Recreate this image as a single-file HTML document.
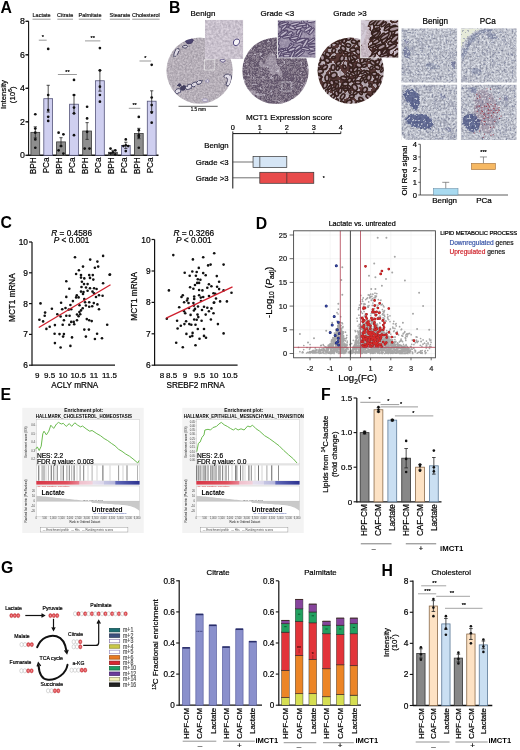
<!DOCTYPE html>
<html><head><meta charset="utf-8"><title>Figure</title>
<style>
html,body{margin:0;padding:0;background:#fff;}
body{width:520px;height:750px;overflow:hidden;}
svg{display:block;}
text{font-family:"Liberation Sans", Arial, sans-serif;}
</style></head><body>
<svg width="520" height="750" viewBox="0 0 520 750">
<defs>
<clipPath id="c_ben"><circle cx="199.6" cy="70.6" r="33.2"/></clipPath>
<filter id="n_ben" x="0" y="0" width="1" height="1" color-interpolation-filters="sRGB"><feTurbulence type="fractalNoise" baseFrequency="0.55" numOctaves="2" seed="3"/><feColorMatrix type="matrix" values="0.3 0 0 0 0.564  0.3 0 0 0 0.536  0.28 0 0 0 0.582  0 0 0 0 1"/></filter>
<filter id="l_ben" x="0" y="0" width="1" height="1" color-interpolation-filters="sRGB"><feTurbulence type="fractalNoise" baseFrequency="0.09" numOctaves="2" seed="12"/><feColorMatrix type="matrix" values="0 0 0 0 0.549  0 0 0 0 0.518  0 0 0 0 0.627  1 0 0 0 0"/><feComponentTransfer><feFuncA type="table" tableValues="0 0 0 0 0 0 0 0 0 0 0 0 0 0 0 0 0 0 0 0 0 0 0 0 0 0 0 0 0 0 0 0.6 0.6 0.6 0.6 0.6 0.6 0.6 0.6 0.6 0.6 0.6 0.6 0.6 0.6 0.6 0.6 0.6 0.6 0.6 0.6"/></feComponentTransfer></filter>
<filter id="wob" x="-0.2" y="-0.2" width="1.4" height="1.4"><feTurbulence type="fractalNoise" baseFrequency="0.45" numOctaves="2" seed="4"/><feDisplacementMap in="SourceGraphic" scale="2.2" xChannelSelector="R" yChannelSelector="G"/></filter>
<clipPath id="c_g1"><circle cx="275.5" cy="70.8" r="33.2"/></clipPath>
<filter id="soft" x="0" y="0" width="1" height="1"><feGaussianBlur stdDeviation="0.35"/></filter>
<filter id="n_g1" x="0" y="0" width="1" height="1" color-interpolation-filters="sRGB"><feTurbulence type="fractalNoise" baseFrequency="0.55" numOctaves="2" seed="5"/><feColorMatrix type="matrix" values="0.36 0 0 0 0.342  0.36 0 0 0 0.298  0.34 0 0 0 0.371  0 0 0 0 1"/></filter>
<filter id="l_g1" x="0" y="0" width="1" height="1" color-interpolation-filters="sRGB"><feTurbulence type="fractalNoise" baseFrequency="0.32" numOctaves="2" seed="21"/><feColorMatrix type="matrix" values="0 0 0 0 0.290  0 0 0 0 0.235  0 0 0 0 0.337  1 0 0 0 0"/><feComponentTransfer><feFuncA type="table" tableValues="0 0 0 0 0 0 0 0 0 0 0 0 0 0 0 0 0 0 0 0 0 0 0 0 0 0 0 0 0 0 0 0 0 0 0 0 0 0 0 0 0 0 0 0.55 0.55 0.55 0.55 0.55 0.55 0.55 0.55 0.55 0.55 0.55 0.55 0 0 0 0 0 0 0 0 0 0 0 0 0 0 0 0 0 0 0 0 0 0 0 0 0 0 0 0 0 0 0 0 0 0 0 0 0 0 0 0 0 0 0 0 0 0"/></feComponentTransfer></filter>
<filter id="w_g1" x="0" y="0" width="1" height="1" color-interpolation-filters="sRGB"><feTurbulence type="fractalNoise" baseFrequency="0.05" numOctaves="3" seed="31"/><feColorMatrix type="matrix" values="0 0 0 0 0.784  0 0 0 0 0.753  0 0 0 0 0.800  1 0 0 0 0"/><feComponentTransfer><feFuncA type="table" tableValues="0.5 0.5 0.5 0.5 0.5 0.5 0.5 0.5 0.5 0.5 0.5 0.5 0.5 0.5 0.5 0.5 0.5 0.5 0.5 0.5 0.5 0.5 0.5 0.5 0.5 0.5 0.5 0.5 0.5 0.5 0.5 0.5 0.5 0.5 0.5 0.5 0.5 0.5 0.5 0 0 0 0 0 0 0 0 0 0 0 0 0 0 0 0 0 0 0 0 0 0 0 0 0 0 0 0 0 0 0 0 0 0 0 0 0 0 0 0 0 0 0 0 0 0 0 0 0 0 0 0 0 0 0 0 0 0 0 0 0 0"/></feComponentTransfer></filter>
<filter id="w_g1b" x="0" y="0" width="1" height="1" color-interpolation-filters="sRGB"><feTurbulence type="fractalNoise" baseFrequency="0.3" numOctaves="1" seed="33"/><feColorMatrix type="matrix" values="0 0 0 0 0.847  0 0 0 0 0.831  0 0 0 0 0.878  1 0 0 0 0"/><feComponentTransfer><feFuncA type="table" tableValues="0 0 0 0 0 0 0 0 0 0 0 0 0 0 0 0 0 0 0 0 0 0 0 0 0 0 0 0 0 0 0 0 0 0 0 0 0 0 0 0 0 0 0 0 0 0 0 0 0 0 0 0 0 0 0 0 0 0 0 0 0 0 0 0 0 0 0 0 0 0 0.6 0.6 0.6 0.6 0.6 0.6 0.6 0.6 0.6 0.6 0.6 0.6 0.6 0.6 0.6 0.6 0.6 0.6 0.6 0.6 0.6 0.6 0.6 0.6 0.6 0.6 0.6 0.6 0.6 0.6 0.6"/></feComponentTransfer></filter>
<clipPath id="c_g2"><circle cx="350.7" cy="70.6" r="33.2"/></clipPath>
<filter id="n_g2" x="0" y="0" width="1" height="1" color-interpolation-filters="sRGB"><feTurbulence type="fractalNoise" baseFrequency="0.5" numOctaves="2" seed="7"/><feColorMatrix type="matrix" values="0.3 0 0 0 0.556  0.3 0 0 0 0.509  0.3 0 0 0 0.540  0 0 0 0 1"/></filter>
<filter id="l_g2" x="0" y="0" width="1" height="1" color-interpolation-filters="sRGB"><feTurbulence type="fractalNoise" baseFrequency="0.13" numOctaves="2" seed="41"/><feColorMatrix type="matrix" values="0 0 0 0 0.290  0 0 0 0 0.165  0 0 0 0 0.157  1 0 0 0 0"/><feComponentTransfer><feFuncA type="table" tableValues="0 0 0 0 0 0 0 0 0 0 0 0 0 0 0 0 0 0 0 0 0 0 0 0 0 0 0 0 0 0 0 0 0 0 0 0 0 0.9 0.9 0.9 0.9 0.9 0.9 0.9 0.9 0.9 0.9 0.9 0.9 0.9 0.9 0.9 0.9 0.9 0 0 0 0 0 0 0 0 0 0 0 0 0 0 0 0 0 0 0 0 0 0 0 0 0 0 0 0 0 0 0 0 0 0 0 0 0 0 0 0 0 0 0 0 0 0 0"/></feComponentTransfer></filter>
<filter id="n_ib" x="0" y="0" width="1" height="1" color-interpolation-filters="sRGB"><feTurbulence type="fractalNoise" baseFrequency="0.42" numOctaves="2" seed="13"/><feColorMatrix type="matrix" values="0.3 0 0 0 0.638  0.3 0 0 0 0.607  0.28 0 0 0 0.664  0 0 0 0 1"/></filter>
<filter id="l_ib" x="0" y="0" width="1" height="1" color-interpolation-filters="sRGB"><feTurbulence type="fractalNoise" baseFrequency="0.12" numOctaves="3" seed="17"/><feColorMatrix type="matrix" values="0 0 0 0 0.541  0 0 0 0 0.502  0 0 0 0 0.627  1 0 0 0 0"/><feComponentTransfer><feFuncA type="table" tableValues="0 0 0 0 0 0 0 0 0 0 0 0 0 0 0 0 0 0 0 0 0 0 0 0 0 0 0 0 0 0 0.5 0.5 0.5 0.5 0.5 0.5 0.5 0.5 0.5 0.5 0.5 0.5 0.5 0.5 0.5 0.5 0.5 0.5 0.5 0.5 0.5"/></feComponentTransfer></filter>
<filter id="n_i1" x="0" y="0" width="1" height="1" color-interpolation-filters="sRGB"><feTurbulence type="fractalNoise" baseFrequency="0.45" numOctaves="2" seed="15"/><feColorMatrix type="matrix" values="0.3 0 0 0 0.454  0.3 0 0 0 0.415  0.26 0 0 0 0.529  0 0 0 0 1"/></filter>
<clipPath id="c_i1"><rect x="277.9" y="20.5" width="37.5" height="37.0"/></clipPath>
<filter id="n_i2" x="0" y="0" width="1" height="1" color-interpolation-filters="sRGB"><feTurbulence type="fractalNoise" baseFrequency="0.45" numOctaves="2" seed="19"/><feColorMatrix type="matrix" values="0.3 0 0 0 0.619  0.3 0 0 0 0.564  0.3 0 0 0 0.603  0 0 0 0 1"/></filter>
<filter id="l_i2" x="0" y="0" width="1" height="1" color-interpolation-filters="sRGB"><feTurbulence type="fractalNoise" baseFrequency="0.1" numOctaves="2" seed="43"/><feColorMatrix type="matrix" values="0 0 0 0 0.243  0 0 0 0 0.133  0 0 0 0 0.125  1 0 0 0 0"/><feComponentTransfer><feFuncA type="table" tableValues="0 0 0 0 0 0 0 0 0 0 0 0 0 0 0 0 0 0 0 0 0 0 0 0 0 0 0 0 0 0 0 0 0 0 0 0 0 0 0 0 0 0 0.95 0.95 0.95 0.95 0.95 0.95 0.95 0.95 0.95 0 0 0 0 0 0 0 0 0 0 0 0 0 0 0 0 0 0 0 0 0 0 0 0 0 0 0 0 0 0 0 0 0 0 0 0 0 0 0 0 0 0 0 0 0 0 0 0 0 0"/></feComponentTransfer></filter>
<clipPath id="c_i2"><rect x="361.0" y="20.2" width="37.2" height="37.2"/></clipPath>
<filter id="wob2" x="-0.3" y="-0.3" width="1.6" height="1.6"><feTurbulence type="fractalNoise" baseFrequency="0.35" numOctaves="2" seed="9"/><feDisplacementMap in="SourceGraphic" scale="4" xChannelSelector="R" yChannelSelector="G"/><feGaussianBlur stdDeviation="0.4"/></filter>
<filter id="n_oTL" x="0" y="0" width="1" height="1" color-interpolation-filters="sRGB"><feTurbulence type="fractalNoise" baseFrequency="0.5" numOctaves="2" seed="61"/><feColorMatrix type="matrix" values="0.55 0 0 0 0.462  0.55 0 0 0 0.474  0.5 0 0 0 0.542  0 0 0 0 1"/></filter>
<filter id="w_oTL" x="0" y="0" width="1" height="1" color-interpolation-filters="sRGB"><feTurbulence type="fractalNoise" baseFrequency="0.55" numOctaves="1" seed="91"/><feColorMatrix type="matrix" values="0 0 0 0 0.886  0 0 0 0 0.894  0 0 0 0 0.918  1 0 0 0 0"/><feComponentTransfer><feFuncA type="table" tableValues="0 0 0 0 0 0 0 0 0 0 0 0 0 0 0 0 0 0 0 0 0 0 0 0 0 0 0 0 0 0 0 0 0.65 0.65 0.65 0.65 0.65 0.65 0.65 0.65 0.65 0.65 0.65 0.65 0.65 0.65 0.65 0.65 0.65 0.65 0.65"/></feComponentTransfer></filter>
<filter id="d_oTL" x="0" y="0" width="1" height="1" color-interpolation-filters="sRGB"><feTurbulence type="fractalNoise" baseFrequency="0.5" numOctaves="2" seed="71"/><feColorMatrix type="matrix" values="0 0 0 0 0.361  0 0 0 0 0.392  0 0 0 0 0.533  1 0 0 0 0"/><feComponentTransfer><feFuncA type="table" tableValues="0 0 0 0 0 0 0 0 0 0 0 0 0 0 0 0 0 0 0 0 0 0 0 0 0 0 0 0 0 0 0 0 0 0 0.42 0.42 0.42 0.42 0.42 0.42 0.42 0.42 0.42 0.42 0.42 0.42 0.42 0.42 0.42 0.42 0.42"/></feComponentTransfer></filter>
<filter id="e_oTL" x="0" y="0" width="1" height="1" color-interpolation-filters="sRGB"><feTurbulence type="fractalNoise" baseFrequency="0.12" numOctaves="2" seed="81"/><feColorMatrix type="matrix" values="0 0 0 0 0.478  0 0 0 0 0.494  0 0 0 0 0.596  1 0 0 0 0"/><feComponentTransfer><feFuncA type="table" tableValues="0 0 0 0 0 0 0 0 0 0 0 0 0 0 0 0 0 0 0 0 0 0 0 0 0 0 0 0 0 0 0 0 0.25 0.25 0.25 0.25 0.25 0.25 0.25 0.25 0.25 0.25 0.25 0.25 0.25 0.25 0.25 0.25 0.25 0.25 0.25"/></feComponentTransfer></filter>
<clipPath id="c_oTL"><rect x="401.5" y="28.5" width="55.6" height="54.0"/></clipPath>
<filter id="n_oTR" x="0" y="0" width="1" height="1" color-interpolation-filters="sRGB"><feTurbulence type="fractalNoise" baseFrequency="0.5" numOctaves="2" seed="62"/><feColorMatrix type="matrix" values="0.55 0 0 0 0.462  0.55 0 0 0 0.474  0.5 0 0 0 0.542  0 0 0 0 1"/></filter>
<filter id="w_oTR" x="0" y="0" width="1" height="1" color-interpolation-filters="sRGB"><feTurbulence type="fractalNoise" baseFrequency="0.55" numOctaves="1" seed="92"/><feColorMatrix type="matrix" values="0 0 0 0 0.886  0 0 0 0 0.894  0 0 0 0 0.918  1 0 0 0 0"/><feComponentTransfer><feFuncA type="table" tableValues="0 0 0 0 0 0 0 0 0 0 0 0 0 0 0 0 0 0 0 0 0 0 0 0 0 0 0 0 0 0 0 0 0.65 0.65 0.65 0.65 0.65 0.65 0.65 0.65 0.65 0.65 0.65 0.65 0.65 0.65 0.65 0.65 0.65 0.65 0.65"/></feComponentTransfer></filter>
<filter id="d_oTR" x="0" y="0" width="1" height="1" color-interpolation-filters="sRGB"><feTurbulence type="fractalNoise" baseFrequency="0.5" numOctaves="2" seed="72"/><feColorMatrix type="matrix" values="0 0 0 0 0.361  0 0 0 0 0.392  0 0 0 0 0.533  1 0 0 0 0"/><feComponentTransfer><feFuncA type="table" tableValues="0 0 0 0 0 0 0 0 0 0 0 0 0 0 0 0 0 0 0 0 0 0 0 0 0 0 0 0 0 0 0 0 0 0 0.42 0.42 0.42 0.42 0.42 0.42 0.42 0.42 0.42 0.42 0.42 0.42 0.42 0.42 0.42 0.42 0.42"/></feComponentTransfer></filter>
<filter id="e_oTR" x="0" y="0" width="1" height="1" color-interpolation-filters="sRGB"><feTurbulence type="fractalNoise" baseFrequency="0.12" numOctaves="2" seed="82"/><feColorMatrix type="matrix" values="0 0 0 0 0.478  0 0 0 0 0.494  0 0 0 0 0.596  1 0 0 0 0"/><feComponentTransfer><feFuncA type="table" tableValues="0 0 0 0 0 0 0 0 0 0 0 0 0 0 0 0 0 0 0 0 0 0 0 0 0 0 0 0 0 0 0 0 0.25 0.25 0.25 0.25 0.25 0.25 0.25 0.25 0.25 0.25 0.25 0.25 0.25 0.25 0.25 0.25 0.25 0.25 0.25"/></feComponentTransfer></filter>
<clipPath id="c_oTR"><rect x="460.9" y="28.5" width="55.6" height="54.0"/></clipPath>
<filter id="n_oBL" x="0" y="0" width="1" height="1" color-interpolation-filters="sRGB"><feTurbulence type="fractalNoise" baseFrequency="0.5" numOctaves="2" seed="63"/><feColorMatrix type="matrix" values="0.55 0 0 0 0.462  0.55 0 0 0 0.474  0.5 0 0 0 0.542  0 0 0 0 1"/></filter>
<filter id="w_oBL" x="0" y="0" width="1" height="1" color-interpolation-filters="sRGB"><feTurbulence type="fractalNoise" baseFrequency="0.55" numOctaves="1" seed="93"/><feColorMatrix type="matrix" values="0 0 0 0 0.886  0 0 0 0 0.894  0 0 0 0 0.918  1 0 0 0 0"/><feComponentTransfer><feFuncA type="table" tableValues="0 0 0 0 0 0 0 0 0 0 0 0 0 0 0 0 0 0 0 0 0 0 0 0 0 0 0 0 0 0 0 0 0.65 0.65 0.65 0.65 0.65 0.65 0.65 0.65 0.65 0.65 0.65 0.65 0.65 0.65 0.65 0.65 0.65 0.65 0.65"/></feComponentTransfer></filter>
<filter id="d_oBL" x="0" y="0" width="1" height="1" color-interpolation-filters="sRGB"><feTurbulence type="fractalNoise" baseFrequency="0.5" numOctaves="2" seed="73"/><feColorMatrix type="matrix" values="0 0 0 0 0.361  0 0 0 0 0.392  0 0 0 0 0.533  1 0 0 0 0"/><feComponentTransfer><feFuncA type="table" tableValues="0 0 0 0 0 0 0 0 0 0 0 0 0 0 0 0 0 0 0 0 0 0 0 0 0 0 0 0 0 0 0 0 0 0 0.42 0.42 0.42 0.42 0.42 0.42 0.42 0.42 0.42 0.42 0.42 0.42 0.42 0.42 0.42 0.42 0.42"/></feComponentTransfer></filter>
<filter id="e_oBL" x="0" y="0" width="1" height="1" color-interpolation-filters="sRGB"><feTurbulence type="fractalNoise" baseFrequency="0.12" numOctaves="2" seed="83"/><feColorMatrix type="matrix" values="0 0 0 0 0.478  0 0 0 0 0.494  0 0 0 0 0.596  1 0 0 0 0"/><feComponentTransfer><feFuncA type="table" tableValues="0 0 0 0 0 0 0 0 0 0 0 0 0 0 0 0 0 0 0 0 0 0 0 0 0 0 0 0 0 0 0 0 0.25 0.25 0.25 0.25 0.25 0.25 0.25 0.25 0.25 0.25 0.25 0.25 0.25 0.25 0.25 0.25 0.25 0.25 0.25"/></feComponentTransfer></filter>
<clipPath id="c_oBL"><rect x="401.5" y="84.8" width="55.6" height="55.2"/></clipPath>
<filter id="n_oBR" x="0" y="0" width="1" height="1" color-interpolation-filters="sRGB"><feTurbulence type="fractalNoise" baseFrequency="0.5" numOctaves="2" seed="64"/><feColorMatrix type="matrix" values="0.55 0 0 0 0.462  0.55 0 0 0 0.474  0.5 0 0 0 0.542  0 0 0 0 1"/></filter>
<filter id="w_oBR" x="0" y="0" width="1" height="1" color-interpolation-filters="sRGB"><feTurbulence type="fractalNoise" baseFrequency="0.55" numOctaves="1" seed="94"/><feColorMatrix type="matrix" values="0 0 0 0 0.886  0 0 0 0 0.894  0 0 0 0 0.918  1 0 0 0 0"/><feComponentTransfer><feFuncA type="table" tableValues="0 0 0 0 0 0 0 0 0 0 0 0 0 0 0 0 0 0 0 0 0 0 0 0 0 0 0 0 0 0 0 0 0.65 0.65 0.65 0.65 0.65 0.65 0.65 0.65 0.65 0.65 0.65 0.65 0.65 0.65 0.65 0.65 0.65 0.65 0.65"/></feComponentTransfer></filter>
<filter id="d_oBR" x="0" y="0" width="1" height="1" color-interpolation-filters="sRGB"><feTurbulence type="fractalNoise" baseFrequency="0.5" numOctaves="2" seed="74"/><feColorMatrix type="matrix" values="0 0 0 0 0.361  0 0 0 0 0.392  0 0 0 0 0.533  1 0 0 0 0"/><feComponentTransfer><feFuncA type="table" tableValues="0 0 0 0 0 0 0 0 0 0 0 0 0 0 0 0 0 0 0 0 0 0 0 0 0 0 0 0 0 0 0 0 0 0 0.42 0.42 0.42 0.42 0.42 0.42 0.42 0.42 0.42 0.42 0.42 0.42 0.42 0.42 0.42 0.42 0.42"/></feComponentTransfer></filter>
<filter id="e_oBR" x="0" y="0" width="1" height="1" color-interpolation-filters="sRGB"><feTurbulence type="fractalNoise" baseFrequency="0.12" numOctaves="2" seed="84"/><feColorMatrix type="matrix" values="0 0 0 0 0.478  0 0 0 0 0.494  0 0 0 0 0.596  1 0 0 0 0"/><feComponentTransfer><feFuncA type="table" tableValues="0 0 0 0 0 0 0 0 0 0 0 0 0 0 0 0 0 0 0 0 0 0 0 0 0 0 0 0 0 0 0 0 0.25 0.25 0.25 0.25 0.25 0.25 0.25 0.25 0.25 0.25 0.25 0.25 0.25 0.25 0.25 0.25 0.25 0.25 0.25"/></feComponentTransfer></filter>
<clipPath id="c_oBR"><rect x="460.9" y="84.8" width="55.6" height="55.2"/></clipPath>
<clipPath id="cpD"><rect x="293.6" y="230.8" width="141.79999999999995" height="127.0"/></clipPath>
<linearGradient id="cb1" x1="0" x2="1" y1="0" y2="0"><stop offset="0" stop-color="#d83848"/><stop offset="0.3" stop-color="#e0505e"/><stop offset="0.41" stop-color="#e88090"/><stop offset="0.42" stop-color="#f0c0cc"/><stop offset="0.54" stop-color="#f2d0da"/><stop offset="0.55" stop-color="#e6e0ee"/><stop offset="0.65" stop-color="#dcd8ec"/><stop offset="0.66" stop-color="#c4c4e2"/><stop offset="0.76" stop-color="#b8b8dc"/><stop offset="0.77" stop-color="#6068b8"/><stop offset="1" stop-color="#2c3290"/></linearGradient>
<linearGradient id="cb2" x1="0" x2="1" y1="0" y2="0"><stop offset="0" stop-color="#d83848"/><stop offset="0.3" stop-color="#e0505e"/><stop offset="0.41" stop-color="#e88090"/><stop offset="0.42" stop-color="#f0c0cc"/><stop offset="0.54" stop-color="#f2d0da"/><stop offset="0.55" stop-color="#e6e0ee"/><stop offset="0.65" stop-color="#dcd8ec"/><stop offset="0.66" stop-color="#c4c4e2"/><stop offset="0.76" stop-color="#b8b8dc"/><stop offset="0.77" stop-color="#6068b8"/><stop offset="1" stop-color="#2c3290"/></linearGradient>
</defs>
<rect x="0" y="0" width="520" height="750" fill="#fff"/>
<text x="0.50" y="12.60" font-size="15.8" text-anchor="start" font-weight="bold" fill="#000">A</text>
<line x1="28.60" y1="21.30" x2="28.60" y2="155.80" stroke="#111" stroke-width="1.1"/>
<line x1="26.40" y1="155.30" x2="28.60" y2="155.30" stroke="#111" stroke-width="1"/>
<line x1="25.40" y1="155.30" x2="28.60" y2="155.30" stroke="#111" stroke-width="1.2"/>
<text x="25.00" y="158.40" font-size="8.8" text-anchor="end" fill="#000" stroke="#000" stroke-width="0.2">0</text>
<line x1="26.40" y1="121.80" x2="28.60" y2="121.80" stroke="#111" stroke-width="1"/>
<line x1="25.40" y1="121.80" x2="28.60" y2="121.80" stroke="#111" stroke-width="1.2"/>
<text x="25.00" y="124.90" font-size="8.8" text-anchor="end" fill="#000" stroke="#000" stroke-width="0.2">2</text>
<line x1="26.40" y1="88.30" x2="28.60" y2="88.30" stroke="#111" stroke-width="1"/>
<line x1="25.40" y1="88.30" x2="28.60" y2="88.30" stroke="#111" stroke-width="1.2"/>
<text x="25.00" y="91.40" font-size="8.8" text-anchor="end" fill="#000" stroke="#000" stroke-width="0.2">4</text>
<line x1="26.40" y1="54.80" x2="28.60" y2="54.80" stroke="#111" stroke-width="1"/>
<line x1="25.40" y1="54.80" x2="28.60" y2="54.80" stroke="#111" stroke-width="1.2"/>
<text x="25.00" y="57.90" font-size="8.8" text-anchor="end" fill="#000" stroke="#000" stroke-width="0.2">6</text>
<line x1="26.40" y1="21.30" x2="28.60" y2="21.30" stroke="#111" stroke-width="1"/>
<line x1="25.40" y1="21.30" x2="28.60" y2="21.30" stroke="#111" stroke-width="1.2"/>
<text x="25.00" y="24.40" font-size="8.8" text-anchor="end" fill="#000" stroke="#000" stroke-width="0.2">8</text>
<line x1="28.60" y1="155.30" x2="158.50" y2="155.30" stroke="#111" stroke-width="1.4"/>
<text x="6.30" y="94.50" font-size="7.8" text-anchor="middle" fill="#000" stroke="#000" stroke-width="0.2" transform="rotate(-90 6.3 94.5)">Intensity</text>
<text x="14.60" y="94.80" font-size="7.8" text-anchor="middle" fill="#000" stroke="#000" stroke-width="0.2" transform="rotate(-90 14.6 94.8)">(10<tspan font-size="5" dy="-2.8">6</tspan><tspan dy="2.8">)</tspan></text>
<text x="41.55" y="17.30" font-size="5.5" text-anchor="middle" fill="#151515" stroke="#151515" stroke-width="0.2">Lactate</text>
<line x1="32.50" y1="19.20" x2="50.60" y2="19.20" stroke="#555" stroke-width="0.6"/>
<text x="65.15" y="17.30" font-size="5.5" text-anchor="middle" fill="#151515" stroke="#151515" stroke-width="0.2">Citrate</text>
<line x1="57.30" y1="19.20" x2="73.00" y2="19.20" stroke="#555" stroke-width="0.6"/>
<text x="90.00" y="17.30" font-size="5.5" text-anchor="middle" fill="#151515" stroke="#151515" stroke-width="0.2">Palmitate</text>
<line x1="78.80" y1="19.20" x2="101.20" y2="19.20" stroke="#555" stroke-width="0.6"/>
<text x="119.90" y="17.30" font-size="5.5" text-anchor="middle" fill="#151515" stroke="#151515" stroke-width="0.2">Stearate</text>
<line x1="109.80" y1="19.20" x2="130.00" y2="19.20" stroke="#555" stroke-width="0.6"/>
<text x="145.90" y="17.30" font-size="5.5" text-anchor="middle" fill="#151515" stroke="#151515" stroke-width="0.2">Cholesterol</text>
<line x1="132.20" y1="19.20" x2="159.60" y2="19.20" stroke="#555" stroke-width="0.6"/>
<rect x="30.90" y="132.35" width="8.80" height="22.95" fill="#8e8e8e" stroke="#3a3a3a" stroke-width="0.8"/>
<line x1="35.30" y1="126.83" x2="35.30" y2="137.88" stroke="#222" stroke-width="0.8"/>
<line x1="33.70" y1="126.83" x2="36.90" y2="126.83" stroke="#222" stroke-width="0.8"/>
<line x1="33.70" y1="137.88" x2="36.90" y2="137.88" stroke="#222" stroke-width="0.8"/>
<circle cx="35.30" cy="114.26" r="1.35" fill="#111" stroke="none" stroke-width="0.5"/>
<circle cx="35.30" cy="128.50" r="1.35" fill="#111" stroke="none" stroke-width="0.5"/>
<circle cx="35.30" cy="132.69" r="1.35" fill="#111" stroke="none" stroke-width="0.5"/>
<circle cx="35.30" cy="139.39" r="1.35" fill="#111" stroke="none" stroke-width="0.5"/>
<circle cx="35.30" cy="147.76" r="1.35" fill="#111" stroke="none" stroke-width="0.5"/>
<text x="36.20" y="157.40" font-size="8.2" text-anchor="end" fill="#000" stroke="#000" stroke-width="0.2" transform="rotate(-90 36.199999999999996 157.4)">BPH</text>
<rect x="43.80" y="98.69" width="8.80" height="56.61" fill="#cfcff0" stroke="#55557a" stroke-width="0.8"/>
<line x1="48.20" y1="85.29" x2="48.20" y2="112.09" stroke="#222" stroke-width="0.8"/>
<line x1="46.60" y1="85.29" x2="49.80" y2="85.29" stroke="#222" stroke-width="0.8"/>
<line x1="46.60" y1="112.09" x2="49.80" y2="112.09" stroke="#222" stroke-width="0.8"/>
<circle cx="48.20" cy="48.94" r="1.35" fill="#111" stroke="none" stroke-width="0.5"/>
<circle cx="48.20" cy="95.00" r="1.35" fill="#111" stroke="none" stroke-width="0.5"/>
<circle cx="48.20" cy="110.08" r="1.35" fill="#111" stroke="none" stroke-width="0.5"/>
<circle cx="48.20" cy="116.78" r="1.35" fill="#111" stroke="none" stroke-width="0.5"/>
<circle cx="48.20" cy="120.96" r="1.35" fill="#111" stroke="none" stroke-width="0.5"/>
<text x="49.10" y="157.40" font-size="8.2" text-anchor="end" fill="#000" stroke="#000" stroke-width="0.2" transform="rotate(-90 49.1 157.4)">PCa</text>
<rect x="56.60" y="141.90" width="8.80" height="13.40" fill="#8e8e8e" stroke="#3a3a3a" stroke-width="0.8"/>
<line x1="61.00" y1="137.71" x2="61.00" y2="146.09" stroke="#222" stroke-width="0.8"/>
<line x1="59.40" y1="137.71" x2="62.60" y2="137.71" stroke="#222" stroke-width="0.8"/>
<line x1="59.40" y1="146.09" x2="62.60" y2="146.09" stroke="#222" stroke-width="0.8"/>
<circle cx="58.60" cy="132.69" r="1.35" fill="#111" stroke="none" stroke-width="0.5"/>
<circle cx="63.40" cy="134.36" r="1.35" fill="#111" stroke="none" stroke-width="0.5"/>
<circle cx="61.00" cy="146.09" r="1.35" fill="#111" stroke="none" stroke-width="0.5"/>
<circle cx="58.60" cy="150.28" r="1.35" fill="#111" stroke="none" stroke-width="0.5"/>
<circle cx="63.40" cy="153.62" r="1.35" fill="#111" stroke="none" stroke-width="0.5"/>
<text x="61.90" y="157.40" font-size="8.2" text-anchor="end" fill="#000" stroke="#000" stroke-width="0.2" transform="rotate(-90 61.9 157.4)">BPH</text>
<rect x="69.60" y="104.21" width="8.80" height="51.09" fill="#cfcff0" stroke="#55557a" stroke-width="0.8"/>
<line x1="74.00" y1="95.00" x2="74.00" y2="113.43" stroke="#222" stroke-width="0.8"/>
<line x1="72.40" y1="95.00" x2="75.60" y2="95.00" stroke="#222" stroke-width="0.8"/>
<line x1="72.40" y1="113.43" x2="75.60" y2="113.43" stroke="#222" stroke-width="0.8"/>
<circle cx="74.00" cy="79.93" r="1.35" fill="#111" stroke="none" stroke-width="0.5"/>
<circle cx="74.00" cy="95.00" r="1.35" fill="#111" stroke="none" stroke-width="0.5"/>
<circle cx="74.00" cy="107.56" r="1.35" fill="#111" stroke="none" stroke-width="0.5"/>
<circle cx="74.00" cy="113.43" r="1.35" fill="#111" stroke="none" stroke-width="0.5"/>
<circle cx="74.00" cy="135.20" r="1.35" fill="#111" stroke="none" stroke-width="0.5"/>
<text x="74.90" y="157.40" font-size="8.2" text-anchor="end" fill="#000" stroke="#000" stroke-width="0.2" transform="rotate(-90 74.9 157.4)">PCa</text>
<rect x="82.70" y="131.01" width="8.80" height="24.29" fill="#8e8e8e" stroke="#3a3a3a" stroke-width="0.8"/>
<line x1="87.10" y1="122.64" x2="87.10" y2="139.39" stroke="#222" stroke-width="0.8"/>
<line x1="85.50" y1="122.64" x2="88.70" y2="122.64" stroke="#222" stroke-width="0.8"/>
<line x1="85.50" y1="139.39" x2="88.70" y2="139.39" stroke="#222" stroke-width="0.8"/>
<circle cx="87.10" cy="106.73" r="1.35" fill="#111" stroke="none" stroke-width="0.5"/>
<circle cx="87.10" cy="118.45" r="1.35" fill="#111" stroke="none" stroke-width="0.5"/>
<circle cx="87.10" cy="131.85" r="1.35" fill="#111" stroke="none" stroke-width="0.5"/>
<circle cx="84.70" cy="148.60" r="1.35" fill="#111" stroke="none" stroke-width="0.5"/>
<circle cx="89.50" cy="148.60" r="1.35" fill="#111" stroke="none" stroke-width="0.5"/>
<text x="88.00" y="157.40" font-size="8.2" text-anchor="end" fill="#000" stroke="#000" stroke-width="0.2" transform="rotate(-90 88.0 157.4)">BPH</text>
<rect x="95.50" y="80.76" width="8.80" height="74.54" fill="#cfcff0" stroke="#55557a" stroke-width="0.8"/>
<line x1="99.90" y1="70.38" x2="99.90" y2="91.15" stroke="#222" stroke-width="0.8"/>
<line x1="98.30" y1="70.38" x2="101.50" y2="70.38" stroke="#222" stroke-width="0.8"/>
<line x1="98.30" y1="91.15" x2="101.50" y2="91.15" stroke="#222" stroke-width="0.8"/>
<circle cx="99.90" cy="48.10" r="1.35" fill="#111" stroke="none" stroke-width="0.5"/>
<circle cx="99.90" cy="70.38" r="1.35" fill="#111" stroke="none" stroke-width="0.5"/>
<circle cx="99.90" cy="86.63" r="1.35" fill="#111" stroke="none" stroke-width="0.5"/>
<circle cx="99.90" cy="95.00" r="1.35" fill="#111" stroke="none" stroke-width="0.5"/>
<circle cx="99.90" cy="101.70" r="1.35" fill="#111" stroke="none" stroke-width="0.5"/>
<text x="100.80" y="157.40" font-size="8.2" text-anchor="end" fill="#000" stroke="#000" stroke-width="0.2" transform="rotate(-90 100.80000000000001 157.4)">PCa</text>
<rect x="108.50" y="152.29" width="8.80" height="3.01" fill="#8e8e8e" stroke="#3a3a3a" stroke-width="0.8"/>
<line x1="112.90" y1="150.28" x2="112.90" y2="154.30" stroke="#222" stroke-width="0.8"/>
<line x1="111.30" y1="150.28" x2="114.50" y2="150.28" stroke="#222" stroke-width="0.8"/>
<line x1="111.30" y1="154.30" x2="114.50" y2="154.30" stroke="#222" stroke-width="0.8"/>
<circle cx="110.50" cy="148.60" r="1.35" fill="#111" stroke="none" stroke-width="0.5"/>
<circle cx="115.30" cy="150.28" r="1.35" fill="#111" stroke="none" stroke-width="0.5"/>
<circle cx="112.90" cy="152.29" r="1.35" fill="#111" stroke="none" stroke-width="0.5"/>
<circle cx="110.50" cy="153.62" r="1.35" fill="#111" stroke="none" stroke-width="0.5"/>
<circle cx="115.30" cy="154.46" r="1.35" fill="#111" stroke="none" stroke-width="0.5"/>
<text x="113.80" y="157.40" font-size="8.2" text-anchor="end" fill="#000" stroke="#000" stroke-width="0.2" transform="rotate(-90 113.80000000000001 157.4)">BPH</text>
<rect x="121.40" y="145.42" width="8.80" height="9.88" fill="#cfcff0" stroke="#55557a" stroke-width="0.8"/>
<line x1="125.80" y1="142.24" x2="125.80" y2="148.60" stroke="#222" stroke-width="0.8"/>
<line x1="124.20" y1="142.24" x2="127.40" y2="142.24" stroke="#222" stroke-width="0.8"/>
<line x1="124.20" y1="148.60" x2="127.40" y2="148.60" stroke="#222" stroke-width="0.8"/>
<circle cx="125.80" cy="139.39" r="1.35" fill="#111" stroke="none" stroke-width="0.5"/>
<circle cx="123.40" cy="146.09" r="1.35" fill="#111" stroke="none" stroke-width="0.5"/>
<circle cx="128.20" cy="146.09" r="1.35" fill="#111" stroke="none" stroke-width="0.5"/>
<circle cx="125.80" cy="151.11" r="1.35" fill="#111" stroke="none" stroke-width="0.5"/>
<circle cx="125.80" cy="145.25" r="1.35" fill="#111" stroke="none" stroke-width="0.5"/>
<text x="126.70" y="157.40" font-size="8.2" text-anchor="end" fill="#000" stroke="#000" stroke-width="0.2" transform="rotate(-90 126.7 157.4)">PCa</text>
<rect x="134.40" y="133.53" width="8.80" height="21.78" fill="#8e8e8e" stroke="#3a3a3a" stroke-width="0.8"/>
<line x1="138.80" y1="128.33" x2="138.80" y2="138.72" stroke="#222" stroke-width="0.8"/>
<line x1="137.20" y1="128.33" x2="140.40" y2="128.33" stroke="#222" stroke-width="0.8"/>
<line x1="137.20" y1="138.72" x2="140.40" y2="138.72" stroke="#222" stroke-width="0.8"/>
<circle cx="138.80" cy="116.94" r="1.35" fill="#111" stroke="none" stroke-width="0.5"/>
<circle cx="138.80" cy="136.88" r="1.35" fill="#111" stroke="none" stroke-width="0.5"/>
<circle cx="138.80" cy="147.76" r="1.35" fill="#111" stroke="none" stroke-width="0.5"/>
<circle cx="138.80" cy="130.18" r="1.35" fill="#111" stroke="none" stroke-width="0.5"/>
<circle cx="138.80" cy="135.20" r="1.35" fill="#111" stroke="none" stroke-width="0.5"/>
<text x="139.70" y="157.40" font-size="8.2" text-anchor="end" fill="#000" stroke="#000" stroke-width="0.2" transform="rotate(-90 139.70000000000002 157.4)">BPH</text>
<rect x="147.30" y="101.20" width="8.80" height="54.10" fill="#cfcff0" stroke="#55557a" stroke-width="0.8"/>
<line x1="151.70" y1="90.81" x2="151.70" y2="111.58" stroke="#222" stroke-width="0.8"/>
<line x1="150.10" y1="90.81" x2="153.30" y2="90.81" stroke="#222" stroke-width="0.8"/>
<line x1="150.10" y1="111.58" x2="153.30" y2="111.58" stroke="#222" stroke-width="0.8"/>
<circle cx="151.70" cy="64.85" r="1.35" fill="#111" stroke="none" stroke-width="0.5"/>
<circle cx="151.70" cy="97.51" r="1.35" fill="#111" stroke="none" stroke-width="0.5"/>
<circle cx="151.70" cy="105.05" r="1.35" fill="#111" stroke="none" stroke-width="0.5"/>
<circle cx="151.70" cy="112.59" r="1.35" fill="#111" stroke="none" stroke-width="0.5"/>
<circle cx="151.70" cy="122.64" r="1.35" fill="#111" stroke="none" stroke-width="0.5"/>
<text x="152.60" y="157.40" font-size="8.2" text-anchor="end" fill="#000" stroke="#000" stroke-width="0.2" transform="rotate(-90 152.6 157.4)">PCa</text>
<line x1="38.80" y1="40.20" x2="46.70" y2="40.20" stroke="#555" stroke-width="0.6"/>
<text x="42.75" y="39.20" font-size="5.5" text-anchor="middle" fill="#000" stroke="#000" stroke-width="0.2">*</text>
<line x1="57.90" y1="74.50" x2="76.90" y2="74.50" stroke="#555" stroke-width="0.6"/>
<text x="67.40" y="73.50" font-size="5.5" text-anchor="middle" fill="#000" stroke="#000" stroke-width="0.2">**</text>
<line x1="85.00" y1="40.90" x2="100.30" y2="40.90" stroke="#555" stroke-width="0.6"/>
<text x="92.65" y="39.90" font-size="5.5" text-anchor="middle" fill="#000" stroke="#000" stroke-width="0.2">**</text>
<line x1="128.80" y1="108.30" x2="140.40" y2="108.30" stroke="#555" stroke-width="0.6"/>
<text x="134.60" y="107.30" font-size="5.5" text-anchor="middle" fill="#000" stroke="#000" stroke-width="0.2">**</text>
<line x1="139.50" y1="61.00" x2="151.20" y2="61.00" stroke="#555" stroke-width="0.6"/>
<text x="145.35" y="60.00" font-size="5.5" text-anchor="middle" fill="#000" stroke="#000" stroke-width="0.2">*</text>
<text x="168.90" y="12.60" font-size="15.8" text-anchor="start" font-weight="bold" fill="#000">B</text>
<text x="202.90" y="16.00" font-size="8.0" text-anchor="middle" fill="#000" stroke="#000" stroke-width="0.2">Benign</text>
<text x="277.30" y="16.00" font-size="8.0" text-anchor="middle" fill="#000" stroke="#000" stroke-width="0.2">Grade &lt;3</text>
<text x="350.00" y="16.00" font-size="8.0" text-anchor="middle" fill="#000" stroke="#000" stroke-width="0.2">Grade &gt;3</text>
<g clip-path="url(#c_ben)">
<rect x="166.40" y="37.40" width="66.40" height="66.40" fill="#b6afb8" stroke="none" stroke-width="1" filter="url(#n_ben)"/>
<g filter="url(#wob)">
<path d="M185.5 40.5 C187.5 37.8 192 37.6 193.2 40 C193.5 42.5 190.5 44 188 43.6 C186.5 43.3 185.3 42 185.5 40.5 Z" fill="#4e4470" stroke="#3e3660" stroke-width="1.0"/>
<path d="M173.8 55.5 C174 52 176 48.6 178.6 48.2 C179.6 49 178.8 52.5 177 55 C176 56.5 174.4 57 173.8 55.5 Z" fill="#dedae4" stroke="#44415f" stroke-width="1.0"/>
<path d="M182.2 46.8 C183.8 45 187 45 187.8 46.4 C187 48.2 184 48.8 182.2 46.8 Z" fill="#dedae4" stroke="#44415f" stroke-width="1.0"/>
<path d="M175 91.5 C176 88.5 179 88 180.5 89.5 C181.5 91.5 179.5 93.8 177 93.8 C175.8 93.6 175 92.8 175 91.5 Z" fill="#dedae4" stroke="#3c3a5c" stroke-width="1.0"/>
<path d="M180.5 88 C181.5 85.5 184.5 85 186 86.5 C186.5 88.5 184.5 90.5 182.5 90.2 C181 90 180.4 89 180.5 88 Z" fill="#44415f" stroke="#3c3a5c" stroke-width="1.0"/>
<path d="M185.5 87.5 C187 84.5 190.5 83.5 192 85 C192.5 87 190 89.5 187.5 89.5 C186 89.2 185.3 88.5 185.5 87.5 Z" fill="#dedae4" stroke="#3c3a5c" stroke-width="1.0"/>
<path d="M191.5 84.5 C193 82 196.5 81.5 197.5 83 C197.8 85 195.5 86.8 193.5 86.8 C192 86.6 191.4 85.6 191.5 84.5 Z" fill="#dedae4" stroke="#3c3a5c" stroke-width="1.0"/>
<path d="M196.5 82.5 C198 80.3 201 80 202 81.2 C202 83 199.8 84.5 198 84.3 C197 84.1 196.4 83.4 196.5 82.5 Z" fill="#dcd8e2" stroke="#3c3a5c" stroke-width="1.0"/>
<path d="M178 84.5 C179.5 83.2 181.5 84 181 85.8 C180 87 178 86.5 178 84.5 Z" fill="#44415f" stroke="#3c3a5c" stroke-width="1.0"/>
<path d="M223.8 76 C225.5 73.8 229.5 73.5 231.2 75.5 C232.2 78.5 231 83.5 228.5 86 C226.8 86.5 225.5 85 226.5 83 C228 80.5 228 78 226 77.6 C224.8 77.6 224 77.2 223.8 76 Z" fill="#e2dee8" stroke="#44415f" stroke-width="1.0"/>
<path d="M220 60.2 C221.2 58.8 224.6 58.8 225.2 60.6 C224.4 62.6 221.4 62.8 220 60.2 Z" fill="#e2dee8" stroke="#5a5080" stroke-width="1.0"/>
<path d="M206.2 80.5 C207 79 209 79.4 208.8 81.6 C208 83.4 206.4 82.8 206.2 80.5 Z" fill="#e2dee8" stroke="#9088aa" stroke-width="1.0"/>
<path d="M202 100 C203.5 98.4 207 98.4 208 100.2 C206.5 102 203.5 102.2 202 100 Z" fill="#e2dee8" stroke="#a098b8" stroke-width="1.0"/>
</g>
</g>
<g clip-path="url(#c_g1)"><g filter="url(#soft)">
<rect x="242.30" y="37.60" width="66.40" height="66.40" fill="#857a8a" stroke="none" stroke-width="1" filter="url(#n_g1)"/>
<rect x="242.30" y="37.60" width="66.40" height="66.40" fill="#000" stroke="none" stroke-width="1" filter="url(#l_g1)"/>
<rect x="242.30" y="37.60" width="66.40" height="66.40" fill="#000" stroke="none" stroke-width="1" filter="url(#w_g1)"/>
<rect x="242.30" y="37.60" width="66.40" height="66.40" fill="#000" stroke="none" stroke-width="1" filter="url(#w_g1b)"/>
</g></g>
<g clip-path="url(#c_g2)"><g filter="url(#soft)">
<rect x="317.50" y="37.40" width="66.40" height="66.40" fill="#c0b4bc" stroke="none" stroke-width="1" filter="url(#n_g2)"/>
<rect x="317.50" y="37.40" width="66.40" height="66.40" fill="#000" stroke="none" stroke-width="1" filter="url(#l_g2)"/>
<ellipse cx="327.0" cy="77.9" rx="3.1" ry="2.0" transform="rotate(91 327.0 77.9)" fill="#a8949c" stroke="#36201e" stroke-width="1.6"/>
<ellipse cx="338.5" cy="63.2" rx="2.5" ry="1.7" transform="rotate(143 338.5 63.2)" fill="#a8949c" stroke="#36201e" stroke-width="1.6"/>
<ellipse cx="365.9" cy="80.8" rx="1.9" ry="1.4" transform="rotate(125 365.9 80.8)" fill="#a8949c" stroke="#36201e" stroke-width="1.6"/>
<ellipse cx="382.5" cy="79.2" rx="3.2" ry="2.2" transform="rotate(111 382.5 79.2)" fill="#a8949c" stroke="#36201e" stroke-width="1.6"/>
<ellipse cx="352.9" cy="74.0" rx="2.5" ry="1.3" transform="rotate(34 352.9 74.0)" fill="#a8949c" stroke="#36201e" stroke-width="1.6"/>
<ellipse cx="363.8" cy="50.6" rx="2.7" ry="1.8" transform="rotate(119 363.8 50.6)" fill="#a8949c" stroke="#36201e" stroke-width="1.6"/>
<ellipse cx="333.8" cy="75.2" rx="3.2" ry="2.6" transform="rotate(151 333.8 75.2)" fill="#a8949c" stroke="#36201e" stroke-width="1.6"/>
<ellipse cx="345.8" cy="52.6" rx="2.1" ry="1.2" transform="rotate(13 345.8 52.6)" fill="#a8949c" stroke="#36201e" stroke-width="1.6"/>
<ellipse cx="352.8" cy="49.7" rx="3.0" ry="1.8" transform="rotate(172 352.8 49.7)" fill="#a8949c" stroke="#36201e" stroke-width="1.6"/>
<ellipse cx="351.1" cy="70.0" rx="2.1" ry="1.6" transform="rotate(85 351.1 70.0)" fill="#a8949c" stroke="#36201e" stroke-width="1.6"/>
<ellipse cx="371.5" cy="68.0" rx="1.9" ry="1.3" transform="rotate(140 371.5 68.0)" fill="#a8949c" stroke="#36201e" stroke-width="1.6"/>
<ellipse cx="349.5" cy="80.3" rx="2.3" ry="1.8" transform="rotate(136 349.5 80.3)" fill="#a8949c" stroke="#36201e" stroke-width="1.6"/>
<ellipse cx="354.8" cy="57.2" rx="2.6" ry="1.6" transform="rotate(34 354.8 57.2)" fill="#a8949c" stroke="#36201e" stroke-width="1.6"/>
<ellipse cx="349.3" cy="58.7" rx="2.7" ry="1.4" transform="rotate(76 349.3 58.7)" fill="#a8949c" stroke="#36201e" stroke-width="1.6"/>
<ellipse cx="354.7" cy="87.4" rx="3.2" ry="2.3" transform="rotate(55 354.7 87.4)" fill="#a8949c" stroke="#36201e" stroke-width="1.6"/>
<ellipse cx="362.1" cy="60.5" rx="2.4" ry="1.8" transform="rotate(116 362.1 60.5)" fill="#a8949c" stroke="#36201e" stroke-width="1.6"/>
<ellipse cx="377.4" cy="90.1" rx="2.1" ry="1.2" transform="rotate(139 377.4 90.1)" fill="#a8949c" stroke="#36201e" stroke-width="1.6"/>
<ellipse cx="342.1" cy="86.5" rx="1.9" ry="1.0" transform="rotate(105 342.1 86.5)" fill="#a8949c" stroke="#36201e" stroke-width="1.6"/>
<ellipse cx="351.8" cy="96.3" rx="2.3" ry="1.5" transform="rotate(173 351.8 96.3)" fill="#a8949c" stroke="#36201e" stroke-width="1.6"/>
<ellipse cx="368.6" cy="96.7" rx="2.9" ry="1.7" transform="rotate(34 368.6 96.7)" fill="#a8949c" stroke="#36201e" stroke-width="1.6"/>
<ellipse cx="348.6" cy="38.5" rx="2.1" ry="1.6" transform="rotate(159 348.6 38.5)" fill="#a8949c" stroke="#36201e" stroke-width="1.6"/>
<ellipse cx="333.5" cy="57.5" rx="1.9" ry="1.0" transform="rotate(173 333.5 57.5)" fill="#a8949c" stroke="#36201e" stroke-width="1.6"/>
<ellipse cx="367.8" cy="72.4" rx="2.4" ry="1.3" transform="rotate(32 367.8 72.4)" fill="#a8949c" stroke="#36201e" stroke-width="1.6"/>
<ellipse cx="333.6" cy="89.0" rx="2.0" ry="1.2" transform="rotate(160 333.6 89.0)" fill="#a8949c" stroke="#36201e" stroke-width="1.6"/>
<ellipse cx="377.4" cy="67.3" rx="2.8" ry="1.9" transform="rotate(25 377.4 67.3)" fill="#a8949c" stroke="#36201e" stroke-width="1.6"/>
<ellipse cx="355.4" cy="69.5" rx="2.7" ry="1.7" transform="rotate(131 355.4 69.5)" fill="#a8949c" stroke="#36201e" stroke-width="1.6"/>
<ellipse cx="336.8" cy="100.7" rx="1.9" ry="1.3" transform="rotate(133 336.8 100.7)" fill="#a8949c" stroke="#36201e" stroke-width="1.6"/>
<ellipse cx="373.8" cy="53.9" rx="2.8" ry="2.1" transform="rotate(165 373.8 53.9)" fill="#a8949c" stroke="#36201e" stroke-width="1.6"/>
<ellipse cx="325.1" cy="85.3" rx="3.0" ry="2.0" transform="rotate(112 325.1 85.3)" fill="#a8949c" stroke="#36201e" stroke-width="1.6"/>
<ellipse cx="329.5" cy="45.2" rx="3.0" ry="2.2" transform="rotate(70 329.5 45.2)" fill="#a8949c" stroke="#36201e" stroke-width="1.6"/>
<ellipse cx="348.3" cy="45.4" rx="2.4" ry="1.8" transform="rotate(15 348.3 45.4)" fill="#a8949c" stroke="#36201e" stroke-width="1.6"/>
<ellipse cx="350.7" cy="64.9" rx="2.6" ry="1.7" transform="rotate(41 350.7 64.9)" fill="#a8949c" stroke="#36201e" stroke-width="1.6"/>
<ellipse cx="343.2" cy="48.4" rx="2.7" ry="2.1" transform="rotate(46 343.2 48.4)" fill="#a8949c" stroke="#36201e" stroke-width="1.6"/>
<ellipse cx="320.3" cy="71.3" rx="3.0" ry="2.1" transform="rotate(171 320.3 71.3)" fill="#a8949c" stroke="#36201e" stroke-width="1.6"/>
<ellipse cx="362.9" cy="72.1" rx="2.4" ry="1.2" transform="rotate(149 362.9 72.1)" fill="#a8949c" stroke="#36201e" stroke-width="1.6"/>
<ellipse cx="324.9" cy="67.3" rx="2.9" ry="1.8" transform="rotate(143 324.9 67.3)" fill="#a8949c" stroke="#36201e" stroke-width="1.6"/>
<ellipse cx="358.9" cy="65.2" rx="3.1" ry="2.2" transform="rotate(23 358.9 65.2)" fill="#a8949c" stroke="#36201e" stroke-width="1.6"/>
<ellipse cx="322.4" cy="57.6" rx="2.9" ry="2.3" transform="rotate(83 322.4 57.6)" fill="#a8949c" stroke="#36201e" stroke-width="1.6"/>
<ellipse cx="342.0" cy="58.4" rx="2.8" ry="2.1" transform="rotate(115 342.0 58.4)" fill="#a8949c" stroke="#36201e" stroke-width="1.6"/>
<ellipse cx="364.9" cy="89.8" rx="2.8" ry="2.1" transform="rotate(124 364.9 89.8)" fill="#a8949c" stroke="#36201e" stroke-width="1.6"/>
<ellipse cx="372.7" cy="62.8" rx="3.1" ry="1.6" transform="rotate(40 372.7 62.8)" fill="#a8949c" stroke="#36201e" stroke-width="1.6"/>
<ellipse cx="333.1" cy="67.6" rx="2.8" ry="2.0" transform="rotate(94 333.1 67.6)" fill="#a8949c" stroke="#36201e" stroke-width="1.6"/>
<ellipse cx="368.5" cy="44.6" rx="2.1" ry="1.6" transform="rotate(174 368.5 44.6)" fill="#a8949c" stroke="#36201e" stroke-width="1.6"/>
<ellipse cx="369.3" cy="57.2" rx="2.2" ry="1.3" transform="rotate(111 369.3 57.2)" fill="#a8949c" stroke="#36201e" stroke-width="1.6"/>
<ellipse cx="337.7" cy="68.2" rx="2.1" ry="1.4" transform="rotate(115 337.7 68.2)" fill="#a8949c" stroke="#36201e" stroke-width="1.6"/>
<ellipse cx="382.0" cy="70.3" rx="2.0" ry="1.1" transform="rotate(131 382.0 70.3)" fill="#a8949c" stroke="#36201e" stroke-width="1.6"/>
<ellipse cx="340.2" cy="90.7" rx="2.5" ry="1.6" transform="rotate(108 340.2 90.7)" fill="#a8949c" stroke="#36201e" stroke-width="1.6"/>
<ellipse cx="359.6" cy="44.2" rx="3.0" ry="2.1" transform="rotate(73 359.6 44.2)" fill="#a8949c" stroke="#36201e" stroke-width="1.6"/>
<ellipse cx="349.1" cy="102.3" rx="2.8" ry="2.1" transform="rotate(147 349.1 102.3)" fill="#a8949c" stroke="#36201e" stroke-width="1.6"/>
<ellipse cx="353.8" cy="41.7" rx="2.4" ry="1.7" transform="rotate(13 353.8 41.7)" fill="#a8949c" stroke="#36201e" stroke-width="1.6"/>
<ellipse cx="333.8" cy="50.5" rx="2.1" ry="1.7" transform="rotate(120 333.8 50.5)" fill="#a8949c" stroke="#36201e" stroke-width="1.6"/>
<ellipse cx="336.6" cy="93.6" rx="2.6" ry="1.7" transform="rotate(70 336.6 93.6)" fill="#a8949c" stroke="#36201e" stroke-width="1.6"/>
<ellipse cx="349.8" cy="91.6" rx="1.9" ry="1.0" transform="rotate(68 349.8 91.6)" fill="#a8949c" stroke="#36201e" stroke-width="1.6"/>
<ellipse cx="318.5" cy="77.1" rx="2.9" ry="2.0" transform="rotate(21 318.5 77.1)" fill="#a8949c" stroke="#36201e" stroke-width="1.6"/>
<ellipse cx="349.1" cy="54.5" rx="2.0" ry="1.5" transform="rotate(141 349.1 54.5)" fill="#a8949c" stroke="#36201e" stroke-width="1.6"/>
<ellipse cx="327.3" cy="60.5" rx="2.7" ry="2.0" transform="rotate(34 327.3 60.5)" fill="#a8949c" stroke="#36201e" stroke-width="1.6"/>
<ellipse cx="358.6" cy="72.6" rx="2.2" ry="1.4" transform="rotate(112 358.6 72.6)" fill="#a8949c" stroke="#36201e" stroke-width="1.6"/>
<ellipse cx="370.2" cy="85.3" rx="1.9" ry="1.0" transform="rotate(122 370.2 85.3)" fill="#a8949c" stroke="#36201e" stroke-width="1.6"/>
<ellipse cx="358.1" cy="51.8" rx="2.7" ry="2.2" transform="rotate(59 358.1 51.8)" fill="#a8949c" stroke="#36201e" stroke-width="1.6"/>
<ellipse cx="343.7" cy="78.2" rx="3.0" ry="1.6" transform="rotate(15 343.7 78.2)" fill="#a8949c" stroke="#36201e" stroke-width="1.6"/>
<ellipse cx="379.5" cy="58.1" rx="2.1" ry="1.3" transform="rotate(66 379.5 58.1)" fill="#a8949c" stroke="#36201e" stroke-width="1.6"/>
<ellipse cx="337.1" cy="86.4" rx="2.3" ry="1.3" transform="rotate(101 337.1 86.4)" fill="#a8949c" stroke="#36201e" stroke-width="1.6"/>
<ellipse cx="374.3" cy="73.9" rx="2.6" ry="1.7" transform="rotate(174 374.3 73.9)" fill="#a8949c" stroke="#36201e" stroke-width="1.6"/>
<ellipse cx="353.0" cy="61.2" rx="1.9" ry="1.4" transform="rotate(162 353.0 61.2)" fill="#a8949c" stroke="#36201e" stroke-width="1.6"/>
<ellipse cx="342.2" cy="102.2" rx="1.9" ry="1.1" transform="rotate(21 342.2 102.2)" fill="#a8949c" stroke="#36201e" stroke-width="1.6"/>
<ellipse cx="361.8" cy="79.6" rx="2.1" ry="1.2" transform="rotate(129 361.8 79.6)" fill="#a8949c" stroke="#36201e" stroke-width="1.6"/>
<ellipse cx="329.6" cy="87.6" rx="2.2" ry="1.2" transform="rotate(132 329.6 87.6)" fill="#a8949c" stroke="#36201e" stroke-width="1.6"/>
<ellipse cx="379.3" cy="84.6" rx="2.4" ry="1.6" transform="rotate(117 379.3 84.6)" fill="#a8949c" stroke="#36201e" stroke-width="1.6"/>
<ellipse cx="344.2" cy="41.0" rx="2.1" ry="1.6" transform="rotate(113 344.2 41.0)" fill="#a8949c" stroke="#36201e" stroke-width="1.6"/>
<ellipse cx="353.8" cy="79.7" rx="2.1" ry="1.4" transform="rotate(125 353.8 79.7)" fill="#a8949c" stroke="#36201e" stroke-width="1.6"/>
<ellipse cx="374.0" cy="93.6" rx="2.0" ry="1.5" transform="rotate(98 374.0 93.6)" fill="#a8949c" stroke="#36201e" stroke-width="1.6"/>
<ellipse cx="377.1" cy="77.0" rx="2.0" ry="1.6" transform="rotate(108 377.1 77.0)" fill="#a8949c" stroke="#36201e" stroke-width="1.6"/>
<ellipse cx="344.6" cy="67.0" rx="1.8" ry="1.4" transform="rotate(55 344.6 67.0)" fill="#a8949c" stroke="#36201e" stroke-width="1.6"/>
<ellipse cx="360.9" cy="99.2" rx="2.3" ry="1.5" transform="rotate(31 360.9 99.2)" fill="#a8949c" stroke="#36201e" stroke-width="1.6"/>
<ellipse cx="374.8" cy="47.9" rx="2.1" ry="1.4" transform="rotate(34 374.8 47.9)" fill="#a8949c" stroke="#36201e" stroke-width="1.6"/>
<ellipse cx="377.0" cy="50.7" rx="1.8" ry="1.2" transform="rotate(135 377.0 50.7)" fill="#a8949c" stroke="#36201e" stroke-width="1.6"/>
<ellipse cx="326.7" cy="91.8" rx="2.5" ry="1.4" transform="rotate(100 326.7 91.8)" fill="#a8949c" stroke="#36201e" stroke-width="1.6"/>
<ellipse cx="318.6" cy="66.4" rx="2.0" ry="1.5" transform="rotate(30 318.6 66.4)" fill="#a8949c" stroke="#36201e" stroke-width="1.6"/>
<ellipse cx="327.7" cy="54.6" rx="2.6" ry="2.0" transform="rotate(32 327.7 54.6)" fill="#a8949c" stroke="#36201e" stroke-width="1.6"/>
<ellipse cx="357.6" cy="102.6" rx="1.9" ry="1.2" transform="rotate(137 357.6 102.6)" fill="#a8949c" stroke="#36201e" stroke-width="1.6"/>
<ellipse cx="336.5" cy="81.9" rx="2.4" ry="1.3" transform="rotate(6 336.5 81.9)" fill="#a8949c" stroke="#36201e" stroke-width="1.6"/>
<ellipse cx="368.8" cy="77.6" rx="2.8" ry="2.1" transform="rotate(106 368.8 77.6)" fill="#a8949c" stroke="#36201e" stroke-width="1.6"/>
<ellipse cx="360.7" cy="93.1" rx="2.0" ry="1.1" transform="rotate(39 360.7 93.1)" fill="#a8949c" stroke="#36201e" stroke-width="1.6"/>
<ellipse cx="337.4" cy="42.8" rx="2.1" ry="1.3" transform="rotate(13 337.4 42.8)" fill="#a8949c" stroke="#36201e" stroke-width="1.6"/>
<ellipse cx="345.6" cy="89.4" rx="2.1" ry="1.1" transform="rotate(4 345.6 89.4)" fill="#a8949c" stroke="#36201e" stroke-width="1.6"/>
<ellipse cx="342.6" cy="96.6" rx="3.1" ry="1.7" transform="rotate(124 342.6 96.6)" fill="#a8949c" stroke="#36201e" stroke-width="1.6"/>
<ellipse cx="332.9" cy="96.3" rx="2.2" ry="1.6" transform="rotate(125 332.9 96.3)" fill="#a8949c" stroke="#36201e" stroke-width="1.6"/>
<ellipse cx="356.6" cy="76.5" rx="1.9" ry="1.0" transform="rotate(127 356.6 76.5)" fill="#a8949c" stroke="#36201e" stroke-width="1.6"/>
<ellipse cx="366.3" cy="60.0" rx="1.9" ry="1.2" transform="rotate(133 366.3 60.0)" fill="#a8949c" stroke="#36201e" stroke-width="1.6"/>
<ellipse cx="340.0" cy="51.6" rx="1.8" ry="1.1" transform="rotate(57 340.0 51.6)" fill="#a8949c" stroke="#36201e" stroke-width="1.6"/>
<ellipse cx="331.8" cy="82.7" rx="2.5" ry="2.0" transform="rotate(62 331.8 82.7)" fill="#a8949c" stroke="#36201e" stroke-width="1.6"/>
<ellipse cx="383.4" cy="65.7" rx="2.4" ry="1.8" transform="rotate(117 383.4 65.7)" fill="#a8949c" stroke="#36201e" stroke-width="1.6"/>
<ellipse cx="340.7" cy="39.0" rx="1.9" ry="1.2" transform="rotate(72 340.7 39.0)" fill="#a8949c" stroke="#36201e" stroke-width="1.6"/>
<ellipse cx="366.7" cy="54.3" rx="1.8" ry="1.2" transform="rotate(68 366.7 54.3)" fill="#a8949c" stroke="#36201e" stroke-width="1.6"/>
<ellipse cx="377.5" cy="62.1" rx="2.2" ry="1.7" transform="rotate(131 377.5 62.1)" fill="#a8949c" stroke="#36201e" stroke-width="1.6"/>
<ellipse cx="349.2" cy="87.1" rx="1.8" ry="1.2" transform="rotate(46 349.2 87.1)" fill="#a8949c" stroke="#36201e" stroke-width="1.6"/>
<ellipse cx="364.4" cy="65.7" rx="2.0" ry="1.4" transform="rotate(159 364.4 65.7)" fill="#a8949c" stroke="#36201e" stroke-width="1.6"/>
<ellipse cx="357.9" cy="82.4" rx="2.8" ry="1.6" transform="rotate(4 357.9 82.4)" fill="#a8949c" stroke="#36201e" stroke-width="1.6"/>
<ellipse cx="375.6" cy="81.3" rx="2.0" ry="1.6" transform="rotate(157 375.6 81.3)" fill="#a8949c" stroke="#36201e" stroke-width="1.6"/>
<ellipse cx="345.4" cy="83.9" rx="2.8" ry="2.0" transform="rotate(177 345.4 83.9)" fill="#a8949c" stroke="#36201e" stroke-width="1.6"/>
<ellipse cx="370.3" cy="49.1" rx="2.9" ry="2.2" transform="rotate(102 370.3 49.1)" fill="#a8949c" stroke="#36201e" stroke-width="1.6"/>
<ellipse cx="347.7" cy="74.6" rx="2.0" ry="1.5" transform="rotate(41 347.7 74.6)" fill="#a8949c" stroke="#36201e" stroke-width="1.6"/>
<ellipse cx="318.6" cy="62.1" rx="2.5" ry="1.4" transform="rotate(138 318.6 62.1)" fill="#a8949c" stroke="#36201e" stroke-width="1.6"/>
<ellipse cx="355.2" cy="93.0" rx="2.2" ry="1.4" transform="rotate(146 355.2 93.0)" fill="#a8949c" stroke="#36201e" stroke-width="1.6"/>
<ellipse cx="363.8" cy="76.4" rx="2.1" ry="1.3" transform="rotate(152 363.8 76.4)" fill="#a8949c" stroke="#36201e" stroke-width="1.6"/>
</g></g>
<rect x="205.00" y="19.70" width="38.50" height="39.40" fill="#f6f6f6" stroke="none" stroke-width="1"/>
<rect x="205.80" y="20.50" width="36.90" height="37.80" fill="#c9c1cd" stroke="none" stroke-width="1" filter="url(#n_ib)"/>
<path d="M233.5 42 C234 39 238 38 239.5 40.5 C240 43.5 237.5 46 235 45.5 C233.5 45 233.2 43.5 233.5 42 Z" fill="#f6f4f8" stroke="#4a4078" stroke-width="1.0"/>
<rect x="277.10" y="19.70" width="39.10" height="38.60" fill="#f6f6f6" stroke="none" stroke-width="1"/>
<g clip-path="url(#c_i1)"><g filter="url(#soft)">
<rect x="277.90" y="20.50" width="37.50" height="37.00" fill="#9a90a8" stroke="none" stroke-width="1" filter="url(#n_i1)"/>
<ellipse cx="276.4" cy="23.1" rx="4.0" ry="1.3" transform="rotate(-11 276.4 23.1)" fill="#bdb5c8" stroke="#54476a" stroke-width="1.05"/>
<ellipse cx="285.5" cy="49.6" rx="3.4" ry="1.4" transform="rotate(-9 285.5 49.6)" fill="#bdb5c8" stroke="#54476a" stroke-width="1.05"/>
<ellipse cx="303.4" cy="24.1" rx="4.3" ry="1.2" transform="rotate(-106 303.4 24.1)" fill="#bdb5c8" stroke="#54476a" stroke-width="1.05"/>
<ellipse cx="279.8" cy="19.3" rx="5.3" ry="1.2" transform="rotate(32 279.8 19.3)" fill="#bdb5c8" stroke="#54476a" stroke-width="1.05"/>
<ellipse cx="284.1" cy="32.0" rx="3.9" ry="1.5" transform="rotate(-15 284.1 32.0)" fill="#bdb5c8" stroke="#54476a" stroke-width="1.05"/>
<ellipse cx="300.2" cy="40.9" rx="5.4" ry="1.4" transform="rotate(0 300.2 40.9)" fill="#bdb5c8" stroke="#54476a" stroke-width="1.05"/>
<ellipse cx="290.7" cy="26.9" rx="5.1" ry="1.5" transform="rotate(28 290.7 26.9)" fill="#bdb5c8" stroke="#54476a" stroke-width="1.05"/>
<ellipse cx="311.9" cy="45.2" rx="3.5" ry="1.4" transform="rotate(-11 311.9 45.2)" fill="#bdb5c8" stroke="#54476a" stroke-width="1.05"/>
<ellipse cx="306.2" cy="26.4" rx="4.6" ry="1.1" transform="rotate(6 306.2 26.4)" fill="#bdb5c8" stroke="#54476a" stroke-width="1.05"/>
<ellipse cx="289.8" cy="34.7" rx="4.6" ry="1.4" transform="rotate(-13 289.8 34.7)" fill="#bdb5c8" stroke="#54476a" stroke-width="1.05"/>
<ellipse cx="315.8" cy="58.5" rx="5.5" ry="1.4" transform="rotate(-26 315.8 58.5)" fill="#bdb5c8" stroke="#54476a" stroke-width="1.05"/>
<ellipse cx="301.8" cy="40.9" rx="4.7" ry="1.0" transform="rotate(-2 301.8 40.9)" fill="#bdb5c8" stroke="#54476a" stroke-width="1.05"/>
<ellipse cx="283.9" cy="56.3" rx="4.5" ry="1.3" transform="rotate(5 283.9 56.3)" fill="#bdb5c8" stroke="#54476a" stroke-width="1.05"/>
<ellipse cx="313.7" cy="45.1" rx="5.5" ry="1.1" transform="rotate(-3 313.7 45.1)" fill="#bdb5c8" stroke="#54476a" stroke-width="1.05"/>
<ellipse cx="294.8" cy="51.3" rx="4.1" ry="1.4" transform="rotate(-34 294.8 51.3)" fill="#bdb5c8" stroke="#54476a" stroke-width="1.05"/>
<ellipse cx="280.0" cy="58.8" rx="3.3" ry="1.1" transform="rotate(-26 280.0 58.8)" fill="#bdb5c8" stroke="#54476a" stroke-width="1.05"/>
<ellipse cx="289.8" cy="47.8" rx="5.1" ry="1.2" transform="rotate(-73 289.8 47.8)" fill="#bdb5c8" stroke="#54476a" stroke-width="1.05"/>
<ellipse cx="287.4" cy="33.8" rx="4.5" ry="1.3" transform="rotate(-19 287.4 33.8)" fill="#bdb5c8" stroke="#54476a" stroke-width="1.05"/>
<ellipse cx="277.5" cy="23.1" rx="3.3" ry="1.4" transform="rotate(-48 277.5 23.1)" fill="#bdb5c8" stroke="#54476a" stroke-width="1.05"/>
<ellipse cx="307.8" cy="28.9" rx="4.9" ry="1.5" transform="rotate(-96 307.8 28.9)" fill="#bdb5c8" stroke="#54476a" stroke-width="1.05"/>
<ellipse cx="290.4" cy="19.0" rx="3.9" ry="1.1" transform="rotate(-16 290.4 19.0)" fill="#bdb5c8" stroke="#54476a" stroke-width="1.05"/>
<ellipse cx="281.1" cy="54.0" rx="3.1" ry="1.3" transform="rotate(-12 281.1 54.0)" fill="#bdb5c8" stroke="#54476a" stroke-width="1.05"/>
<ellipse cx="284.5" cy="26.4" rx="5.1" ry="1.1" transform="rotate(-7 284.5 26.4)" fill="#bdb5c8" stroke="#54476a" stroke-width="1.05"/>
<ellipse cx="304.7" cy="40.0" rx="5.1" ry="1.2" transform="rotate(10 304.7 40.0)" fill="#bdb5c8" stroke="#54476a" stroke-width="1.05"/>
<ellipse cx="297.6" cy="47.9" rx="4.2" ry="1.4" transform="rotate(-36 297.6 47.9)" fill="#bdb5c8" stroke="#54476a" stroke-width="1.05"/>
<ellipse cx="281.0" cy="50.6" rx="4.9" ry="1.5" transform="rotate(-17 281.0 50.6)" fill="#bdb5c8" stroke="#54476a" stroke-width="1.05"/>
<ellipse cx="304.5" cy="42.3" rx="3.4" ry="1.4" transform="rotate(3 304.5 42.3)" fill="#bdb5c8" stroke="#54476a" stroke-width="1.05"/>
<ellipse cx="281.7" cy="34.1" rx="3.8" ry="1.2" transform="rotate(1 281.7 34.1)" fill="#bdb5c8" stroke="#54476a" stroke-width="1.05"/>
<ellipse cx="305.4" cy="40.7" rx="3.6" ry="1.4" transform="rotate(-25 305.4 40.7)" fill="#bdb5c8" stroke="#54476a" stroke-width="1.05"/>
<ellipse cx="277.3" cy="43.7" rx="5.2" ry="1.1" transform="rotate(-76 277.3 43.7)" fill="#bdb5c8" stroke="#54476a" stroke-width="1.05"/>
<ellipse cx="284.3" cy="51.9" rx="3.9" ry="1.2" transform="rotate(-8 284.3 51.9)" fill="#bdb5c8" stroke="#54476a" stroke-width="1.05"/>
<ellipse cx="284.1" cy="27.3" rx="3.9" ry="1.3" transform="rotate(-47 284.1 27.3)" fill="#bdb5c8" stroke="#54476a" stroke-width="1.05"/>
<ellipse cx="291.2" cy="50.1" rx="3.2" ry="1.1" transform="rotate(-44 291.2 50.1)" fill="#bdb5c8" stroke="#54476a" stroke-width="1.05"/>
<ellipse cx="296.6" cy="56.9" rx="3.7" ry="1.1" transform="rotate(-44 296.6 56.9)" fill="#bdb5c8" stroke="#54476a" stroke-width="1.05"/>
<ellipse cx="277.3" cy="38.3" rx="3.7" ry="1.2" transform="rotate(-19 277.3 38.3)" fill="#bdb5c8" stroke="#54476a" stroke-width="1.05"/>
<ellipse cx="291.7" cy="49.6" rx="3.8" ry="1.5" transform="rotate(-20 291.7 49.6)" fill="#bdb5c8" stroke="#54476a" stroke-width="1.05"/>
<ellipse cx="299.9" cy="35.0" rx="4.9" ry="1.1" transform="rotate(-66 299.9 35.0)" fill="#bdb5c8" stroke="#54476a" stroke-width="1.05"/>
<ellipse cx="298.3" cy="31.6" rx="3.2" ry="1.3" transform="rotate(-56 298.3 31.6)" fill="#bdb5c8" stroke="#54476a" stroke-width="1.05"/>
<ellipse cx="283.7" cy="33.8" rx="4.4" ry="1.5" transform="rotate(-37 283.7 33.8)" fill="#bdb5c8" stroke="#54476a" stroke-width="1.05"/>
<ellipse cx="311.5" cy="31.2" rx="4.0" ry="1.3" transform="rotate(-52 311.5 31.2)" fill="#bdb5c8" stroke="#54476a" stroke-width="1.05"/>
<ellipse cx="298.9" cy="27.6" rx="4.0" ry="1.4" transform="rotate(-18 298.9 27.6)" fill="#bdb5c8" stroke="#54476a" stroke-width="1.05"/>
<ellipse cx="277.9" cy="57.6" rx="4.7" ry="1.2" transform="rotate(27 277.9 57.6)" fill="#bdb5c8" stroke="#54476a" stroke-width="1.05"/>
<ellipse cx="316.7" cy="51.2" rx="3.2" ry="1.1" transform="rotate(-127 316.7 51.2)" fill="#bdb5c8" stroke="#54476a" stroke-width="1.05"/>
<ellipse cx="281.7" cy="20.5" rx="3.8" ry="1.0" transform="rotate(-14 281.7 20.5)" fill="#bdb5c8" stroke="#54476a" stroke-width="1.05"/>
<ellipse cx="292.9" cy="40.6" rx="4.1" ry="1.1" transform="rotate(33 292.9 40.6)" fill="#bdb5c8" stroke="#54476a" stroke-width="1.05"/>
<ellipse cx="294.2" cy="38.2" rx="4.2" ry="1.3" transform="rotate(-12 294.2 38.2)" fill="#bdb5c8" stroke="#54476a" stroke-width="1.05"/>
<ellipse cx="313.3" cy="52.4" rx="4.8" ry="1.2" transform="rotate(-14 313.3 52.4)" fill="#bdb5c8" stroke="#54476a" stroke-width="1.05"/>
<ellipse cx="311.6" cy="20.8" rx="4.4" ry="1.5" transform="rotate(-9 311.6 20.8)" fill="#bdb5c8" stroke="#54476a" stroke-width="1.05"/>
<ellipse cx="289.3" cy="34.5" rx="4.0" ry="1.5" transform="rotate(-43 289.3 34.5)" fill="#bdb5c8" stroke="#54476a" stroke-width="1.05"/>
<ellipse cx="277.5" cy="48.4" rx="4.1" ry="1.2" transform="rotate(-72 277.5 48.4)" fill="#bdb5c8" stroke="#54476a" stroke-width="1.05"/>
<ellipse cx="309.8" cy="48.6" rx="5.3" ry="1.4" transform="rotate(7 309.8 48.6)" fill="#bdb5c8" stroke="#54476a" stroke-width="1.05"/>
<ellipse cx="299.0" cy="50.7" rx="4.1" ry="1.1" transform="rotate(-37 299.0 50.7)" fill="#bdb5c8" stroke="#54476a" stroke-width="1.05"/>
<ellipse cx="300.2" cy="54.2" rx="5.2" ry="1.1" transform="rotate(-36 300.2 54.2)" fill="#bdb5c8" stroke="#54476a" stroke-width="1.05"/>
<ellipse cx="290.1" cy="57.8" rx="4.1" ry="1.2" transform="rotate(-5 290.1 57.8)" fill="#bdb5c8" stroke="#54476a" stroke-width="1.05"/>
<ellipse cx="287.2" cy="36.6" rx="4.7" ry="1.2" transform="rotate(-12 287.2 36.6)" fill="#bdb5c8" stroke="#54476a" stroke-width="1.05"/>
<ellipse cx="286.7" cy="55.7" rx="3.4" ry="1.4" transform="rotate(-0 286.7 55.7)" fill="#bdb5c8" stroke="#54476a" stroke-width="1.05"/>
<ellipse cx="280.4" cy="50.7" rx="3.7" ry="1.4" transform="rotate(-31 280.4 50.7)" fill="#bdb5c8" stroke="#54476a" stroke-width="1.05"/>
<ellipse cx="279.8" cy="51.3" rx="4.4" ry="1.2" transform="rotate(-15 279.8 51.3)" fill="#bdb5c8" stroke="#54476a" stroke-width="1.05"/>
<ellipse cx="290.5" cy="46.8" rx="4.2" ry="1.0" transform="rotate(-41 290.5 46.8)" fill="#bdb5c8" stroke="#54476a" stroke-width="1.05"/>
<ellipse cx="311.0" cy="41.0" rx="4.9" ry="1.1" transform="rotate(-35 311.0 41.0)" fill="#bdb5c8" stroke="#54476a" stroke-width="1.05"/>
<ellipse cx="305.2" cy="43.5" rx="5.1" ry="1.4" transform="rotate(-58 305.2 43.5)" fill="#bdb5c8" stroke="#54476a" stroke-width="1.05"/>
<ellipse cx="307.7" cy="29.3" rx="4.4" ry="1.4" transform="rotate(-33 307.7 29.3)" fill="#bdb5c8" stroke="#54476a" stroke-width="1.05"/>
<ellipse cx="300.6" cy="40.7" rx="5.1" ry="1.5" transform="rotate(-21 300.6 40.7)" fill="#bdb5c8" stroke="#54476a" stroke-width="1.05"/>
<ellipse cx="301.4" cy="24.6" rx="5.4" ry="1.2" transform="rotate(-8 301.4 24.6)" fill="#bdb5c8" stroke="#54476a" stroke-width="1.05"/>
<ellipse cx="298.1" cy="52.0" rx="5.2" ry="1.1" transform="rotate(-38 298.1 52.0)" fill="#bdb5c8" stroke="#54476a" stroke-width="1.05"/>
<ellipse cx="295.0" cy="24.0" rx="5.2" ry="1.2" transform="rotate(-15 295.0 24.0)" fill="#bdb5c8" stroke="#54476a" stroke-width="1.05"/>
<ellipse cx="292.1" cy="55.3" rx="5.1" ry="1.2" transform="rotate(-64 292.1 55.3)" fill="#bdb5c8" stroke="#54476a" stroke-width="1.05"/>
<ellipse cx="283.7" cy="24.1" rx="5.1" ry="1.1" transform="rotate(-20 283.7 24.1)" fill="#bdb5c8" stroke="#54476a" stroke-width="1.05"/>
<ellipse cx="305.3" cy="48.8" rx="4.5" ry="1.2" transform="rotate(13 305.3 48.8)" fill="#bdb5c8" stroke="#54476a" stroke-width="1.05"/>
<ellipse cx="278.8" cy="55.3" rx="4.6" ry="1.1" transform="rotate(-61 278.8 55.3)" fill="#bdb5c8" stroke="#54476a" stroke-width="1.05"/>
</g></g>
<rect x="360.20" y="19.40" width="38.80" height="38.80" fill="#f6f6f6" stroke="none" stroke-width="1"/>
<g clip-path="url(#c_i2)"><g filter="url(#soft)">
<rect x="361.00" y="20.20" width="37.20" height="37.20" fill="#c4b6c0" stroke="none" stroke-width="1" filter="url(#n_i2)"/>
<rect x="361.00" y="20.20" width="37.20" height="37.20" fill="#000" stroke="none" stroke-width="1" filter="url(#l_i2)"/>
<ellipse cx="396.7" cy="56.4" rx="4.9" ry="1.6" transform="rotate(-46 396.7 56.4)" fill="#a8949c" stroke="#36201e" stroke-width="1.6"/>
<ellipse cx="383.6" cy="24.3" rx="3.3" ry="1.3" transform="rotate(-42 383.6 24.3)" fill="#a8949c" stroke="#36201e" stroke-width="1.6"/>
<ellipse cx="373.3" cy="37.0" rx="2.9" ry="0.9" transform="rotate(-38 373.3 37.0)" fill="#a8949c" stroke="#36201e" stroke-width="1.6"/>
<ellipse cx="383.0" cy="48.0" rx="3.7" ry="1.1" transform="rotate(-47 383.0 48.0)" fill="#a8949c" stroke="#36201e" stroke-width="1.6"/>
<ellipse cx="392.0" cy="42.3" rx="4.4" ry="1.9" transform="rotate(-24 392.0 42.3)" fill="#a8949c" stroke="#36201e" stroke-width="1.6"/>
<ellipse cx="391.2" cy="33.7" rx="4.2" ry="1.8" transform="rotate(-37 391.2 33.7)" fill="#a8949c" stroke="#36201e" stroke-width="1.6"/>
<ellipse cx="376.4" cy="22.6" rx="3.9" ry="1.7" transform="rotate(-46 376.4 22.6)" fill="#a8949c" stroke="#36201e" stroke-width="1.6"/>
<ellipse cx="387.3" cy="26.3" rx="3.2" ry="1.2" transform="rotate(-42 387.3 26.3)" fill="#a8949c" stroke="#36201e" stroke-width="1.6"/>
<ellipse cx="393.1" cy="26.9" rx="3.1" ry="1.0" transform="rotate(-26 393.1 26.9)" fill="#a8949c" stroke="#36201e" stroke-width="1.6"/>
<ellipse cx="385.0" cy="51.4" rx="3.6" ry="1.3" transform="rotate(-33 385.0 51.4)" fill="#a8949c" stroke="#36201e" stroke-width="1.6"/>
<ellipse cx="375.6" cy="31.1" rx="4.7" ry="1.9" transform="rotate(-35 375.6 31.1)" fill="#a8949c" stroke="#36201e" stroke-width="1.6"/>
<ellipse cx="392.0" cy="46.9" rx="4.8" ry="1.7" transform="rotate(-29 392.0 46.9)" fill="#a8949c" stroke="#36201e" stroke-width="1.6"/>
<ellipse cx="384.1" cy="55.2" rx="4.2" ry="2.1" transform="rotate(-19 384.1 55.2)" fill="#a8949c" stroke="#36201e" stroke-width="1.6"/>
<ellipse cx="388.8" cy="57.4" rx="4.7" ry="2.3" transform="rotate(-7 388.8 57.4)" fill="#a8949c" stroke="#36201e" stroke-width="1.6"/>
<ellipse cx="383.9" cy="57.9" rx="4.6" ry="1.7" transform="rotate(-23 383.9 57.9)" fill="#a8949c" stroke="#36201e" stroke-width="1.6"/>
<ellipse cx="372.4" cy="22.2" rx="3.9" ry="1.3" transform="rotate(-37 372.4 22.2)" fill="#a8949c" stroke="#36201e" stroke-width="1.6"/>
<ellipse cx="397.0" cy="56.5" rx="3.3" ry="1.1" transform="rotate(-42 397.0 56.5)" fill="#a8949c" stroke="#36201e" stroke-width="1.6"/>
<ellipse cx="384.0" cy="51.1" rx="3.4" ry="1.3" transform="rotate(-36 384.0 51.1)" fill="#a8949c" stroke="#36201e" stroke-width="1.6"/>
<ellipse cx="395.9" cy="36.6" rx="3.6" ry="1.7" transform="rotate(-25 395.9 36.6)" fill="#a8949c" stroke="#36201e" stroke-width="1.6"/>
<ellipse cx="388.8" cy="35.4" rx="4.5" ry="2.1" transform="rotate(-58 388.8 35.4)" fill="#a8949c" stroke="#36201e" stroke-width="1.6"/>
<ellipse cx="387.2" cy="28.5" rx="3.5" ry="1.3" transform="rotate(-33 387.2 28.5)" fill="#a8949c" stroke="#36201e" stroke-width="1.6"/>
<ellipse cx="384.3" cy="51.6" rx="3.1" ry="1.3" transform="rotate(-50 384.3 51.6)" fill="#a8949c" stroke="#36201e" stroke-width="1.6"/>
<ellipse cx="377.0" cy="41.1" rx="4.8" ry="1.7" transform="rotate(-30 377.0 41.1)" fill="#a8949c" stroke="#36201e" stroke-width="1.6"/>
<ellipse cx="384.7" cy="40.4" rx="3.4" ry="1.4" transform="rotate(-36 384.7 40.4)" fill="#a8949c" stroke="#36201e" stroke-width="1.6"/>
<ellipse cx="381.6" cy="36.8" rx="4.5" ry="1.4" transform="rotate(-50 381.6 36.8)" fill="#a8949c" stroke="#36201e" stroke-width="1.6"/>
<ellipse cx="372.8" cy="45.9" rx="3.2" ry="1.3" transform="rotate(-20 372.8 45.9)" fill="#a8949c" stroke="#36201e" stroke-width="1.6"/>
<ellipse cx="380.0" cy="22.4" rx="4.5" ry="1.8" transform="rotate(-41 380.0 22.4)" fill="#a8949c" stroke="#36201e" stroke-width="1.6"/>
<ellipse cx="384.5" cy="39.8" rx="3.5" ry="1.7" transform="rotate(-49 384.5 39.8)" fill="#a8949c" stroke="#36201e" stroke-width="1.6"/>
<ellipse cx="394.7" cy="38.7" rx="4.7" ry="2.0" transform="rotate(-43 394.7 38.7)" fill="#a8949c" stroke="#36201e" stroke-width="1.6"/>
<ellipse cx="376.6" cy="32.9" rx="3.5" ry="1.7" transform="rotate(-41 376.6 32.9)" fill="#a8949c" stroke="#36201e" stroke-width="1.6"/>
<ellipse cx="377.3" cy="34.4" rx="3.8" ry="1.8" transform="rotate(-50 377.3 34.4)" fill="#a8949c" stroke="#36201e" stroke-width="1.6"/>
<ellipse cx="374.5" cy="30.1" rx="3.0" ry="1.0" transform="rotate(-33 374.5 30.1)" fill="#a8949c" stroke="#36201e" stroke-width="1.6"/>
<ellipse cx="374.8" cy="52.6" rx="4.0" ry="1.3" transform="rotate(-41 374.8 52.6)" fill="#a8949c" stroke="#36201e" stroke-width="1.6"/>
<ellipse cx="384.8" cy="36.5" rx="4.9" ry="1.7" transform="rotate(-34 384.8 36.5)" fill="#a8949c" stroke="#36201e" stroke-width="1.6"/>
<ellipse cx="394.2" cy="28.9" rx="5.2" ry="2.2" transform="rotate(-14 394.2 28.9)" fill="#a8949c" stroke="#36201e" stroke-width="1.6"/>
<ellipse cx="375.2" cy="33.4" rx="3.2" ry="1.5" transform="rotate(-29 375.2 33.4)" fill="#a8949c" stroke="#36201e" stroke-width="1.6"/>
<ellipse cx="379.1" cy="45.8" rx="3.5" ry="1.1" transform="rotate(-20 379.1 45.8)" fill="#a8949c" stroke="#36201e" stroke-width="1.6"/>
<ellipse cx="371.6" cy="57.5" rx="5.0" ry="1.7" transform="rotate(-44 371.6 57.5)" fill="#a8949c" stroke="#36201e" stroke-width="1.6"/>
<ellipse cx="381.6" cy="47.0" rx="4.2" ry="1.9" transform="rotate(-28 381.6 47.0)" fill="#a8949c" stroke="#36201e" stroke-width="1.6"/>
<path d="M361.0 20.2 L369.0 20.2 C367.0 30.2 365.0 40.2 361.0 46.2 Z" fill="#d4ccd8" opacity="0.9"/>
</g></g>
<rect x="204.60" y="59.80" width="10.20" height="10.20" fill="none" stroke="#f0f0f0" stroke-width="0.6"/>
<rect x="282.00" y="82.00" width="9.00" height="9.00" fill="none" stroke="#d8d8e0" stroke-width="0.5"/>
<g clip-path="url(#c_oTL)">
<g filter="url(#soft)">
<rect x="401.50" y="28.50" width="55.60" height="54.00" fill="#bcbfca" stroke="none" stroke-width="1" filter="url(#n_oTL)"/>
<rect x="401.50" y="28.50" width="55.60" height="54.00" fill="#000" stroke="none" stroke-width="1" filter="url(#e_oTL)"/>
</g>
<g filter="url(#wob2)">
<path d="M403 50 C405 46 409 47 410 51 C411 55 409 59 406 58 C404 56 403 53 403 50 Z" fill="#27336e" opacity="0.41"/>
<path d="M404 40 C406 38 409 39 409 42 C408 44 405 44 404 40 Z" fill="#27336e" opacity="0.30"/>
<path d="M451 62 C453 60 456 62 456 66 C455 70 452 69 451 66 Z" fill="#27336e" opacity="0.38"/>
<path d="M425 65 C428 62 436 63 440 67 C437 71 429 71 425 65 Z" fill="#27336e" opacity="0.19"/>
</g>
<g filter="url(#soft)">
<rect x="401.50" y="28.50" width="55.60" height="54.00" fill="#000" stroke="none" stroke-width="1" filter="url(#w_oTL)"/>
<rect x="401.50" y="28.50" width="55.60" height="54.00" fill="#000" stroke="none" stroke-width="1" filter="url(#d_oTL)"/>
</g>
</g>
<g clip-path="url(#c_oTR)">
<g filter="url(#soft)">
<rect x="460.90" y="28.50" width="55.60" height="54.00" fill="#bcbfca" stroke="none" stroke-width="1" filter="url(#n_oTR)"/>
<rect x="460.90" y="28.50" width="55.60" height="54.00" fill="#000" stroke="none" stroke-width="1" filter="url(#e_oTR)"/>
</g>
<path d="M460.9 28.5 L482 28.5 C472 31 465 38 460.9 48 Z" fill="#e6ead8"/>
<g filter="url(#wob2)">
<path d="M461 58 C463 48 468 38 476 32 C480 30 486 29 492 29 L492 32 C486 32 481 34 478 36 C471 42 467 50 464 60 Z" fill="#27336e" opacity="0.26"/>
<path d="M486 34 C490 32 496 33 497 37 C495 41 489 41 486 34 Z" fill="#27336e" opacity="0.26"/>
<path d="M470 70 C474 66 480 68 482 72 C478 76 472 75 470 70 Z" fill="#27336e" opacity="0.22"/>
</g>
<g filter="url(#soft)">
<rect x="460.90" y="28.50" width="55.60" height="54.00" fill="#000" stroke="none" stroke-width="1" filter="url(#w_oTR)"/>
<rect x="460.90" y="28.50" width="55.60" height="54.00" fill="#000" stroke="none" stroke-width="1" filter="url(#d_oTR)"/>
</g>
</g>
<g clip-path="url(#c_oBL)">
<g filter="url(#soft)">
<rect x="401.50" y="84.80" width="55.60" height="55.20" fill="#bcbfca" stroke="none" stroke-width="1" filter="url(#n_oBL)"/>
<rect x="401.50" y="84.80" width="55.60" height="55.20" fill="#000" stroke="none" stroke-width="1" filter="url(#e_oBL)"/>
</g>
<g filter="url(#wob2)">
<path d="M404 93 C407 88 414 88 418 93 C421 98 420 105 417 110 C414 112 411 108 409 103 C406 100 403 97 404 93 Z" fill="#27336e" opacity="0.60"/>
<path d="M405 118 C410 113 420 113 427 116 C433 119 436 125 431 128 C424 130 414 127 408 124 C405 122 404 120 405 118 Z" fill="#27336e" opacity="0.60"/>
<path d="M440 95 C443 93 446 95 445 98 C443 100 441 99 440 95 Z" fill="#27336e" opacity="0.34"/>
<path d="M445 128 C448 126 452 128 451 131 C449 133 446 132 445 128 Z" fill="#27336e" opacity="0.30"/>
</g>
<g filter="url(#soft)">
<rect x="401.50" y="84.80" width="55.60" height="55.20" fill="#000" stroke="none" stroke-width="1" filter="url(#w_oBL)"/>
<rect x="401.50" y="84.80" width="55.60" height="55.20" fill="#000" stroke="none" stroke-width="1" filter="url(#d_oBL)"/>
</g>
</g>
<g clip-path="url(#c_oBR)">
<g filter="url(#soft)">
<rect x="460.90" y="84.80" width="55.60" height="55.20" fill="#bcbfca" stroke="none" stroke-width="1" filter="url(#n_oBR)"/>
<rect x="460.90" y="84.80" width="55.60" height="55.20" fill="#000" stroke="none" stroke-width="1" filter="url(#e_oBR)"/>
</g>
<path d="M478 90 C488 88 496 96 498 106 C500 116 496 128 488 134 C480 132 474 122 474 110 C474 100 474 94 478 90 Z" fill="#806078" opacity="0.3" filter="url(#wob2)"/>
<g filter="url(#wob2)">
<path d="M463 118 C466 113 473 113 478 117 C482 122 480 130 473 132 C467 131 462 125 463 118 Z" fill="#27336e" opacity="0.60"/>
<path d="M470 88 C474 86 478 88 477 92 C474 94 471 92 470 88 Z" fill="#27336e" opacity="0.34"/>
<path d="M503 95 C506 93 509 96 508 100 C505 102 503 99 503 95 Z" fill="#27336e" opacity="0.30"/>
</g>
<g filter="url(#soft)">
<rect x="460.90" y="84.80" width="55.60" height="55.20" fill="#000" stroke="none" stroke-width="1" filter="url(#w_oBR)"/>
<rect x="460.90" y="84.80" width="55.60" height="55.20" fill="#000" stroke="none" stroke-width="1" filter="url(#d_oBR)"/>
</g>
</g>
<circle cx="479.93" cy="97.37" r="0.55" fill="#983444" stroke="none" stroke-width="0.5"/>
<circle cx="493.61" cy="112.23" r="0.55" fill="#983444" stroke="none" stroke-width="0.5"/>
<circle cx="495.14" cy="104.45" r="0.55" fill="#983444" stroke="none" stroke-width="0.5"/>
<circle cx="489.39" cy="106.86" r="0.55" fill="#983444" stroke="none" stroke-width="0.5"/>
<circle cx="482.57" cy="111.60" r="0.55" fill="#983444" stroke="none" stroke-width="0.5"/>
<circle cx="479.46" cy="106.10" r="0.55" fill="#983444" stroke="none" stroke-width="0.5"/>
<circle cx="491.18" cy="110.63" r="0.55" fill="#983444" stroke="none" stroke-width="0.5"/>
<circle cx="484.54" cy="134.08" r="0.55" fill="#983444" stroke="none" stroke-width="0.5"/>
<circle cx="487.35" cy="103.54" r="0.55" fill="#983444" stroke="none" stroke-width="0.5"/>
<circle cx="487.96" cy="104.25" r="0.55" fill="#983444" stroke="none" stroke-width="0.5"/>
<circle cx="484.69" cy="106.15" r="0.55" fill="#983444" stroke="none" stroke-width="0.5"/>
<circle cx="499.15" cy="110.25" r="0.55" fill="#983444" stroke="none" stroke-width="0.5"/>
<circle cx="488.05" cy="117.42" r="0.55" fill="#983444" stroke="none" stroke-width="0.5"/>
<circle cx="499.10" cy="107.54" r="0.55" fill="#983444" stroke="none" stroke-width="0.5"/>
<circle cx="483.26" cy="137.22" r="0.55" fill="#983444" stroke="none" stroke-width="0.5"/>
<circle cx="478.24" cy="105.96" r="0.55" fill="#983444" stroke="none" stroke-width="0.5"/>
<circle cx="491.00" cy="135.12" r="0.55" fill="#983444" stroke="none" stroke-width="0.5"/>
<circle cx="490.97" cy="104.26" r="0.55" fill="#983444" stroke="none" stroke-width="0.5"/>
<circle cx="484.68" cy="115.07" r="0.55" fill="#983444" stroke="none" stroke-width="0.5"/>
<circle cx="488.34" cy="113.20" r="0.55" fill="#983444" stroke="none" stroke-width="0.5"/>
<circle cx="484.41" cy="124.18" r="0.55" fill="#983444" stroke="none" stroke-width="0.5"/>
<circle cx="496.03" cy="110.35" r="0.55" fill="#983444" stroke="none" stroke-width="0.5"/>
<circle cx="484.29" cy="118.07" r="0.55" fill="#983444" stroke="none" stroke-width="0.5"/>
<circle cx="489.87" cy="98.56" r="0.55" fill="#983444" stroke="none" stroke-width="0.5"/>
<circle cx="484.24" cy="121.54" r="0.55" fill="#983444" stroke="none" stroke-width="0.5"/>
<circle cx="486.42" cy="106.38" r="0.55" fill="#983444" stroke="none" stroke-width="0.5"/>
<circle cx="488.27" cy="109.63" r="0.55" fill="#983444" stroke="none" stroke-width="0.5"/>
<circle cx="486.99" cy="88.76" r="0.55" fill="#983444" stroke="none" stroke-width="0.5"/>
<circle cx="497.50" cy="112.19" r="0.55" fill="#983444" stroke="none" stroke-width="0.5"/>
<circle cx="481.74" cy="120.77" r="0.55" fill="#983444" stroke="none" stroke-width="0.5"/>
<circle cx="488.85" cy="110.19" r="0.55" fill="#983444" stroke="none" stroke-width="0.5"/>
<circle cx="493.29" cy="134.87" r="0.55" fill="#983444" stroke="none" stroke-width="0.5"/>
<circle cx="490.32" cy="127.44" r="0.55" fill="#983444" stroke="none" stroke-width="0.5"/>
<circle cx="499.94" cy="98.77" r="0.55" fill="#983444" stroke="none" stroke-width="0.5"/>
<circle cx="483.86" cy="118.54" r="0.55" fill="#983444" stroke="none" stroke-width="0.5"/>
<circle cx="476.75" cy="107.06" r="0.55" fill="#983444" stroke="none" stroke-width="0.5"/>
<circle cx="494.76" cy="121.48" r="0.55" fill="#983444" stroke="none" stroke-width="0.5"/>
<circle cx="490.48" cy="89.15" r="0.55" fill="#983444" stroke="none" stroke-width="0.5"/>
<circle cx="501.11" cy="116.06" r="0.55" fill="#983444" stroke="none" stroke-width="0.5"/>
<circle cx="491.60" cy="115.44" r="0.55" fill="#983444" stroke="none" stroke-width="0.5"/>
<circle cx="476.70" cy="94.22" r="0.55" fill="#983444" stroke="none" stroke-width="0.5"/>
<circle cx="479.70" cy="131.10" r="0.55" fill="#983444" stroke="none" stroke-width="0.5"/>
<circle cx="482.01" cy="107.34" r="0.55" fill="#983444" stroke="none" stroke-width="0.5"/>
<circle cx="485.47" cy="116.28" r="0.55" fill="#983444" stroke="none" stroke-width="0.5"/>
<circle cx="490.00" cy="112.95" r="0.55" fill="#983444" stroke="none" stroke-width="0.5"/>
<circle cx="488.00" cy="112.95" r="0.55" fill="#983444" stroke="none" stroke-width="0.5"/>
<circle cx="494.38" cy="108.87" r="0.55" fill="#983444" stroke="none" stroke-width="0.5"/>
<circle cx="483.33" cy="114.51" r="0.55" fill="#983444" stroke="none" stroke-width="0.5"/>
<circle cx="477.67" cy="98.54" r="0.55" fill="#983444" stroke="none" stroke-width="0.5"/>
<circle cx="480.96" cy="113.17" r="0.55" fill="#983444" stroke="none" stroke-width="0.5"/>
<circle cx="499.55" cy="118.40" r="0.55" fill="#983444" stroke="none" stroke-width="0.5"/>
<circle cx="493.85" cy="112.62" r="0.55" fill="#983444" stroke="none" stroke-width="0.5"/>
<circle cx="488.67" cy="105.06" r="0.55" fill="#983444" stroke="none" stroke-width="0.5"/>
<circle cx="479.78" cy="95.84" r="0.55" fill="#983444" stroke="none" stroke-width="0.5"/>
<circle cx="492.02" cy="117.29" r="0.55" fill="#983444" stroke="none" stroke-width="0.5"/>
<circle cx="493.85" cy="127.12" r="0.55" fill="#983444" stroke="none" stroke-width="0.5"/>
<circle cx="485.17" cy="121.61" r="0.55" fill="#983444" stroke="none" stroke-width="0.5"/>
<circle cx="498.73" cy="109.91" r="0.55" fill="#983444" stroke="none" stroke-width="0.5"/>
<circle cx="493.52" cy="108.18" r="0.55" fill="#983444" stroke="none" stroke-width="0.5"/>
<circle cx="477.32" cy="111.32" r="0.55" fill="#983444" stroke="none" stroke-width="0.5"/>
<circle cx="482.07" cy="111.20" r="0.55" fill="#983444" stroke="none" stroke-width="0.5"/>
<circle cx="484.22" cy="113.52" r="0.55" fill="#983444" stroke="none" stroke-width="0.5"/>
<circle cx="474.18" cy="132.93" r="0.55" fill="#983444" stroke="none" stroke-width="0.5"/>
<circle cx="495.16" cy="106.14" r="0.55" fill="#983444" stroke="none" stroke-width="0.5"/>
<circle cx="481.55" cy="110.04" r="0.55" fill="#983444" stroke="none" stroke-width="0.5"/>
<path d="M401.5 132 Q401.5 140 409 140 L401.5 140 Z" fill="#ffffff"/>
<line x1="178.50" y1="106.30" x2="217.70" y2="106.30" stroke="#333" stroke-width="0.8"/>
<text x="198.30" y="111.30" font-size="4.6" text-anchor="middle" fill="#151515" stroke="#151515" stroke-width="0.2">1.5 mm</text>
<text x="289.20" y="120.00" font-size="8.1" text-anchor="middle" fill="#000" stroke="#000" stroke-width="0.2">MCT1 Expression score</text>
<line x1="232.80" y1="133.60" x2="340.80" y2="133.60" stroke="#111" stroke-width="1.0"/>
<line x1="232.80" y1="133.60" x2="232.80" y2="188.50" stroke="#111" stroke-width="1.0"/>
<line x1="232.80" y1="131.40" x2="232.80" y2="133.60" stroke="#111" stroke-width="0.9"/>
<text x="232.80" y="129.80" font-size="7.4" text-anchor="middle" fill="#000" stroke="#000" stroke-width="0.2">0</text>
<line x1="259.80" y1="131.40" x2="259.80" y2="133.60" stroke="#111" stroke-width="0.9"/>
<text x="259.80" y="129.80" font-size="7.4" text-anchor="middle" fill="#000" stroke="#000" stroke-width="0.2">1</text>
<line x1="286.80" y1="131.40" x2="286.80" y2="133.60" stroke="#111" stroke-width="0.9"/>
<text x="286.80" y="129.80" font-size="7.4" text-anchor="middle" fill="#000" stroke="#000" stroke-width="0.2">2</text>
<line x1="313.80" y1="131.40" x2="313.80" y2="133.60" stroke="#111" stroke-width="0.9"/>
<text x="313.80" y="129.80" font-size="7.4" text-anchor="middle" fill="#000" stroke="#000" stroke-width="0.2">3</text>
<line x1="340.80" y1="131.40" x2="340.80" y2="133.60" stroke="#111" stroke-width="0.9"/>
<text x="340.80" y="129.80" font-size="7.4" text-anchor="middle" fill="#000" stroke="#000" stroke-width="0.2">4</text>
<text x="228.60" y="148.20" font-size="7.8" text-anchor="end" fill="#000" stroke="#000" stroke-width="0.2">Benign</text>
<text x="228.60" y="164.80" font-size="7.8" text-anchor="end" fill="#000" stroke="#000" stroke-width="0.2">Grade &lt;3</text>
<text x="228.60" y="180.60" font-size="7.8" text-anchor="end" fill="#000" stroke="#000" stroke-width="0.2">Grade &gt;3</text>
<line x1="232.80" y1="162.00" x2="253.05" y2="162.00" stroke="#333" stroke-width="0.7"/>
<rect x="253.05" y="156.50" width="33.75" height="11.00" fill="#d5e5f5" stroke="#333" stroke-width="0.7"/>
<line x1="259.80" y1="156.50" x2="259.80" y2="167.50" stroke="#333" stroke-width="0.7"/>
<line x1="232.80" y1="177.80" x2="259.80" y2="177.80" stroke="#333" stroke-width="0.7"/>
<rect x="259.80" y="172.30" width="54.00" height="11.00" fill="#e84b4b" stroke="#333" stroke-width="0.7"/>
<line x1="286.80" y1="172.30" x2="286.80" y2="183.30" stroke="#333" stroke-width="0.7"/>
<text x="323.80" y="180.20" font-size="5" text-anchor="middle" fill="#000" stroke="#000" stroke-width="0.2">*</text>
<text x="435.30" y="24.40" font-size="8.2" text-anchor="middle" fill="#000" stroke="#000" stroke-width="0.2">Benign</text>
<text x="487.80" y="24.40" font-size="8.2" text-anchor="middle" fill="#000" stroke="#000" stroke-width="0.2">PCa</text>
<line x1="420.30" y1="144.28" x2="420.30" y2="195.00" stroke="#333" stroke-width="0.8"/>
<line x1="420.30" y1="195.00" x2="508.00" y2="195.00" stroke="#333" stroke-width="0.8"/>
<line x1="418.30" y1="195.00" x2="420.30" y2="195.00" stroke="#333" stroke-width="0.8"/>
<text x="417.10" y="197.70" font-size="7.6" text-anchor="end" fill="#000" stroke="#000" stroke-width="0.2">0</text>
<line x1="418.30" y1="182.32" x2="420.30" y2="182.32" stroke="#333" stroke-width="0.8"/>
<text x="417.10" y="185.02" font-size="7.6" text-anchor="end" fill="#000" stroke="#000" stroke-width="0.2">1</text>
<line x1="418.30" y1="169.64" x2="420.30" y2="169.64" stroke="#333" stroke-width="0.8"/>
<text x="417.10" y="172.34" font-size="7.6" text-anchor="end" fill="#000" stroke="#000" stroke-width="0.2">2</text>
<line x1="418.30" y1="156.96" x2="420.30" y2="156.96" stroke="#333" stroke-width="0.8"/>
<text x="417.10" y="159.66" font-size="7.6" text-anchor="end" fill="#000" stroke="#000" stroke-width="0.2">3</text>
<line x1="418.30" y1="144.28" x2="420.30" y2="144.28" stroke="#333" stroke-width="0.8"/>
<text x="417.10" y="146.98" font-size="7.6" text-anchor="end" fill="#000" stroke="#000" stroke-width="0.2">4</text>
<text x="406.80" y="170.60" font-size="8.0" text-anchor="middle" fill="#000" stroke="#000" stroke-width="0.2" transform="rotate(-90 406.8 170.6)">Oil Red signal</text>
<line x1="445.75" y1="182.32" x2="445.75" y2="188.66" stroke="#666" stroke-width="0.7"/>
<line x1="442.25" y1="182.32" x2="449.25" y2="182.32" stroke="#666" stroke-width="0.7"/>
<rect x="433.50" y="188.66" width="24.50" height="6.34" fill="#a8daf0" stroke="#6a8fa8" stroke-width="0.6"/>
<line x1="483.45" y1="156.96" x2="483.45" y2="163.30" stroke="#666" stroke-width="0.7"/>
<line x1="479.95" y1="156.96" x2="486.95" y2="156.96" stroke="#666" stroke-width="0.7"/>
<rect x="471.40" y="163.30" width="24.10" height="6.34" fill="#f6b862" stroke="#a07040" stroke-width="0.6"/>
<text x="483.50" y="153.60" font-size="5.5" text-anchor="middle" fill="#000" stroke="#000" stroke-width="0.2">***</text>
<text x="444.60" y="203.20" font-size="8.0" text-anchor="middle" fill="#000" stroke="#000" stroke-width="0.2">Benign</text>
<text x="484.00" y="203.20" font-size="8.0" text-anchor="middle" fill="#000" stroke="#000" stroke-width="0.2">PCa</text>
<text x="0.40" y="227.80" font-size="15.8" text-anchor="start" font-weight="bold" fill="#000">C</text>
<line x1="32.00" y1="242.00" x2="32.00" y2="365.80" stroke="#111" stroke-width="1.2"/>
<line x1="32.00" y1="365.20" x2="115.00" y2="365.20" stroke="#111" stroke-width="1.2"/>
<line x1="29.00" y1="365.20" x2="32.00" y2="365.20" stroke="#111" stroke-width="1.2"/>
<text x="28.00" y="368.20" font-size="8.4" text-anchor="end" fill="#000" stroke="#000" stroke-width="0.2">6</text>
<line x1="29.00" y1="334.40" x2="32.00" y2="334.40" stroke="#111" stroke-width="1.2"/>
<text x="28.00" y="337.40" font-size="8.4" text-anchor="end" fill="#000" stroke="#000" stroke-width="0.2">7</text>
<line x1="29.00" y1="303.60" x2="32.00" y2="303.60" stroke="#111" stroke-width="1.2"/>
<text x="28.00" y="306.60" font-size="8.4" text-anchor="end" fill="#000" stroke="#000" stroke-width="0.2">8</text>
<line x1="29.00" y1="272.80" x2="32.00" y2="272.80" stroke="#111" stroke-width="1.2"/>
<text x="28.00" y="275.80" font-size="8.4" text-anchor="end" fill="#000" stroke="#000" stroke-width="0.2">9</text>
<line x1="29.00" y1="242.00" x2="32.00" y2="242.00" stroke="#111" stroke-width="1.2"/>
<text x="28.00" y="245.00" font-size="8.4" text-anchor="end" fill="#000" stroke="#000" stroke-width="0.2">10</text>
<text x="37.20" y="377.60" font-size="8.0" text-anchor="middle" fill="#000" stroke="#000" stroke-width="0.2">9</text>
<text x="49.60" y="377.60" font-size="8.0" text-anchor="middle" fill="#000" stroke="#000" stroke-width="0.2">9.5</text>
<text x="63.00" y="377.60" font-size="8.0" text-anchor="middle" fill="#000" stroke="#000" stroke-width="0.2">10</text>
<text x="78.20" y="377.60" font-size="8.0" text-anchor="middle" fill="#000" stroke="#000" stroke-width="0.2">10.5</text>
<text x="94.00" y="377.60" font-size="8.0" text-anchor="middle" fill="#000" stroke="#000" stroke-width="0.2">11</text>
<text x="109.40" y="377.60" font-size="8.0" text-anchor="middle" fill="#000" stroke="#000" stroke-width="0.2">11.5</text>
<text x="74.80" y="387.80" font-size="8.2" text-anchor="middle" fill="#000" stroke="#000" stroke-width="0.2">ACLY mRNA</text>
<text x="14.80" y="297.60" font-size="8.2" text-anchor="middle" fill="#000" stroke="#000" stroke-width="0.2" transform="rotate(-90 14.8 297.6)">MCT1 mRNA</text>
<circle cx="75.00" cy="257.20" r="1.30" fill="#111" stroke="none" stroke-width="0.5"/>
<circle cx="103.10" cy="255.90" r="1.30" fill="#111" stroke="none" stroke-width="0.5"/>
<circle cx="90.20" cy="259.60" r="1.30" fill="#111" stroke="none" stroke-width="0.5"/>
<circle cx="97.40" cy="261.60" r="1.30" fill="#111" stroke="none" stroke-width="0.5"/>
<circle cx="83.00" cy="266.60" r="1.30" fill="#111" stroke="none" stroke-width="0.5"/>
<circle cx="94.90" cy="267.80" r="1.30" fill="#111" stroke="none" stroke-width="0.5"/>
<circle cx="98.20" cy="266.60" r="1.30" fill="#111" stroke="none" stroke-width="0.5"/>
<circle cx="78.90" cy="270.20" r="1.30" fill="#111" stroke="none" stroke-width="0.5"/>
<circle cx="76.10" cy="274.00" r="1.30" fill="#111" stroke="none" stroke-width="0.5"/>
<circle cx="81.00" cy="275.10" r="1.30" fill="#111" stroke="none" stroke-width="0.5"/>
<circle cx="89.20" cy="275.10" r="1.30" fill="#111" stroke="none" stroke-width="0.5"/>
<circle cx="92.80" cy="275.10" r="1.30" fill="#111" stroke="none" stroke-width="0.5"/>
<circle cx="109.60" cy="274.70" r="1.30" fill="#111" stroke="none" stroke-width="0.5"/>
<circle cx="81.00" cy="277.60" r="1.30" fill="#111" stroke="none" stroke-width="0.5"/>
<circle cx="84.30" cy="278.40" r="1.30" fill="#111" stroke="none" stroke-width="0.5"/>
<circle cx="90.00" cy="277.90" r="1.30" fill="#111" stroke="none" stroke-width="0.5"/>
<circle cx="93.30" cy="279.60" r="1.30" fill="#111" stroke="none" stroke-width="0.5"/>
<circle cx="66.30" cy="281.20" r="1.30" fill="#111" stroke="none" stroke-width="0.5"/>
<circle cx="81.90" cy="281.70" r="1.30" fill="#111" stroke="none" stroke-width="0.5"/>
<circle cx="84.00" cy="284.10" r="1.30" fill="#111" stroke="none" stroke-width="0.5"/>
<circle cx="87.60" cy="284.10" r="1.30" fill="#111" stroke="none" stroke-width="0.5"/>
<circle cx="103.10" cy="283.30" r="1.30" fill="#111" stroke="none" stroke-width="0.5"/>
<circle cx="69.30" cy="288.70" r="1.30" fill="#111" stroke="none" stroke-width="0.5"/>
<circle cx="90.00" cy="288.20" r="1.30" fill="#111" stroke="none" stroke-width="0.5"/>
<circle cx="94.10" cy="288.20" r="1.30" fill="#111" stroke="none" stroke-width="0.5"/>
<circle cx="96.60" cy="289.00" r="1.30" fill="#111" stroke="none" stroke-width="0.5"/>
<circle cx="40.50" cy="303.40" r="1.30" fill="#111" stroke="none" stroke-width="0.5"/>
<circle cx="66.30" cy="296.90" r="1.30" fill="#111" stroke="none" stroke-width="0.5"/>
<circle cx="61.10" cy="302.70" r="1.30" fill="#111" stroke="none" stroke-width="0.5"/>
<circle cx="51.90" cy="308.80" r="1.30" fill="#111" stroke="none" stroke-width="0.5"/>
<circle cx="45.10" cy="312.60" r="1.30" fill="#111" stroke="none" stroke-width="0.5"/>
<circle cx="44.70" cy="315.80" r="1.30" fill="#111" stroke="none" stroke-width="0.5"/>
<circle cx="39.40" cy="319.70" r="1.30" fill="#111" stroke="none" stroke-width="0.5"/>
<circle cx="43.10" cy="321.40" r="1.30" fill="#111" stroke="none" stroke-width="0.5"/>
<circle cx="57.30" cy="314.20" r="1.30" fill="#111" stroke="none" stroke-width="0.5"/>
<circle cx="62.20" cy="309.30" r="1.30" fill="#111" stroke="none" stroke-width="0.5"/>
<circle cx="65.50" cy="308.00" r="1.30" fill="#111" stroke="none" stroke-width="0.5"/>
<circle cx="70.40" cy="305.00" r="1.30" fill="#111" stroke="none" stroke-width="0.5"/>
<circle cx="72.90" cy="301.10" r="1.30" fill="#111" stroke="none" stroke-width="0.5"/>
<circle cx="76.10" cy="297.40" r="1.30" fill="#111" stroke="none" stroke-width="0.5"/>
<circle cx="78.60" cy="297.40" r="1.30" fill="#111" stroke="none" stroke-width="0.5"/>
<circle cx="81.00" cy="291.60" r="1.30" fill="#111" stroke="none" stroke-width="0.5"/>
<circle cx="83.50" cy="292.00" r="1.30" fill="#111" stroke="none" stroke-width="0.5"/>
<circle cx="87.60" cy="290.80" r="1.30" fill="#111" stroke="none" stroke-width="0.5"/>
<circle cx="92.50" cy="291.60" r="1.30" fill="#111" stroke="none" stroke-width="0.5"/>
<circle cx="94.10" cy="293.30" r="1.30" fill="#111" stroke="none" stroke-width="0.5"/>
<circle cx="99.00" cy="295.20" r="1.30" fill="#111" stroke="none" stroke-width="0.5"/>
<circle cx="102.60" cy="295.70" r="1.30" fill="#111" stroke="none" stroke-width="0.5"/>
<circle cx="84.30" cy="299.00" r="1.30" fill="#111" stroke="none" stroke-width="0.5"/>
<circle cx="85.10" cy="302.30" r="1.30" fill="#111" stroke="none" stroke-width="0.5"/>
<circle cx="89.20" cy="302.30" r="1.30" fill="#111" stroke="none" stroke-width="0.5"/>
<circle cx="93.80" cy="303.10" r="1.30" fill="#111" stroke="none" stroke-width="0.5"/>
<circle cx="97.40" cy="304.40" r="1.30" fill="#111" stroke="none" stroke-width="0.5"/>
<circle cx="85.90" cy="305.50" r="1.30" fill="#111" stroke="none" stroke-width="0.5"/>
<circle cx="89.20" cy="306.70" r="1.30" fill="#111" stroke="none" stroke-width="0.5"/>
<circle cx="92.20" cy="306.30" r="1.30" fill="#111" stroke="none" stroke-width="0.5"/>
<circle cx="99.00" cy="309.30" r="1.30" fill="#111" stroke="none" stroke-width="0.5"/>
<circle cx="68.80" cy="309.60" r="1.30" fill="#111" stroke="none" stroke-width="0.5"/>
<circle cx="71.20" cy="309.30" r="1.30" fill="#111" stroke="none" stroke-width="0.5"/>
<circle cx="66.30" cy="315.80" r="1.30" fill="#111" stroke="none" stroke-width="0.5"/>
<circle cx="69.60" cy="315.80" r="1.30" fill="#111" stroke="none" stroke-width="0.5"/>
<circle cx="77.00" cy="314.50" r="1.30" fill="#111" stroke="none" stroke-width="0.5"/>
<circle cx="79.40" cy="312.10" r="1.30" fill="#111" stroke="none" stroke-width="0.5"/>
<circle cx="81.00" cy="310.40" r="1.30" fill="#111" stroke="none" stroke-width="0.5"/>
<circle cx="82.70" cy="308.30" r="1.30" fill="#111" stroke="none" stroke-width="0.5"/>
<circle cx="78.60" cy="316.20" r="1.30" fill="#111" stroke="none" stroke-width="0.5"/>
<circle cx="80.20" cy="314.20" r="1.30" fill="#111" stroke="none" stroke-width="0.5"/>
<circle cx="60.60" cy="316.50" r="1.30" fill="#111" stroke="none" stroke-width="0.5"/>
<circle cx="63.90" cy="320.20" r="1.30" fill="#111" stroke="none" stroke-width="0.5"/>
<circle cx="71.20" cy="321.90" r="1.30" fill="#111" stroke="none" stroke-width="0.5"/>
<circle cx="73.70" cy="321.90" r="1.30" fill="#111" stroke="none" stroke-width="0.5"/>
<circle cx="77.00" cy="320.20" r="1.30" fill="#111" stroke="none" stroke-width="0.5"/>
<circle cx="86.80" cy="319.10" r="1.30" fill="#111" stroke="none" stroke-width="0.5"/>
<circle cx="89.20" cy="320.20" r="1.30" fill="#111" stroke="none" stroke-width="0.5"/>
<circle cx="91.70" cy="321.10" r="1.30" fill="#111" stroke="none" stroke-width="0.5"/>
<circle cx="62.70" cy="324.70" r="1.30" fill="#111" stroke="none" stroke-width="0.5"/>
<circle cx="69.30" cy="324.70" r="1.30" fill="#111" stroke="none" stroke-width="0.5"/>
<circle cx="74.20" cy="324.30" r="1.30" fill="#111" stroke="none" stroke-width="0.5"/>
<circle cx="54.90" cy="325.10" r="1.30" fill="#111" stroke="none" stroke-width="0.5"/>
<circle cx="49.70" cy="326.80" r="1.30" fill="#111" stroke="none" stroke-width="0.5"/>
<circle cx="46.40" cy="328.90" r="1.30" fill="#111" stroke="none" stroke-width="0.5"/>
<circle cx="107.20" cy="324.70" r="1.30" fill="#111" stroke="none" stroke-width="0.5"/>
<circle cx="84.30" cy="329.60" r="1.30" fill="#111" stroke="none" stroke-width="0.5"/>
<circle cx="88.90" cy="329.60" r="1.30" fill="#111" stroke="none" stroke-width="0.5"/>
<circle cx="54.60" cy="333.80" r="1.30" fill="#111" stroke="none" stroke-width="0.5"/>
<circle cx="59.50" cy="334.10" r="1.30" fill="#111" stroke="none" stroke-width="0.5"/>
<circle cx="63.90" cy="334.10" r="1.30" fill="#111" stroke="none" stroke-width="0.5"/>
<circle cx="63.10" cy="336.60" r="1.30" fill="#111" stroke="none" stroke-width="0.5"/>
<circle cx="72.00" cy="337.40" r="1.30" fill="#111" stroke="none" stroke-width="0.5"/>
<circle cx="85.90" cy="336.60" r="1.30" fill="#111" stroke="none" stroke-width="0.5"/>
<circle cx="97.10" cy="333.80" r="1.30" fill="#111" stroke="none" stroke-width="0.5"/>
<circle cx="94.90" cy="339.00" r="1.30" fill="#111" stroke="none" stroke-width="0.5"/>
<circle cx="102.00" cy="338.20" r="1.30" fill="#111" stroke="none" stroke-width="0.5"/>
<circle cx="54.90" cy="343.10" r="1.30" fill="#111" stroke="none" stroke-width="0.5"/>
<circle cx="60.60" cy="347.50" r="1.30" fill="#111" stroke="none" stroke-width="0.5"/>
<circle cx="70.40" cy="345.90" r="1.30" fill="#111" stroke="none" stroke-width="0.5"/>
<circle cx="110.00" cy="274.50" r="1.30" fill="#111" stroke="none" stroke-width="0.5"/>
<circle cx="81.50" cy="287.00" r="1.30" fill="#111" stroke="none" stroke-width="0.5"/>
<circle cx="86.00" cy="287.50" r="1.30" fill="#111" stroke="none" stroke-width="0.5"/>
<circle cx="83.00" cy="294.00" r="1.30" fill="#111" stroke="none" stroke-width="0.5"/>
<circle cx="96.00" cy="297.00" r="1.30" fill="#111" stroke="none" stroke-width="0.5"/>
<circle cx="76.80" cy="295.20" r="1.30" fill="#111" stroke="none" stroke-width="0.5"/>
<circle cx="79.50" cy="305.30" r="1.30" fill="#111" stroke="none" stroke-width="0.5"/>
<line x1="38.80" y1="327.50" x2="110.50" y2="284.80" stroke="#d0202e" stroke-width="1.3"/>
<text x="71.60" y="235.60" font-size="8.3" text-anchor="middle" fill="#000" stroke="#000" stroke-width="0.2"><tspan font-style="italic">R</tspan> = 0.4586</text>
<text x="71.60" y="242.60" font-size="8.3" text-anchor="middle" fill="#000" stroke="#000" stroke-width="0.2"><tspan font-style="italic">P</tspan> &lt; 0.001</text>
<line x1="154.60" y1="239.50" x2="154.60" y2="365.80" stroke="#111" stroke-width="1.2"/>
<line x1="154.60" y1="365.20" x2="237.60" y2="365.20" stroke="#111" stroke-width="1.2"/>
<line x1="151.60" y1="365.20" x2="154.60" y2="365.20" stroke="#111" stroke-width="1.2"/>
<text x="150.60" y="368.20" font-size="8.4" text-anchor="end" fill="#000" stroke="#000" stroke-width="0.2">6</text>
<line x1="151.60" y1="333.80" x2="154.60" y2="333.80" stroke="#111" stroke-width="1.2"/>
<text x="150.60" y="336.80" font-size="8.4" text-anchor="end" fill="#000" stroke="#000" stroke-width="0.2">7</text>
<line x1="151.60" y1="302.40" x2="154.60" y2="302.40" stroke="#111" stroke-width="1.2"/>
<text x="150.60" y="305.40" font-size="8.4" text-anchor="end" fill="#000" stroke="#000" stroke-width="0.2">8</text>
<line x1="151.60" y1="271.00" x2="154.60" y2="271.00" stroke="#111" stroke-width="1.2"/>
<text x="150.60" y="274.00" font-size="8.4" text-anchor="end" fill="#000" stroke="#000" stroke-width="0.2">9</text>
<line x1="151.60" y1="239.50" x2="154.60" y2="239.50" stroke="#111" stroke-width="1.2"/>
<text x="150.60" y="242.50" font-size="8.4" text-anchor="end" fill="#000" stroke="#000" stroke-width="0.2">10</text>
<text x="162.00" y="377.60" font-size="8.0" text-anchor="middle" fill="#000" stroke="#000" stroke-width="0.2">8</text>
<text x="171.60" y="377.60" font-size="8.0" text-anchor="middle" fill="#000" stroke="#000" stroke-width="0.2">8.5</text>
<text x="185.00" y="377.60" font-size="8.0" text-anchor="middle" fill="#000" stroke="#000" stroke-width="0.2">9</text>
<text x="199.60" y="377.60" font-size="8.0" text-anchor="middle" fill="#000" stroke="#000" stroke-width="0.2">9.5</text>
<text x="214.00" y="377.60" font-size="8.0" text-anchor="middle" fill="#000" stroke="#000" stroke-width="0.2">10</text>
<text x="230.00" y="377.60" font-size="8.0" text-anchor="middle" fill="#000" stroke="#000" stroke-width="0.2">10.5</text>
<text x="195.60" y="387.80" font-size="8.2" text-anchor="middle" fill="#000" stroke="#000" stroke-width="0.2">SREBF2 mRNA</text>
<text x="137.40" y="296.35" font-size="8.2" text-anchor="middle" fill="#000" stroke="#000" stroke-width="0.2" transform="rotate(-90 137.4 296.35)">MCT1 mRNA</text>
<circle cx="173.30" cy="255.10" r="1.30" fill="#111" stroke="none" stroke-width="0.5"/>
<circle cx="192.90" cy="259.40" r="1.30" fill="#111" stroke="none" stroke-width="0.5"/>
<circle cx="203.20" cy="257.30" r="1.30" fill="#111" stroke="none" stroke-width="0.5"/>
<circle cx="214.20" cy="253.20" r="1.30" fill="#111" stroke="none" stroke-width="0.5"/>
<circle cx="223.60" cy="264.60" r="1.30" fill="#111" stroke="none" stroke-width="0.5"/>
<circle cx="208.10" cy="265.40" r="1.30" fill="#111" stroke="none" stroke-width="0.5"/>
<circle cx="210.60" cy="264.60" r="1.30" fill="#111" stroke="none" stroke-width="0.5"/>
<circle cx="198.80" cy="267.90" r="1.30" fill="#111" stroke="none" stroke-width="0.5"/>
<circle cx="184.70" cy="272.80" r="1.30" fill="#111" stroke="none" stroke-width="0.5"/>
<circle cx="192.30" cy="271.50" r="1.30" fill="#111" stroke="none" stroke-width="0.5"/>
<circle cx="196.70" cy="272.00" r="1.30" fill="#111" stroke="none" stroke-width="0.5"/>
<circle cx="203.20" cy="273.10" r="1.30" fill="#111" stroke="none" stroke-width="0.5"/>
<circle cx="205.70" cy="275.20" r="1.30" fill="#111" stroke="none" stroke-width="0.5"/>
<circle cx="189.70" cy="275.70" r="1.30" fill="#111" stroke="none" stroke-width="0.5"/>
<circle cx="195.90" cy="275.70" r="1.30" fill="#111" stroke="none" stroke-width="0.5"/>
<circle cx="216.80" cy="276.10" r="1.30" fill="#111" stroke="none" stroke-width="0.5"/>
<circle cx="197.80" cy="279.30" r="1.30" fill="#111" stroke="none" stroke-width="0.5"/>
<circle cx="200.40" cy="279.70" r="1.30" fill="#111" stroke="none" stroke-width="0.5"/>
<circle cx="197.20" cy="282.90" r="1.30" fill="#111" stroke="none" stroke-width="0.5"/>
<circle cx="199.10" cy="282.90" r="1.30" fill="#111" stroke="none" stroke-width="0.5"/>
<circle cx="219.10" cy="281.80" r="1.30" fill="#111" stroke="none" stroke-width="0.5"/>
<circle cx="195.00" cy="285.00" r="1.30" fill="#111" stroke="none" stroke-width="0.5"/>
<circle cx="208.90" cy="284.20" r="1.30" fill="#111" stroke="none" stroke-width="0.5"/>
<circle cx="211.40" cy="286.20" r="1.30" fill="#111" stroke="none" stroke-width="0.5"/>
<circle cx="168.90" cy="290.40" r="1.30" fill="#111" stroke="none" stroke-width="0.5"/>
<circle cx="190.10" cy="287.20" r="1.30" fill="#111" stroke="none" stroke-width="0.5"/>
<circle cx="193.40" cy="288.80" r="1.30" fill="#111" stroke="none" stroke-width="0.5"/>
<circle cx="199.10" cy="290.00" r="1.30" fill="#111" stroke="none" stroke-width="0.5"/>
<circle cx="202.40" cy="290.40" r="1.30" fill="#111" stroke="none" stroke-width="0.5"/>
<circle cx="207.30" cy="287.80" r="1.30" fill="#111" stroke="none" stroke-width="0.5"/>
<circle cx="217.10" cy="286.70" r="1.30" fill="#111" stroke="none" stroke-width="0.5"/>
<circle cx="219.10" cy="289.10" r="1.30" fill="#111" stroke="none" stroke-width="0.5"/>
<circle cx="223.60" cy="290.40" r="1.30" fill="#111" stroke="none" stroke-width="0.5"/>
<circle cx="231.50" cy="292.70" r="1.30" fill="#111" stroke="none" stroke-width="0.5"/>
<circle cx="213.50" cy="293.20" r="1.30" fill="#111" stroke="none" stroke-width="0.5"/>
<circle cx="215.20" cy="293.70" r="1.30" fill="#111" stroke="none" stroke-width="0.5"/>
<circle cx="182.80" cy="295.30" r="1.30" fill="#111" stroke="none" stroke-width="0.5"/>
<circle cx="181.50" cy="297.00" r="1.30" fill="#111" stroke="none" stroke-width="0.5"/>
<circle cx="187.70" cy="298.60" r="1.30" fill="#111" stroke="none" stroke-width="0.5"/>
<circle cx="194.20" cy="296.50" r="1.30" fill="#111" stroke="none" stroke-width="0.5"/>
<circle cx="199.10" cy="295.30" r="1.30" fill="#111" stroke="none" stroke-width="0.5"/>
<circle cx="200.80" cy="297.60" r="1.30" fill="#111" stroke="none" stroke-width="0.5"/>
<circle cx="203.20" cy="297.00" r="1.30" fill="#111" stroke="none" stroke-width="0.5"/>
<circle cx="194.20" cy="298.90" r="1.30" fill="#111" stroke="none" stroke-width="0.5"/>
<circle cx="184.10" cy="302.20" r="1.30" fill="#111" stroke="none" stroke-width="0.5"/>
<circle cx="188.50" cy="303.00" r="1.30" fill="#111" stroke="none" stroke-width="0.5"/>
<circle cx="193.40" cy="303.00" r="1.30" fill="#111" stroke="none" stroke-width="0.5"/>
<circle cx="214.20" cy="302.50" r="1.30" fill="#111" stroke="none" stroke-width="0.5"/>
<circle cx="220.10" cy="301.40" r="1.30" fill="#111" stroke="none" stroke-width="0.5"/>
<circle cx="226.90" cy="301.40" r="1.30" fill="#111" stroke="none" stroke-width="0.5"/>
<circle cx="166.80" cy="318.70" r="1.30" fill="#111" stroke="none" stroke-width="0.5"/>
<circle cx="179.20" cy="307.30" r="1.30" fill="#111" stroke="none" stroke-width="0.5"/>
<circle cx="184.10" cy="311.30" r="1.30" fill="#111" stroke="none" stroke-width="0.5"/>
<circle cx="185.20" cy="313.30" r="1.30" fill="#111" stroke="none" stroke-width="0.5"/>
<circle cx="177.10" cy="320.80" r="1.30" fill="#111" stroke="none" stroke-width="0.5"/>
<circle cx="193.90" cy="305.60" r="1.30" fill="#111" stroke="none" stroke-width="0.5"/>
<circle cx="195.00" cy="308.90" r="1.30" fill="#111" stroke="none" stroke-width="0.5"/>
<circle cx="193.90" cy="310.50" r="1.30" fill="#111" stroke="none" stroke-width="0.5"/>
<circle cx="204.00" cy="306.80" r="1.30" fill="#111" stroke="none" stroke-width="0.5"/>
<circle cx="207.30" cy="307.70" r="1.30" fill="#111" stroke="none" stroke-width="0.5"/>
<circle cx="211.40" cy="308.40" r="1.30" fill="#111" stroke="none" stroke-width="0.5"/>
<circle cx="213.80" cy="302.80" r="1.30" fill="#111" stroke="none" stroke-width="0.5"/>
<circle cx="190.60" cy="314.90" r="1.30" fill="#111" stroke="none" stroke-width="0.5"/>
<circle cx="197.50" cy="314.60" r="1.30" fill="#111" stroke="none" stroke-width="0.5"/>
<circle cx="198.30" cy="317.10" r="1.30" fill="#111" stroke="none" stroke-width="0.5"/>
<circle cx="194.20" cy="319.50" r="1.30" fill="#111" stroke="none" stroke-width="0.5"/>
<circle cx="196.70" cy="319.80" r="1.30" fill="#111" stroke="none" stroke-width="0.5"/>
<circle cx="201.60" cy="320.80" r="1.30" fill="#111" stroke="none" stroke-width="0.5"/>
<circle cx="205.70" cy="314.60" r="1.30" fill="#111" stroke="none" stroke-width="0.5"/>
<circle cx="208.90" cy="311.30" r="1.30" fill="#111" stroke="none" stroke-width="0.5"/>
<circle cx="213.50" cy="313.30" r="1.30" fill="#111" stroke="none" stroke-width="0.5"/>
<circle cx="210.90" cy="319.50" r="1.30" fill="#111" stroke="none" stroke-width="0.5"/>
<circle cx="186.10" cy="321.20" r="1.30" fill="#111" stroke="none" stroke-width="0.5"/>
<circle cx="184.40" cy="324.10" r="1.30" fill="#111" stroke="none" stroke-width="0.5"/>
<circle cx="189.30" cy="324.10" r="1.30" fill="#111" stroke="none" stroke-width="0.5"/>
<circle cx="191.30" cy="324.70" r="1.30" fill="#111" stroke="none" stroke-width="0.5"/>
<circle cx="180.80" cy="325.70" r="1.30" fill="#111" stroke="none" stroke-width="0.5"/>
<circle cx="177.60" cy="328.50" r="1.30" fill="#111" stroke="none" stroke-width="0.5"/>
<circle cx="195.50" cy="324.70" r="1.30" fill="#111" stroke="none" stroke-width="0.5"/>
<circle cx="217.90" cy="324.10" r="1.30" fill="#111" stroke="none" stroke-width="0.5"/>
<circle cx="197.80" cy="329.00" r="1.30" fill="#111" stroke="none" stroke-width="0.5"/>
<circle cx="204.00" cy="329.00" r="1.30" fill="#111" stroke="none" stroke-width="0.5"/>
<circle cx="186.40" cy="333.90" r="1.30" fill="#111" stroke="none" stroke-width="0.5"/>
<circle cx="192.60" cy="332.90" r="1.30" fill="#111" stroke="none" stroke-width="0.5"/>
<circle cx="190.10" cy="336.70" r="1.30" fill="#111" stroke="none" stroke-width="0.5"/>
<circle cx="192.30" cy="335.90" r="1.30" fill="#111" stroke="none" stroke-width="0.5"/>
<circle cx="199.50" cy="338.80" r="1.30" fill="#111" stroke="none" stroke-width="0.5"/>
<circle cx="204.00" cy="335.90" r="1.30" fill="#111" stroke="none" stroke-width="0.5"/>
<circle cx="206.00" cy="337.80" r="1.30" fill="#111" stroke="none" stroke-width="0.5"/>
<circle cx="223.60" cy="333.40" r="1.30" fill="#111" stroke="none" stroke-width="0.5"/>
<circle cx="176.20" cy="342.70" r="1.30" fill="#111" stroke="none" stroke-width="0.5"/>
<circle cx="182.80" cy="347.30" r="1.30" fill="#111" stroke="none" stroke-width="0.5"/>
<circle cx="195.50" cy="345.30" r="1.30" fill="#111" stroke="none" stroke-width="0.5"/>
<circle cx="187.00" cy="300.50" r="1.30" fill="#111" stroke="none" stroke-width="0.5"/>
<circle cx="201.00" cy="301.00" r="1.30" fill="#111" stroke="none" stroke-width="0.5"/>
<circle cx="198.00" cy="306.50" r="1.30" fill="#111" stroke="none" stroke-width="0.5"/>
<circle cx="202.00" cy="310.00" r="1.30" fill="#111" stroke="none" stroke-width="0.5"/>
<circle cx="189.00" cy="308.00" r="1.30" fill="#111" stroke="none" stroke-width="0.5"/>
<circle cx="209.00" cy="296.00" r="1.30" fill="#111" stroke="none" stroke-width="0.5"/>
<circle cx="216.00" cy="298.50" r="1.30" fill="#111" stroke="none" stroke-width="0.5"/>
<line x1="166.20" y1="318.20" x2="232.50" y2="286.80" stroke="#d0202e" stroke-width="1.3"/>
<text x="193.80" y="235.60" font-size="8.3" text-anchor="middle" fill="#000" stroke="#000" stroke-width="0.2"><tspan font-style="italic">R</tspan> = 0.3266</text>
<text x="193.80" y="242.60" font-size="8.3" text-anchor="middle" fill="#000" stroke="#000" stroke-width="0.2"><tspan font-style="italic">P</tspan> &lt; 0.001</text>
<text x="255.80" y="228.60" font-size="15.8" text-anchor="start" font-weight="bold" fill="#000">D</text>
<text x="362.20" y="226.20" font-size="7.2" text-anchor="middle" fill="#000" stroke="#000" stroke-width="0.2">Lactate vs. untreated</text>
<line x1="310.00" y1="230.80" x2="310.00" y2="357.80" stroke="#ececec" stroke-width="0.5"/>
<line x1="330.20" y1="230.80" x2="330.20" y2="357.80" stroke="#ececec" stroke-width="0.5"/>
<line x1="350.40" y1="230.80" x2="350.40" y2="357.80" stroke="#ececec" stroke-width="0.5"/>
<line x1="370.60" y1="230.80" x2="370.60" y2="357.80" stroke="#ececec" stroke-width="0.5"/>
<line x1="390.80" y1="230.80" x2="390.80" y2="357.80" stroke="#ececec" stroke-width="0.5"/>
<line x1="411.00" y1="230.80" x2="411.00" y2="357.80" stroke="#ececec" stroke-width="0.5"/>
<line x1="431.20" y1="230.80" x2="431.20" y2="357.80" stroke="#ececec" stroke-width="0.5"/>
<line x1="293.60" y1="353.50" x2="435.40" y2="353.50" stroke="#ececec" stroke-width="0.5"/>
<line x1="293.60" y1="329.80" x2="435.40" y2="329.80" stroke="#ececec" stroke-width="0.5"/>
<line x1="293.60" y1="306.10" x2="435.40" y2="306.10" stroke="#ececec" stroke-width="0.5"/>
<line x1="293.60" y1="282.40" x2="435.40" y2="282.40" stroke="#ececec" stroke-width="0.5"/>
<line x1="293.60" y1="258.70" x2="435.40" y2="258.70" stroke="#ececec" stroke-width="0.5"/>
<line x1="293.60" y1="235.00" x2="435.40" y2="235.00" stroke="#ececec" stroke-width="0.5"/>
<g clip-path="url(#cpD)">
<path d="M400.8 345.0h0M336.9 342.9h0M381.0 334.0h0M329.4 353.1h0M389.5 345.9h0M396.3 350.0h0M339.6 347.8h0M375.7 330.6h0M387.4 347.8h0M385.5 348.5h0M373.0 348.0h0M382.7 331.9h0M359.2 332.7h0M397.5 352.5h0M375.7 327.6h0M405.6 348.3h0M406.2 353.0h0M394.1 344.9h0M345.0 346.7h0M340.9 338.4h0M320.7 351.2h0M302.2 352.4h0M378.5 346.2h0M338.9 349.2h0M373.5 329.3h0M384.8 349.7h0M340.5 336.2h0M336.4 350.6h0M379.8 346.4h0M392.1 349.8h0M387.1 339.4h0M366.1 324.8h0M382.6 346.5h0M356.1 339.2h0M369.3 338.8h0M338.1 326.2h0M326.6 348.8h0M364.0 348.8h0M377.1 351.0h0M395.4 342.1h0M373.7 323.0h0M341.2 328.1h0M370.5 324.3h0M394.4 352.9h0M366.7 325.8h0M381.3 332.6h0M376.1 345.1h0M392.3 352.2h0M374.8 337.5h0M335.5 342.4h0M356.4 339.4h0M388.6 350.7h0M338.2 334.7h0M366.9 329.6h0M337.3 343.8h0M391.9 346.1h0M339.4 324.4h0M362.1 348.1h0M382.5 348.4h0M426.0 352.5h0M377.1 324.2h0M378.1 340.8h0M350.4 353.4h0M388.7 345.4h0M390.9 348.6h0M410.4 350.3h0M338.2 329.7h0M356.5 342.6h0M332.6 346.9h0M358.9 345.4h0M373.3 334.3h0M339.2 351.9h0M316.6 350.4h0M383.4 341.2h0M362.3 347.2h0M406.4 348.4h0M332.4 339.4h0M420.6 350.8h0M355.1 348.1h0M385.4 334.2h0M333.9 352.2h0M398.1 343.8h0M337.9 325.6h0M378.6 351.0h0M359.6 336.5h0M354.4 348.2h0M382.0 346.4h0M336.0 329.4h0M378.4 331.1h0M377.2 326.9h0M340.2 353.3h0M370.3 350.6h0M341.0 350.8h0M381.9 350.0h0M381.6 349.7h0M340.9 350.2h0M379.5 349.7h0M366.1 352.9h0M338.0 334.3h0M355.8 345.9h0M364.1 349.8h0M385.2 351.3h0M369.2 339.1h0M380.2 349.8h0M366.4 345.9h0M335.2 348.7h0M315.1 353.0h0M374.8 337.5h0M335.0 338.4h0M425.6 352.9h0M324.7 350.2h0M376.0 341.4h0M371.9 348.3h0M338.7 327.1h0M377.7 350.7h0M373.0 353.3h0M339.8 331.1h0M421.9 353.0h0M384.5 342.5h0M376.8 351.5h0M341.6 338.0h0M334.1 348.7h0M378.3 334.2h0M360.8 348.8h0M404.3 347.4h0M330.5 353.5h0M321.0 353.2h0M363.5 351.6h0M379.3 351.7h0M368.0 351.6h0M359.0 337.8h0M362.6 342.8h0M391.7 343.5h0M388.1 345.9h0M386.0 341.3h0M373.8 330.1h0M345.1 350.2h0M358.1 332.2h0M363.4 345.2h0M362.8 349.0h0M402.9 348.2h0M383.1 345.1h0M336.7 338.5h0M358.7 346.3h0M396.7 346.3h0M365.9 340.7h0M364.7 323.3h0M353.8 346.0h0M393.4 348.0h0M341.6 346.3h0M384.1 336.0h0M362.0 333.2h0M403.8 350.9h0M327.6 349.6h0M390.4 341.5h0M355.5 342.4h0M400.2 350.6h0M394.0 349.5h0M337.7 342.8h0M376.4 340.3h0M342.0 346.3h0M368.2 350.4h0M355.3 343.4h0M408.4 348.1h0M387.5 343.2h0M333.2 350.5h0M339.6 326.0h0M356.6 342.6h0M340.8 339.2h0M363.2 346.0h0M365.3 336.1h0M393.5 347.5h0M330.3 343.7h0M349.6 352.7h0M409.3 352.1h0M367.8 327.5h0M373.9 343.2h0M365.9 333.9h0M355.1 352.0h0M335.6 333.1h0M387.2 352.8h0M365.5 326.8h0M326.7 351.7h0M383.8 347.7h0M358.5 334.7h0M357.4 338.1h0M335.8 343.5h0M401.8 349.2h0M367.1 341.6h0M357.0 337.7h0M327.4 352.3h0M323.4 353.0h0M385.8 344.7h0M342.2 346.1h0M371.0 327.2h0M366.4 345.4h0M401.2 352.9h0M340.7 333.3h0M367.8 348.7h0M340.7 349.4h0M359.4 330.9h0M363.4 344.2h0M382.7 330.7h0M337.2 331.3h0M396.2 348.0h0M327.1 347.4h0M411.2 348.9h0M372.2 333.7h0M380.6 340.7h0M380.5 327.9h0M377.7 340.0h0M338.2 334.2h0M402.8 352.0h0M344.6 344.6h0M386.2 352.8h0M378.0 346.0h0M356.5 349.2h0M384.0 342.5h0M401.2 351.8h0M389.5 348.7h0M389.2 340.8h0M363.8 351.0h0M340.6 334.7h0M385.4 345.3h0M381.4 339.3h0M380.7 335.1h0M338.9 331.7h0M404.2 348.1h0M373.7 324.6h0M361.6 339.7h0M368.5 334.3h0M333.1 346.5h0M373.5 342.9h0M400.6 352.7h0M377.4 351.6h0M343.6 344.1h0M376.4 345.1h0M399.3 351.0h0M392.5 350.8h0M331.4 353.1h0M335.3 337.4h0M380.7 337.8h0M336.5 328.8h0M379.3 351.0h0M398.8 345.0h0M356.6 348.3h0M335.8 348.6h0M397.1 346.1h0M358.4 342.9h0M331.9 343.6h0M382.7 348.3h0M370.3 327.8h0M360.7 343.3h0M365.4 346.1h0M377.9 337.6h0M362.1 345.1h0M364.6 352.3h0M398.3 352.7h0M331.1 353.4h0M379.7 329.6h0M334.7 334.0h0M384.8 339.1h0M329.3 344.6h0M302.7 351.8h0M326.0 353.4h0M339.4 336.8h0M370.1 335.5h0M360.3 326.7h0M338.3 349.0h0M331.9 352.9h0M330.2 346.3h0M342.2 331.3h0M366.1 350.8h0M337.8 326.8h0M370.6 325.4h0M377.8 351.3h0M341.6 343.0h0M337.0 346.0h0M389.2 352.8h0M372.7 344.6h0M338.9 340.8h0M371.9 334.9h0M362.4 326.0h0M361.2 351.3h0M406.2 349.7h0M380.1 338.0h0M332.2 343.2h0M371.9 329.9h0M378.0 351.4h0M371.6 351.6h0M378.5 345.9h0M380.2 334.7h0M371.5 329.5h0M388.0 338.1h0M352.3 351.6h0M375.6 331.4h0M358.8 339.8h0M384.1 332.4h0M407.5 353.2h0M366.3 342.2h0M387.6 349.7h0M366.8 351.0h0M363.2 322.6h0M384.3 341.3h0M340.1 331.3h0M362.1 341.9h0M368.0 329.7h0M374.8 350.8h0M333.3 347.2h0M362.8 323.8h0M393.1 351.9h0M370.7 340.5h0M381.1 341.6h0M361.5 345.1h0M422.1 353.3h0M369.2 341.9h0M376.2 343.4h0M368.7 351.3h0M419.8 352.2h0M382.8 336.9h0M379.9 337.4h0M328.8 348.3h0M363.9 329.7h0M321.9 349.1h0M346.4 348.2h0M383.6 339.2h0M388.6 343.3h0M371.9 353.1h0M344.5 346.7h0M384.8 353.5h0M360.4 350.8h0M382.5 337.3h0M340.0 346.7h0M418.5 352.3h0M361.3 342.1h0M393.0 353.3h0M378.1 348.5h0M370.7 345.2h0M352.8 349.8h0M394.5 341.7h0M383.1 341.3h0M323.8 349.2h0M365.9 334.0h0M331.3 351.0h0M405.1 353.4h0M364.7 324.4h0M381.1 352.8h0M389.0 339.2h0M399.4 353.3h0M371.2 331.0h0M401.0 345.4h0M335.5 342.0h0M377.5 324.3h0M368.3 333.0h0M367.6 343.2h0M328.2 345.3h0M397.4 343.5h0M376.2 343.2h0M340.2 352.5h0M339.7 344.0h0M333.6 340.9h0M338.2 344.9h0M390.7 348.7h0M356.2 338.7h0M403.1 351.1h0M336.5 332.9h0M370.7 342.8h0M373.0 338.9h0M344.8 350.4h0M336.6 337.6h0M340.6 348.4h0M374.2 342.2h0M367.1 330.0h0M357.7 342.8h0M377.2 334.1h0M399.7 350.4h0M342.5 342.7h0M375.6 349.4h0M355.6 348.7h0M357.6 341.7h0M361.6 327.6h0M420.8 353.2h0M389.9 350.2h0M360.4 339.6h0M331.5 343.9h0M373.7 337.4h0M344.3 345.4h0M343.9 339.8h0M359.9 349.3h0M370.3 349.9h0M330.4 347.6h0M386.8 335.7h0M337.9 337.3h0M329.2 345.1h0M372.3 339.8h0M378.1 345.5h0M315.7 350.7h0M330.8 350.7h0M332.9 347.3h0M391.1 343.1h0M340.5 343.7h0M367.5 335.8h0M365.3 341.6h0M302.7 352.6h0M373.9 348.3h0M385.7 352.9h0M343.7 340.5h0M331.7 339.9h0M379.1 349.7h0M363.6 341.7h0M405.3 350.2h0M394.3 349.7h0M346.1 346.4h0M329.4 347.6h0M387.1 347.7h0M340.8 341.1h0M361.9 326.0h0M370.4 345.9h0M340.2 348.3h0M371.3 351.8h0M376.5 336.7h0M375.0 336.1h0M370.4 329.9h0M316.0 353.0h0M324.7 349.2h0M363.2 342.5h0M377.2 343.4h0M375.2 325.6h0M353.3 350.9h0M363.6 344.1h0M365.2 342.3h0M404.0 348.8h0M367.3 333.1h0M400.7 351.8h0M402.7 351.6h0M332.3 347.9h0M332.2 349.0h0M373.4 346.6h0M360.9 339.4h0M333.9 351.8h0M340.4 331.9h0M329.9 351.7h0M367.2 336.9h0M370.1 323.4h0M375.6 348.1h0M336.2 338.8h0M407.9 353.4h0M351.2 353.4h0M359.9 336.9h0M362.8 343.0h0M363.6 342.2h0M390.7 352.5h0M387.1 347.0h0M359.1 346.5h0M362.2 336.2h0M363.9 348.4h0M326.9 350.2h0M406.2 349.2h0M359.4 328.6h0M372.1 350.2h0M373.8 343.7h0M345.4 350.3h0M401.6 353.4h0M402.2 353.4h0M339.0 346.6h0M339.7 348.7h0M335.5 343.0h0M367.9 330.9h0M370.0 344.1h0M356.3 338.0h0M383.7 350.5h0M358.9 341.7h0M374.8 331.9h0M382.6 339.1h0M334.0 348.4h0M339.9 346.5h0M424.8 351.6h0M366.0 342.5h0M378.2 330.4h0M372.3 352.2h0M334.3 348.0h0M367.7 337.9h0M392.4 346.9h0M368.0 327.5h0M375.3 327.0h0M368.3 340.4h0M381.5 350.1h0M333.2 340.0h0M337.1 348.9h0M388.9 343.0h0M332.9 345.6h0M387.2 338.1h0M379.1 343.9h0M358.6 347.1h0M407.9 350.9h0M366.5 329.8h0M339.3 340.2h0M370.1 345.6h0M409.1 348.7h0M337.4 332.1h0M393.9 348.2h0M319.8 353.3h0M376.0 344.7h0M377.5 343.9h0M391.4 340.3h0M336.8 336.5h0M332.1 353.2h0M377.1 332.1h0M332.8 351.3h0M342.1 339.4h0M355.7 340.6h0M357.5 341.6h0M339.5 328.4h0M397.8 351.2h0M373.3 341.8h0M341.1 346.1h0M335.4 338.7h0M352.7 351.2h0M387.3 335.4h0M361.9 350.8h0M381.7 345.0h0M369.3 325.5h0M377.1 341.9h0M340.4 332.4h0M372.2 335.4h0M380.3 327.4h0M404.2 349.6h0M391.2 343.9h0M376.5 348.3h0M366.9 335.1h0M412.2 349.1h0M336.6 342.7h0M365.3 349.3h0M343.8 350.2h0M356.9 347.4h0M335.0 343.8h0M340.6 347.1h0M387.1 347.5h0M342.6 351.9h0M382.6 350.4h0M340.5 351.1h0M341.6 342.5h0M353.5 350.0h0M319.0 350.4h0M328.2 345.6h0M390.9 339.3h0M381.9 350.7h0M381.5 331.0h0M333.4 345.9h0M344.2 351.0h0M377.0 324.5h0M383.5 349.0h0M392.4 341.2h0M386.2 342.5h0M364.4 323.1h0M408.5 350.9h0M400.4 353.3h0M340.9 343.9h0M355.2 344.6h0M351.6 353.3h0M391.1 348.4h0M379.0 350.9h0M386.6 353.1h0M338.6 345.7h0M398.6 348.0h0M378.8 346.3h0M343.1 333.6h0M371.1 345.5h0M335.4 341.6h0M323.2 352.0h0M340.4 335.0h0M406.6 350.3h0M341.8 351.5h0M323.5 353.0h0M377.7 335.8h0M333.5 342.6h0M402.7 347.2h0M334.0 347.3h0M376.0 348.2h0M335.1 336.2h0M362.1 341.8h0M374.9 333.2h0M331.8 344.4h0M363.9 332.1h0M397.3 348.6h0M356.0 347.9h0M372.5 322.9h0M386.2 334.9h0M359.1 336.4h0M359.9 351.2h0M388.8 347.4h0M385.2 350.2h0M381.2 333.2h0M376.9 328.5h0M331.6 347.1h0M365.6 335.0h0M365.6 346.9h0M375.0 346.8h0M380.8 331.9h0M375.6 351.0h0M381.5 348.5h0M338.2 347.4h0M369.0 351.3h0M391.7 344.3h0M369.5 333.1h0M360.2 344.6h0M384.7 335.7h0M406.4 351.0h0M393.0 344.7h0M403.9 351.5h0M386.5 338.8h0M359.4 338.1h0M341.4 343.8h0M378.2 342.8h0M365.3 330.4h0M325.0 346.8h0M339.3 345.3h0M355.9 344.2h0M397.7 349.4h0M367.0 346.0h0M328.8 352.8h0M367.8 328.5h0M368.2 329.7h0M330.7 348.7h0M359.7 328.4h0M403.8 349.7h0M361.9 326.3h0M365.5 344.2h0M365.9 338.5h0M355.4 344.7h0M359.0 353.0h0M370.6 341.6h0M333.0 351.5h0M342.4 348.2h0M377.9 349.9h0M371.0 326.4h0M383.4 345.1h0M396.8 348.6h0M376.4 341.1h0M361.6 346.1h0M375.4 351.1h0M362.2 352.5h0M329.2 346.8h0M333.7 338.3h0M342.9 350.0h0M364.5 336.9h0M364.7 329.2h0M390.8 353.3h0M382.3 352.5h0M374.3 348.9h0M379.4 330.5h0M366.0 328.9h0M365.8 341.6h0M397.9 349.6h0M381.9 344.4h0M382.5 343.2h0M372.7 330.2h0M365.2 352.4h0M338.2 327.1h0M388.3 352.8h0M370.9 328.7h0M345.5 346.6h0M372.1 348.4h0M366.7 323.2h0M366.8 330.2h0M396.7 353.1h0M365.9 325.6h0M381.9 345.2h0M333.3 340.9h0M323.1 350.4h0M359.6 332.3h0M366.2 332.3h0M345.3 347.1h0M367.4 351.9h0M364.3 336.9h0M334.6 349.9h0M384.4 332.6h0M371.2 325.4h0M366.6 340.1h0M387.7 350.5h0M383.4 342.6h0M370.0 321.0h0M386.4 343.4h0M385.6 346.3h0M353.5 352.4h0M408.0 350.0h0M375.4 333.3h0M394.3 349.7h0M334.5 335.0h0M381.6 349.4h0M371.8 328.4h0M387.7 344.1h0M369.4 347.0h0M374.4 331.7h0M374.1 338.6h0M384.1 345.2h0M401.6 345.6h0M340.3 345.7h0M312.4 352.9h0M388.1 342.0h0M376.1 347.9h0M382.9 333.2h0M334.8 340.1h0M381.8 339.3h0M309.2 352.3h0M337.8 333.4h0M336.1 329.3h0M379.1 351.7h0M360.6 345.3h0M340.3 335.2h0M372.9 342.1h0M366.7 352.9h0M381.2 339.0h0M364.2 349.8h0M366.6 322.4h0M386.9 342.5h0M371.2 346.3h0M386.2 350.3h0M415.1 351.9h0M324.1 353.3h0M382.2 340.7h0M372.8 321.5h0M382.9 348.8h0M372.6 345.5h0M339.2 324.2h0M371.8 323.7h0M367.6 351.0h0M340.5 342.0h0M316.7 352.4h0M302.4 352.7h0M340.3 349.3h0M365.1 335.7h0M375.0 345.1h0M339.4 346.7h0M373.9 343.6h0M311.3 352.1h0M364.2 329.6h0M321.3 349.7h0M403.2 346.4h0M412.7 353.4h0M380.9 345.3h0M330.4 352.3h0M345.4 344.4h0M384.6 332.3h0M361.5 344.0h0M341.8 336.1h0M373.5 339.8h0M375.9 351.1h0M382.8 347.3h0M337.0 334.1h0M400.1 351.1h0M400.6 345.9h0M395.5 341.9h0M397.5 349.3h0M362.1 335.9h0M356.6 344.6h0M378.5 346.5h0M370.4 350.8h0M347.1 345.5h0M359.4 343.2h0M341.1 336.2h0M339.3 341.8h0M361.9 343.0h0M385.2 344.8h0M364.0 347.0h0M373.6 334.9h0M359.8 343.0h0M396.8 353.0h0M372.0 351.3h0M367.8 326.6h0M394.5 349.0h0M346.2 351.0h0M341.5 334.2h0M399.9 347.9h0M367.7 345.1h0M368.9 339.0h0M366.2 353.1h0M373.4 326.5h0M377.9 353.2h0M368.0 344.4h0M360.6 352.9h0M325.4 351.2h0M327.2 348.9h0M384.3 348.2h0M400.9 348.5h0M343.3 341.3h0M369.0 325.4h0M376.3 330.9h0M332.0 341.0h0M375.5 331.0h0M377.1 352.1h0M325.4 352.0h0M331.3 350.5h0M378.2 340.0h0M367.4 336.2h0M352.7 352.9h0M391.6 348.3h0M371.1 341.6h0M349.3 352.9h0M401.9 352.3h0M334.0 340.5h0M366.9 348.5h0M344.5 352.8h0M383.0 341.6h0M363.6 327.0h0M360.0 326.4h0M401.7 345.9h0M360.1 352.7h0M343.7 348.8h0M333.6 348.5h0M367.9 333.6h0M401.6 350.6h0M339.7 353.3h0M392.4 353.2h0M393.4 351.8h0M358.8 341.7h0M386.4 344.6h0M364.2 328.4h0M390.6 345.2h0M341.1 347.4h0M378.8 334.1h0M342.0 337.3h0M408.6 349.3h0M365.5 330.6h0M338.2 325.2h0M383.2 341.1h0M333.6 340.7h0M337.1 341.7h0M374.7 350.0h0M333.8 349.7h0M339.3 340.4h0M368.4 337.8h0M362.7 335.3h0M367.2 340.3h0M337.9 336.6h0M380.3 340.5h0M396.1 349.5h0M360.5 342.3h0M343.7 339.5h0M335.6 346.2h0M331.5 351.2h0M373.7 352.6h0M363.6 322.5h0M389.1 338.5h0M380.4 335.8h0M381.0 338.1h0M360.6 350.7h0M352.7 349.4h0M376.2 342.9h0M364.0 342.4h0M352.0 353.2h0M401.0 353.0h0M390.3 347.9h0M341.5 328.9h0M333.3 346.9h0M359.9 345.8h0M384.8 347.5h0M387.2 352.9h0M390.4 350.0h0M346.0 352.1h0M415.5 350.7h0M414.6 350.0h0M348.0 349.3h0M334.4 333.0h0M393.4 345.9h0M395.2 350.5h0M356.1 350.8h0M383.1 331.4h0M362.4 352.0h0M374.9 352.8h0M338.6 323.9h0M330.8 346.2h0M371.9 352.3h0M365.2 331.8h0M343.0 336.8h0M368.6 349.7h0M368.6 331.2h0M338.5 330.7h0M324.8 350.7h0M323.2 352.6h0M342.3 353.1h0M360.6 327.3h0M340.1 345.1h0M330.5 344.5h0M368.8 341.4h0M388.6 351.9h0M343.4 351.3h0M370.4 320.5h0M364.8 344.2h0M341.6 346.0h0M313.4 352.9h0M342.2 343.0h0M374.1 336.7h0M382.7 348.4h0M338.7 328.6h0M363.1 325.3h0M372.6 347.8h0M334.2 340.1h0M334.2 337.7h0M348.3 352.7h0M341.5 343.5h0M370.0 329.4h0M343.0 347.7h0M341.5 331.8h0M346.0 349.2h0M400.7 351.9h0M371.4 351.0h0M372.3 348.2h0M365.3 345.0h0M356.2 352.2h0M382.9 330.5h0M393.8 343.2h0M379.9 334.4h0M394.6 346.7h0M385.4 344.8h0M375.3 341.5h0M370.8 350.6h0M362.3 336.0h0M341.9 342.6h0M355.8 352.2h0M394.3 343.6h0M355.4 352.2h0M370.3 337.0h0M342.5 333.6h0M330.9 346.8h0M341.9 343.5h0M404.5 350.8h0M382.4 341.3h0M374.7 350.2h0M351.8 350.4h0M364.4 343.6h0M368.5 336.0h0M328.2 350.2h0M373.8 332.9h0M333.8 351.5h0M338.3 340.9h0M373.1 344.0h0M367.2 335.3h0M380.1 338.3h0M360.5 340.1h0M373.2 331.9h0M363.0 346.5h0M331.4 348.7h0M372.5 351.2h0M392.0 353.1h0M366.5 352.6h0M415.6 351.1h0M342.2 338.2h0M366.0 324.1h0M336.6 345.5h0M364.5 330.8h0M355.0 342.9h0M386.3 339.6h0M337.2 347.6h0M342.2 342.1h0M388.4 339.2h0M390.8 352.9h0M371.0 326.7h0M327.2 350.8h0M376.9 341.2h0M345.8 345.7h0M382.6 342.1h0M368.2 345.4h0M372.2 338.2h0M344.0 348.2h0M342.3 344.5h0M356.8 348.7h0M377.7 333.9h0M343.5 335.6h0M323.4 351.9h0M405.0 351.7h0M363.2 340.3h0M363.1 350.6h0M374.7 326.5h0M332.5 340.3h0M362.5 328.9h0M338.6 336.0h0M345.8 351.1h0M374.4 351.7h0M356.8 345.1h0M320.0 350.1h0M339.8 324.5h0M406.0 353.3h0M337.9 328.2h0M336.9 333.2h0M401.8 351.3h0M347.7 347.5h0M339.1 339.7h0M356.1 349.7h0M380.8 338.9h0M337.5 335.5h0M318.2 353.0h0M321.6 349.8h0M359.7 352.2h0M388.9 344.8h0M345.1 345.8h0M377.3 324.0h0M375.1 343.4h0M354.6 344.6h0M395.4 342.0h0M364.6 346.3h0M395.4 344.3h0M383.0 347.5h0M364.1 349.4h0M354.8 347.0h0M373.6 348.1h0M384.9 333.9h0M359.1 353.1h0M360.7 350.0h0M355.8 351.4h0M381.1 342.7h0M367.4 331.5h0M388.3 341.3h0M361.6 353.5h0M344.4 352.1h0M386.2 352.2h0M343.1 333.3h0M374.3 345.7h0M328.5 349.3h0M372.7 336.6h0M336.5 349.1h0M374.2 348.9h0M360.8 332.3h0M365.3 328.7h0M365.0 351.7h0M340.2 329.5h0M356.0 344.9h0M341.6 348.0h0M390.4 344.2h0M309.6 351.7h0M376.1 339.1h0M339.4 341.9h0M312.3 351.7h0M360.7 346.6h0M339.7 349.3h0M379.7 335.7h0M368.4 349.3h0M389.4 353.0h0M357.1 342.5h0M315.4 351.8h0M406.6 350.5h0M358.3 349.8h0M342.2 348.8h0M375.1 348.3h0M310.3 353.0h0M365.2 352.2h0M335.9 337.6h0M337.4 345.7h0M379.6 328.9h0M341.1 329.8h0M371.7 341.2h0M363.8 329.5h0M398.2 352.1h0M392.3 353.0h0M330.1 346.6h0M341.5 350.9h0M321.2 350.5h0M365.8 337.7h0M384.1 350.3h0M344.4 352.8h0M358.4 346.7h0M337.6 332.1h0M405.3 348.2h0M390.6 339.7h0M330.9 348.9h0M378.5 340.9h0M372.7 339.2h0M398.0 345.8h0M354.1 352.1h0M364.0 325.6h0M314.2 352.0h0M386.4 340.7h0M359.2 350.2h0M359.0 337.6h0M350.9 353.3h0M399.3 350.7h0M351.2 353.0h0M377.4 329.2h0M372.6 331.4h0M381.5 342.3h0M364.7 335.9h0M394.5 350.5h0M344.2 352.5h0M363.1 350.7h0M392.9 345.8h0M339.8 349.8h0M362.2 343.3h0M349.0 351.8h0M355.2 345.5h0M334.6 349.0h0M381.3 345.6h0M397.6 352.0h0M396.6 351.3h0M373.3 341.9h0M381.7 351.2h0M342.2 347.5h0M326.2 347.4h0M375.2 333.3h0M321.7 350.4h0M334.6 342.3h0M336.6 344.0h0M378.9 327.6h0M340.7 348.1h0M354.0 349.2h0M328.0 350.1h0M379.2 340.2h0M330.6 350.2h0M371.9 335.0h0M364.0 332.1h0M388.4 348.1h0M384.3 335.9h0M360.9 339.4h0M358.0 351.7h0M337.0 333.6h0M364.0 350.9h0M377.3 331.6h0M387.2 345.9h0M400.6 352.8h0M387.9 339.8h0M340.7 341.7h0M369.2 341.0h0M320.2 350.6h0M388.8 340.4h0M313.9 350.4h0M372.5 331.3h0M364.9 328.9h0M385.4 350.7h0M384.4 338.8h0M366.4 322.2h0M370.0 337.0h0M408.5 348.0h0M339.7 336.5h0M425.4 353.4h0M337.6 346.3h0M336.9 344.2h0M327.1 348.4h0M364.3 338.5h0M361.2 349.3h0M330.9 343.8h0M337.3 338.3h0M337.4 348.7h0M343.9 353.4h0M319.1 349.3h0M360.7 333.8h0M378.5 352.4h0M370.2 333.8h0M374.6 323.7h0M409.7 351.3h0M376.0 346.1h0M372.5 330.8h0M311.8 352.0h0M328.1 353.2h0M358.2 346.7h0M379.2 335.7h0M360.9 340.4h0M372.9 334.5h0M373.4 333.6h0M394.7 341.8h0M388.7 349.4h0M358.3 341.9h0M359.7 333.3h0M373.4 322.2h0M375.2 339.5h0M370.2 346.2h0M339.6 328.9h0M373.2 323.8h0M380.2 350.8h0M383.5 340.2h0M381.4 336.2h0M366.3 338.4h0M369.6 327.7h0M350.0 351.5h0M331.1 350.9h0M396.3 351.3h0M379.3 349.4h0M377.8 327.1h0M369.9 340.4h0M351.9 352.2h0M388.3 343.7h0M363.3 352.4h0M387.6 339.7h0M349.1 351.4h0M376.1 343.7h0M339.9 328.6h0M369.1 337.7h0M378.0 350.2h0M366.5 329.3h0M377.0 348.7h0M373.1 337.9h0M373.3 343.9h0M346.1 349.8h0M344.0 344.1h0M340.7 345.4h0M340.6 336.7h0M345.5 344.1h0M407.2 352.2h0M341.6 351.2h0M343.2 344.4h0M398.1 348.2h0M390.4 339.8h0M418.7 352.5h0M367.1 350.7h0M397.6 345.4h0M377.6 349.6h0M366.0 343.3h0M358.4 347.9h0M389.3 341.8h0M403.1 350.0h0M366.4 342.5h0M338.8 347.7h0M359.4 347.6h0M392.5 340.0h0M326.6 352.1h0M360.0 347.6h0M362.4 333.6h0M374.9 324.1h0M320.6 352.6h0M373.5 322.4h0M392.1 348.1h0M372.7 342.5h0M336.8 350.2h0M335.6 344.9h0M372.7 342.6h0M399.3 345.8h0M390.7 347.0h0M376.9 338.5h0M374.3 348.0h0M358.8 349.6h0M361.8 333.0h0M369.5 347.2h0M365.8 334.3h0M362.7 344.5h0M333.2 352.3h0M382.7 349.1h0M377.5 337.6h0M371.9 352.4h0M362.8 330.5h0M402.1 348.9h0M375.8 332.7h0M391.9 345.8h0M402.3 350.5h0M377.0 343.5h0M367.2 334.7h0M362.4 348.4h0M394.4 349.2h0M360.0 348.2h0M338.6 326.6h0M396.9 349.3h0M391.2 352.4h0M387.2 340.5h0M398.5 345.0h0M361.0 341.2h0M361.7 340.4h0M373.8 342.4h0M370.3 352.9h0M377.7 343.1h0M380.5 348.3h0M318.6 352.1h0M412.4 352.0h0M338.7 338.0h0M383.3 343.0h0M412.5 353.2h0M343.2 340.3h0M335.5 339.7h0M371.7 322.3h0M363.4 344.0h0M334.8 350.8h0M372.3 343.5h0M333.5 344.5h0M383.5 342.8h0M368.8 349.0h0M343.5 347.7h0M402.2 353.1h0M335.8 349.0h0M371.0 321.1h0M342.8 351.3h0M367.1 320.2h0M346.4 350.3h0M399.3 351.7h0M407.1 349.7h0M339.5 327.0h0M371.0 327.8h0M345.4 352.0h0M381.1 330.0h0M369.8 340.8h0M352.7 350.6h0M387.4 343.6h0M335.6 344.5h0M362.4 335.9h0M323.7 350.6h0M398.0 352.7h0M382.3 349.9h0M361.4 352.4h0M384.2 342.8h0M358.4 341.5h0M368.8 333.0h0M412.6 352.3h0M381.0 350.0h0M340.7 348.4h0M371.6 340.7h0M388.1 344.1h0M394.6 342.6h0M367.2 342.1h0M311.1 351.5h0M374.4 326.7h0M338.3 348.8h0M377.7 333.9h0M371.1 334.4h0M386.9 337.1h0M357.2 337.3h0M361.7 333.5h0M371.4 347.0h0M341.9 339.4h0M368.4 324.7h0M367.8 340.1h0M372.5 338.6h0M379.9 341.0h0M336.7 346.9h0M385.4 337.6h0M377.4 325.1h0M359.4 351.4h0M388.0 349.8h0M344.8 346.8h0M342.0 341.0h0M338.6 348.2h0M380.7 345.4h0M388.1 346.9h0M342.0 347.0h0M340.8 346.4h0M335.3 339.6h0M387.8 351.7h0M372.5 339.9h0M367.9 343.7h0M318.1 352.8h0M395.5 346.6h0M375.5 346.1h0M382.6 340.7h0M339.3 324.6h0M377.2 343.6h0M407.3 349.0h0M382.0 349.6h0M367.9 333.7h0M333.8 341.8h0M331.4 352.1h0M366.7 350.6h0M385.7 346.6h0M336.6 347.8h0M378.4 339.7h0M340.6 342.7h0M375.7 347.6h0M337.8 347.0h0M373.5 346.3h0M386.2 340.9h0M401.4 351.6h0M346.2 347.8h0M373.1 349.7h0M366.3 321.1h0M374.7 333.9h0M395.3 345.1h0M364.9 337.9h0M360.3 345.2h0M331.0 351.6h0M339.7 347.6h0M364.3 348.2h0M370.4 331.9h0M372.5 343.2h0M367.1 337.3h0M364.9 329.4h0M374.1 340.0h0M363.5 333.8h0M393.7 343.1h0M326.7 351.0h0M313.8 352.2h0M342.1 340.1h0M394.7 345.4h0M389.6 351.1h0M316.1 352.7h0M363.9 325.2h0M368.5 352.2h0M372.3 334.2h0M364.4 327.2h0M400.8 345.8h0M379.8 340.0h0M371.8 349.4h0M328.0 351.6h0M339.9 338.3h0M396.4 348.3h0M371.2 323.6h0M390.3 349.2h0M385.9 335.7h0M374.4 342.5h0M372.4 345.2h0M362.7 350.8h0M375.4 353.0h0M314.3 351.6h0M378.6 348.6h0M388.5 340.4h0M340.8 336.0h0M343.6 336.8h0M361.8 348.2h0M384.5 347.8h0M319.6 349.0h0M345.7 345.8h0M372.5 330.6h0M321.4 349.9h0M332.1 339.7h0M412.4 352.2h0M361.7 352.0h0M363.6 348.4h0M375.5 334.3h0M368.2 323.1h0M369.9 340.6h0M355.2 341.1h0M361.1 347.3h0M355.4 353.5h0M361.8 329.5h0M303.1 352.5h0M388.5 338.1h0M373.6 353.1h0M360.8 338.1h0M345.3 340.8h0M331.5 342.8h0M355.9 352.8h0M381.0 329.7h0M337.0 333.0h0M363.2 351.1h0M353.6 348.2h0M372.6 351.5h0M377.8 334.4h0M400.1 350.7h0M402.2 350.3h0M375.3 338.2h0M367.8 350.7h0M387.7 336.0h0M362.7 323.6h0M374.8 334.2h0M342.2 333.5h0M377.9 340.6h0M395.8 353.2h0M362.9 333.0h0M369.8 343.8h0M345.8 346.0h0M401.7 347.6h0M367.9 333.1h0M330.0 352.5h0M356.7 352.6h0M333.9 351.2h0M336.3 347.8h0M332.4 341.0h0M334.5 337.7h0M361.8 336.9h0M342.7 331.8h0M357.7 347.2h0M357.6 347.6h0M361.0 335.7h0M380.7 353.0h0M365.1 337.7h0M420.9 351.5h0M409.8 352.1h0M375.3 348.1h0M376.7 330.5h0M341.2 342.1h0M372.0 350.2h0M340.6 347.0h0M396.5 350.8h0M353.0 347.2h0M358.7 341.5h0M398.3 346.6h0M364.6 341.3h0M405.1 347.5h0M386.9 343.5h0M338.6 338.0h0M384.8 348.2h0M386.0 348.3h0M368.7 328.3h0M336.8 351.4h0M366.3 347.2h0M367.7 330.2h0M359.6 334.5h0M325.9 347.1h0M399.6 344.8h0M356.3 348.6h0M371.1 346.9h0M369.4 335.0h0M341.7 346.8h0M397.9 352.2h0M391.8 344.5h0M359.4 340.0h0M337.9 350.8h0M371.1 332.0h0M362.9 350.7h0M337.2 338.8h0M329.5 345.7h0M375.3 342.4h0M377.0 349.3h0M331.8 345.5h0M336.7 352.3h0M357.1 352.5h0M376.9 337.8h0M306.6 353.0h0M314.4 352.8h0M377.6 325.3h0M335.8 347.5h0M388.8 336.3h0M368.2 346.6h0M384.2 341.3h0M356.6 345.7h0M341.8 348.9h0M375.2 335.2h0M358.2 333.1h0M397.5 342.8h0M332.2 346.7h0M368.9 338.7h0M402.0 349.6h0M370.6 327.4h0M391.6 344.7h0M409.3 351.2h0M383.5 343.2h0M351.6 350.6h0M386.6 350.7h0M386.1 339.2h0M365.6 347.6h0M391.4 352.3h0M379.6 353.3h0M373.6 332.6h0M355.0 344.5h0M373.5 333.5h0M336.4 349.1h0M318.6 350.9h0M408.9 349.5h0M387.7 341.5h0M338.9 349.2h0M393.2 345.7h0M361.4 328.5h0M309.6 352.4h0M376.3 324.9h0M359.4 350.5h0M363.0 350.0h0M341.3 348.2h0M381.7 344.4h0M369.3 338.1h0M399.2 347.7h0M369.7 350.6h0M370.5 353.3h0M328.4 348.7h0M318.4 352.5h0M394.8 342.2h0M367.8 343.4h0M393.7 349.9h0M373.9 351.3h0M364.5 342.5h0M365.2 349.7h0M331.6 350.2h0M375.1 325.3h0M368.8 350.0h0M372.0 344.3h0M374.0 347.6h0M364.2 324.5h0M380.0 330.7h0M318.9 352.4h0M382.8 350.7h0M360.7 334.9h0M390.5 352.3h0M365.6 326.3h0M362.7 331.8h0M363.2 343.2h0M391.1 347.4h0M363.6 324.6h0M333.5 346.8h0M375.8 330.8h0M367.9 350.6h0M332.0 341.6h0M339.1 326.4h0M383.3 332.2h0M312.6 352.8h0M393.9 347.6h0M337.5 338.8h0M406.9 348.8h0M380.6 350.2h0M358.5 351.7h0M386.8 342.5h0M341.0 340.1h0M386.3 333.8h0M378.5 341.4h0M373.1 350.8h0M342.1 351.7h0M356.0 341.2h0M349.2 352.8h0M345.5 346.7h0M341.5 352.0h0M398.3 346.1h0M405.1 353.2h0M336.6 342.3h0M372.9 348.0h0M369.9 351.9h0M382.6 348.8h0M366.8 321.7h0M388.4 347.3h0M361.0 325.0h0M341.4 330.0h0M356.7 346.3h0M342.7 345.6h0M374.9 350.5h0M361.0 352.2h0M382.5 353.4h0M339.3 348.1h0M381.9 353.3h0M336.2 329.8h0M371.3 341.8h0M392.3 347.6h0M390.2 352.9h0M349.3 353.0h0M307.8 352.3h0M380.6 341.9h0M335.1 333.9h0M387.7 347.1h0M380.3 347.5h0M308.9 352.8h0M355.7 347.4h0M367.6 337.8h0M376.6 330.6h0M361.6 329.0h0M405.0 350.5h0M393.9 351.9h0M394.6 347.5h0M341.1 353.1h0M364.4 347.2h0M368.7 350.1h0M361.9 348.6h0M382.7 333.1h0M378.1 346.3h0M382.1 330.7h0M341.9 347.5h0M389.2 350.7h0M325.5 350.8h0M360.9 341.7h0M404.4 351.0h0M361.1 342.7h0M352.9 348.0h0M370.6 334.0h0M329.0 348.1h0M367.2 331.3h0M368.8 349.0h0M340.6 332.0h0M362.7 353.1h0M335.9 351.1h0M375.3 342.3h0M383.0 335.1h0M363.2 339.8h0M323.8 349.8h0M385.7 335.6h0M342.1 342.0h0M393.6 342.9h0M339.3 343.7h0M343.5 352.6h0M403.6 348.9h0M335.2 340.3h0M334.6 352.5h0M379.2 343.6h0M340.4 342.5h0M333.8 351.8h0M394.2 346.6h0M334.6 352.4h0M422.2 352.6h0M343.0 338.9h0M382.2 352.4h0M369.1 321.6h0M342.5 345.9h0M374.8 328.0h0M336.4 344.1h0M368.5 343.4h0M388.3 344.2h0M380.0 326.5h0M389.4 350.5h0M375.1 344.2h0M385.1 340.6h0M403.4 350.9h0M391.0 350.9h0M340.5 351.3h0M341.1 339.2h0M394.4 351.6h0M343.9 352.0h0M370.1 349.4h0M354.8 349.7h0M330.1 345.6h0M377.4 347.1h0M368.9 337.2h0M335.3 343.2h0M357.0 340.3h0M408.3 350.4h0M313.8 351.1h0M364.4 343.7h0M371.6 349.4h0M356.9 352.2h0M385.4 334.5h0M370.1 344.4h0M402.3 348.7h0M311.6 352.1h0M362.5 331.5h0M372.2 343.8h0M394.9 344.6h0M378.9 350.3h0M386.3 347.8h0M365.9 326.4h0M366.5 335.7h0M381.2 352.6h0M376.3 351.7h0M359.4 335.1h0M395.8 352.4h0M367.1 334.0h0M356.4 345.5h0M404.9 351.2h0M365.0 342.3h0M372.4 321.5h0M364.2 344.4h0M340.7 332.4h0M397.4 350.5h0M377.5 347.2h0M318.2 351.0h0M367.6 345.6h0M384.1 338.2h0M380.0 334.5h0M392.6 339.8h0M409.9 353.0h0M339.6 327.7h0M357.2 336.1h0M378.9 352.3h0M379.7 341.3h0M384.0 347.0h0M341.2 343.4h0M326.4 350.3h0M339.0 342.7h0M372.9 323.0h0M355.4 342.4h0M375.8 344.3h0M340.3 348.7h0M334.7 341.0h0M397.3 347.4h0M331.4 341.2h0M382.9 342.4h0M331.4 346.7h0M378.5 348.4h0M332.8 348.7h0M377.1 350.0h0M363.7 327.7h0M360.4 342.9h0M379.4 346.2h0M334.1 353.4h0M364.3 327.7h0M367.2 332.0h0M332.9 337.7h0M373.4 348.2h0M385.3 339.0h0M333.8 343.2h0M399.8 348.1h0M390.6 343.0h0M410.7 351.3h0M376.8 350.5h0M412.2 349.2h0M329.3 352.4h0M335.9 335.0h0M404.9 351.4h0M379.2 329.8h0M366.9 321.7h0M344.1 343.0h0M392.2 345.7h0M377.3 324.4h0M404.3 350.6h0M373.1 329.2h0M371.2 323.7h0M369.5 327.3h0M402.4 348.9h0M376.1 334.4h0M335.8 335.0h0M400.3 350.4h0M362.9 351.5h0M363.1 324.2h0M365.0 351.9h0M355.9 348.8h0M376.0 327.0h0M362.6 326.3h0M315.8 352.3h0M383.2 352.4h0M335.9 329.6h0M337.5 350.6h0M386.9 348.5h0M316.9 349.5h0M345.7 352.6h0M383.0 342.6h0M384.5 350.3h0M375.5 324.2h0M338.6 346.4h0M367.1 345.5h0M382.3 343.5h0M367.6 337.6h0M382.2 332.1h0M351.1 351.8h0M328.0 347.6h0M315.5 350.1h0M369.8 346.9h0M370.8 341.4h0M322.4 352.7h0M359.3 331.5h0M360.6 340.2h0M322.8 352.0h0M335.0 349.6h0M387.6 350.5h0M344.5 338.6h0M341.0 332.2h0M336.1 349.6h0M335.8 330.8h0M373.9 351.4h0M375.0 345.1h0M363.9 351.6h0M375.3 323.4h0M364.7 324.1h0M342.6 342.6h0M318.7 352.2h0M319.8 351.1h0M397.7 353.0h0M407.9 352.5h0M329.6 345.6h0M368.9 338.1h0M356.6 344.2h0M374.7 340.3h0M401.5 346.4h0M401.6 345.7h0M340.6 325.9h0M343.0 339.7h0M379.5 331.3h0M343.3 338.4h0M370.1 340.1h0M369.4 330.7h0M326.4 347.5h0M374.0 328.7h0M342.3 335.0h0M401.2 348.4h0M342.3 345.1h0M362.3 334.2h0M359.9 349.2h0M342.5 349.8h0M397.0 344.3h0M342.6 341.6h0M374.4 346.9h0M364.8 353.0h0M386.8 349.1h0M377.1 338.7h0M339.3 323.7h0M365.6 346.6h0M351.7 350.5h0M345.6 352.0h0M341.6 335.5h0M345.7 352.9h0M331.5 347.1h0M360.8 348.8h0M332.7 347.5h0M372.8 321.4h0M338.4 353.3h0M389.5 348.3h0M339.8 345.3h0M366.8 351.4h0M335.0 342.4h0M330.8 348.2h0M372.8 321.2h0M334.8 347.6h0M335.8 349.4h0M337.6 337.7h0M389.9 351.6h0M312.5 350.6h0M374.1 335.8h0M375.4 324.8h0M358.6 331.8h0M378.6 349.5h0M370.0 330.5h0M363.6 335.1h0M368.7 342.7h0M309.8 352.7h0M392.1 343.8h0M408.3 352.2h0M380.0 338.3h0M385.8 341.7h0M388.2 353.5h0M378.3 328.6h0M366.0 328.6h0M392.7 347.4h0M390.7 340.9h0M365.5 337.8h0M369.7 342.5h0M346.3 348.7h0M388.5 352.4h0M319.7 350.4h0M369.1 339.9h0M366.0 345.1h0M374.6 338.3h0M365.6 324.1h0M368.1 341.7h0M373.8 328.1h0M335.3 350.6h0M337.7 343.6h0M347.8 348.2h0M387.0 343.4h0M369.3 320.2h0M339.7 325.5h0M383.1 346.2h0M377.3 327.3h0M370.0 329.5h0M400.1 352.9h0M372.3 344.8h0M377.3 333.6h0M368.6 329.5h0M341.2 330.9h0M363.6 348.6h0M366.0 346.5h0M391.5 351.2h0M346.7 351.2h0M407.1 347.9h0M336.1 348.0h0M368.2 344.7h0M354.7 349.1h0M398.2 351.0h0M334.5 350.1h0M342.4 350.8h0M358.6 345.3h0M378.2 344.3h0M364.6 337.9h0M390.9 353.0h0M371.0 347.8h0M332.8 350.9h0M396.6 352.4h0M379.4 329.5h0M372.5 347.1h0M337.3 350.6h0M372.0 337.2h0M390.4 341.0h0M339.5 348.9h0M417.3 353.2h0M341.7 345.4h0M367.1 323.3h0M353.9 346.9h0M339.3 338.9h0M395.3 346.2h0M368.5 329.8h0M403.9 353.4h0M328.5 346.8h0M387.6 343.4h0M404.6 347.0h0M389.3 337.0h0M363.5 331.3h0M382.7 347.6h0M370.9 337.5h0M363.6 330.7h0M343.2 347.6h0M312.4 352.5h0M331.6 347.8h0M385.2 347.2h0M363.0 350.8h0M363.9 322.9h0M351.3 352.6h0M368.9 330.1h0M378.6 346.8h0M377.3 334.6h0M402.8 350.0h0M333.9 342.4h0M365.5 343.5h0M358.2 352.9h0M343.3 338.6h0M379.6 328.9h0M358.4 343.8h0M365.6 347.6h0M385.6 352.2h0M377.6 342.6h0M333.0 353.0h0M339.6 326.9h0M333.4 344.3h0M338.0 340.8h0M368.8 342.1h0M338.1 344.9h0M406.9 349.9h0M366.9 334.3h0M337.2 351.9h0M357.4 353.0h0M389.2 348.6h0M375.8 350.8h0M372.2 342.7h0M365.3 328.0h0M316.0 349.8h0M359.2 328.1h0M375.4 337.6h0M341.6 336.6h0M339.3 349.1h0M341.0 343.2h0M323.3 348.6h0M333.6 352.3h0M397.3 352.0h0M357.7 346.1h0M338.7 351.4h0M383.6 350.0h0M367.2 330.9h0M360.2 346.9h0M371.4 334.7h0M298.5 347.4h0M428.0 342.9h0M357.0 318.3h0M405.8 340.4h0M374.6 300.3h0M362.8 301.3h0M340.7 316.7h0M406.1 344.5h0M375.5 297.2h0M363.2 297.9h0M315.3 348.0h0M416.2 336.9h0M382.4 309.5h0M387.2 332.5h0M374.9 314.7h0M394.9 328.4h0M384.5 315.1h0M342.5 323.7h0M356.3 335.7h0M367.5 297.8h0M338.3 309.2h0M365.7 299.6h0M365.1 304.2h0M395.9 341.4h0M358.9 315.2h0M345.5 332.2h0M360.2 307.7h0M404.4 346.2h0M421.9 346.3h0M355.6 336.9h0M393.8 321.3h0M430.9 340.0h0M400.1 341.2h0M355.5 331.6h0M358.4 309.4h0M364.1 311.6h0M411.1 346.7h0M365.4 307.1h0M357.3 321.1h0M429.5 348.5h0M397.2 331.6h0M384.5 310.5h0M369.9 297.1h0M347.1 341.1h0M401.6 340.7h0M405.7 338.6h0M349.8 344.5h0M353.3 340.3h0M365.5 315.3h0M416.7 341.7h0M343.0 326.7h0M394.9 339.5h0M426.5 341.1h0M337.8 325.5h0M401.6 329.2h0M363.9 304.8h0M390.3 328.8h0M402.7 336.2h0M378.6 317.2h0M380.3 312.2h0M398.6 334.9h0M376.4 296.1h0M420.3 345.3h0M372.7 294.1h0M426.8 345.9h0M374.5 306.0h0M372.9 303.0h0M387.6 314.6h0M359.5 305.1h0M394.8 337.0h0M366.8 298.7h0M405.9 335.1h0M383.9 312.7h0M407.4 346.6h0M392.8 327.0h0M428.1 343.9h0M343.5 331.8h0M426.3 348.0h0M347.2 342.4h0M310.1 344.5h0M420.6 338.5h0M406.2 334.6h0M338.1 314.0h0M360.1 317.8h0M368.3 307.2h0M381.2 304.9h0M423.0 344.2h0M406.3 345.8h0M364.0 303.6h0M376.8 293.6h0M405.8 345.8h0M370.7 294.2h0M303.8 345.5h0M410.5 346.5h0M360.9 311.7h0M361.6 303.7h0M411.7 344.3h0M370.7 315.6h0M368.3 294.9h0M394.2 330.8h0M384.1 311.6h0M404.5 332.6h0M427.7 350.5h0M378.4 319.2h0M422.2 350.5h0M360.6 301.3h0M372.4 298.7h0M430.1 340.6h0M400.8 341.0h0M323.2 344.5h0M407.6 334.8h0M416.8 341.2h0M390.8 334.1h0M337.0 312.7h0M372.3 305.4h0M346.8 335.3h0M378.3 299.7h0M379.7 322.8h0M429.5 339.1h0M377.3 307.2h0M358.9 307.6h0M393.1 328.2h0M374.1 297.9h0M345.0 338.6h0M404.8 331.7h0M373.1 313.2h0M309.5 349.1h0M411.2 334.7h0M303.7 349.6h0M387.6 317.7h0M413.7 340.7h0M401.2 329.7h0M416.5 340.1h0M363.3 319.6h0M402.6 341.7h0M412.3 340.0h0M393.7 331.4h0M426.1 346.1h0M372.4 312.9h0M373.5 318.0h0M321.4 345.4h0M361.1 311.7h0M375.1 295.9h0M386.5 332.9h0M429.5 346.3h0M386.3 321.0h0M363.5 321.7h0M413.9 344.6h0M401.1 339.0h0M372.9 294.3h0M364.3 316.0h0M299.9 351.7h0M367.8 307.0h0M403.1 333.9h0M418.3 341.3h0M426.3 344.0h0M340.6 322.5h0M380.5 317.1h0M370.3 296.4h0M399.4 341.9h0M323.8 345.5h0M371.2 313.5h0M374.0 310.7h0M409.5 333.4h0M388.7 319.6h0M405.2 337.8h0M406.1 336.5h0M417.3 342.4h0M424.5 343.2h0M400.7 340.3h0M383.0 317.8h0M371.3 300.2h0M370.5 297.4h0M385.2 320.8h0M369.0 305.6h0M341.1 325.5h0M396.2 325.9h0M417.0 337.2h0M374.5 308.5h0M357.4 331.0h0M362.5 313.3h0M379.2 311.4h0M413.8 348.2h0M384.4 319.1h0M383.8 312.0h0M403.3 333.3h0M395.9 332.7h0M358.1 326.0h0M382.3 314.6h0M425.2 350.6h0M351.6 343.6h0M379.9 323.3h0M431.1 342.3h0M375.6 297.7h0M380.0 315.9h0M362.3 299.6h0M415.2 342.7h0M361.9 318.5h0M369.6 297.9h0M393.2 337.2h0M388.0 318.9h0M346.6 337.5h0M347.0 344.3h0M360.8 295.4h0M390.0 321.6h0M393.3 323.7h0M384.7 316.5h0M342.1 322.9h0M384.0 306.8h0M375.0 293.2h0M375.9 305.0h0M360.8 312.4h0M307.0 347.5h0M408.1 333.7h0M396.7 333.2h0M355.1 330.6h0M396.1 323.7h0M380.9 300.1h0M320.7 345.6h0M423.1 339.9h0M310.3 347.7h0M399.6 326.7h0M395.4 324.1h0M395.3 337.0h0M401.8 335.7h0M346.1 338.7h0M383.3 305.7h0M377.2 314.7h0M389.5 330.5h0M368.7 301.9h0M388.0 316.5h0M390.3 329.2h0M403.5 344.3h0M369.3 295.2h0M407.1 336.6h0M382.1 320.9h0M383.9 318.3h0M382.8 313.5h0M365.3 314.2h0M383.7 315.1h0M362.0 321.6h0M386.7 330.6h0M430.4 344.5h0M430.9 346.6h0M363.4 309.4h0M382.2 304.2h0M412.7 340.2h0M339.8 322.1h0M380.4 300.3h0M342.7 327.7h0M350.1 344.7h0M367.8 306.0h0M371.8 300.4h0M371.9 296.3h0M390.0 315.8h0M359.3 324.4h0M383.1 311.3h0M378.0 305.2h0M337.1 321.2h0M355.9 336.8h0" stroke="#a6a6a6" stroke-width="1.7" stroke-linecap="round" fill="none" opacity="1"/>
<path d="M377.7 237.8h0M386.4 237.8h0M394.8 256.8h0M374.2 263.4h0M369.0 275.8h0M375.4 277.2h0M392.2 272.4h0M386.0 279.1h0M404.9 280.5h0M381.9 285.7h0M371.2 289.0h0M375.4 289.0h0M342.3 267.2h0M341.3 280.0h0M342.3 294.7h0M338.3 303.7h0M419.1 292.8h0M423.1 306.1h0M413.0 313.7h0M402.9 322.7h0M417.1 328.9h0M429.2 329.8h0M299.9 334.1h0M314.0 338.3h0M308.0 342.6h0M326.2 330.7h0M332.2 322.7h0M407.0 334.1h0M421.1 341.6h0" stroke="#a6a6a6" stroke-width="2.0" stroke-linecap="round" fill="none" opacity="1"/>
<path d="M369.7 339.8h0M366.8 322.9h0M364.3 320.4h0M379.3 312.9h0M383.3 329.7h0M364.8 330.0h0M365.7 346.8h0M372.9 309.5h0M368.3 343.1h0M362.6 318.7h0M362.6 327.0h0M383.9 335.0h0M363.9 325.4h0M374.7 319.1h0M386.3 342.5h0M368.6 323.5h0M380.5 330.0h0M362.8 321.3h0M375.8 315.2h0M366.5 314.3h0M379.3 331.5h0M372.4 334.2h0M380.9 344.6h0M367.8 325.1h0M374.5 329.7h0M371.6 337.5h0M363.0 339.6h0M380.2 329.6h0M364.4 333.0h0M363.8 346.7h0M364.2 339.2h0M374.6 312.3h0M376.1 346.1h0M383.3 325.1h0M382.9 320.4h0M375.1 343.1h0M377.0 337.2h0M372.5 311.9h0M379.1 340.1h0M366.8 318.5h0M371.3 332.1h0M375.4 330.0h0M371.5 318.5h0M363.0 332.8h0M364.8 338.9h0M371.6 335.7h0M380.2 328.2h0M376.4 334.9h0M374.2 324.2h0M378.7 335.3h0M377.8 332.6h0M380.6 338.4h0M369.8 343.9h0M366.1 346.4h0M362.5 345.4h0M371.5 343.1h0M374.4 337.7h0M379.9 318.5h0M367.4 343.3h0M367.9 337.3h0M386.0 343.1h0M366.7 328.6h0M378.4 338.6h0M374.7 305.6h0M361.5 341.7h0M384.5 322.8h0M366.8 340.7h0M371.2 346.6h0M381.9 334.7h0M377.2 344.2h0M369.6 341.1h0M378.1 346.2h0M386.3 334.7h0M379.5 340.9h0M379.5 344.5h0M365.0 344.6h0M375.2 343.3h0M374.7 334.1h0M379.5 344.9h0M363.5 337.2h0M363.8 327.8h0M374.2 343.0h0M376.8 328.9h0M372.3 320.0h0M369.4 338.8h0M367.7 331.9h0M376.0 339.9h0M379.5 340.6h0M372.4 334.2h0M372.0 339.4h0M374.9 319.2h0M369.8 332.4h0M377.1 328.8h0M376.3 342.8h0M369.8 346.0h0M370.6 333.1h0M363.1 342.1h0M374.5 339.7h0M374.2 338.7h0M366.9 346.0h0M373.7 341.5h0M376.6 311.9h0M386.7 337.4h0M366.0 317.0h0M370.3 328.7h0M367.8 343.8h0M368.6 333.6h0M374.4 343.3h0M368.0 337.3h0M381.0 336.2h0M370.5 333.5h0M373.4 333.4h0M366.8 345.2h0M375.4 325.8h0M377.8 318.7h0M381.7 346.7h0M370.7 333.7h0M384.0 327.4h0M381.0 337.3h0M370.0 333.4h0M373.1 332.5h0M369.9 334.4h0M370.4 325.8h0M392.2 342.3h0M374.5 322.3h0M364.6 339.5h0M391.8 337.0h0M366.1 338.5h0M374.9 335.8h0M373.7 342.9h0M370.6 334.7h0M363.5 308.5h0M362.2 317.9h0M365.4 336.3h0M375.1 344.1h0M365.0 308.1h0M374.2 336.8h0M372.6 337.9h0M385.0 344.2h0M375.5 338.9h0M375.4 327.2h0M372.8 345.6h0M369.1 324.5h0M373.8 337.5h0M389.0 332.3h0M362.9 321.7h0M377.9 308.0h0M371.0 331.9h0M369.8 343.7h0M383.2 342.0h0M370.0 337.3h0M368.3 321.6h0M362.7 335.5h0M378.1 337.2h0M375.3 339.0h0M381.0 335.4h0M363.3 337.8h0M366.7 338.9h0M377.7 341.8h0M364.5 331.5h0M371.5 318.1h0M368.0 330.8h0M375.2 338.8h0M363.7 307.7h0M361.8 336.3h0M365.5 266.3h0M381.9 271.0h0M380.7 273.9h0M388.8 269.1h0M414.0 340.7h0M396.9 333.6h0M374.6 300.4h0M388.8 308.5h0M379.7 303.3h0" stroke="#9a1a1e" stroke-width="2.7" stroke-linecap="round" fill="none" opacity="1"/>
<path d="M369.7 339.8h0M366.8 322.9h0M364.3 320.4h0M379.3 312.9h0M383.3 329.7h0M364.8 330.0h0M365.7 346.8h0M372.9 309.5h0M368.3 343.1h0M362.6 318.7h0M362.6 327.0h0M383.9 335.0h0M363.9 325.4h0M374.7 319.1h0M386.3 342.5h0M368.6 323.5h0M380.5 330.0h0M362.8 321.3h0M375.8 315.2h0M366.5 314.3h0M379.3 331.5h0M372.4 334.2h0M380.9 344.6h0M367.8 325.1h0M374.5 329.7h0M371.6 337.5h0M363.0 339.6h0M380.2 329.6h0M364.4 333.0h0M363.8 346.7h0M364.2 339.2h0M374.6 312.3h0M376.1 346.1h0M383.3 325.1h0M382.9 320.4h0M375.1 343.1h0M377.0 337.2h0M372.5 311.9h0M379.1 340.1h0M366.8 318.5h0M371.3 332.1h0M375.4 330.0h0M371.5 318.5h0M363.0 332.8h0M364.8 338.9h0M371.6 335.7h0M380.2 328.2h0M376.4 334.9h0M374.2 324.2h0M378.7 335.3h0M377.8 332.6h0M380.6 338.4h0M369.8 343.9h0M366.1 346.4h0M362.5 345.4h0M371.5 343.1h0M374.4 337.7h0M379.9 318.5h0M367.4 343.3h0M367.9 337.3h0M386.0 343.1h0M366.7 328.6h0M378.4 338.6h0M374.7 305.6h0M361.5 341.7h0M384.5 322.8h0M366.8 340.7h0M371.2 346.6h0M381.9 334.7h0M377.2 344.2h0M369.6 341.1h0M378.1 346.2h0M386.3 334.7h0M379.5 340.9h0M379.5 344.5h0M365.0 344.6h0M375.2 343.3h0M374.7 334.1h0M379.5 344.9h0M363.5 337.2h0M363.8 327.8h0M374.2 343.0h0M376.8 328.9h0M372.3 320.0h0M369.4 338.8h0M367.7 331.9h0M376.0 339.9h0M379.5 340.6h0M372.4 334.2h0M372.0 339.4h0M374.9 319.2h0M369.8 332.4h0M377.1 328.8h0M376.3 342.8h0M369.8 346.0h0M370.6 333.1h0M363.1 342.1h0M374.5 339.7h0M374.2 338.7h0M366.9 346.0h0M373.7 341.5h0M376.6 311.9h0M386.7 337.4h0M366.0 317.0h0M370.3 328.7h0M367.8 343.8h0M368.6 333.6h0M374.4 343.3h0M368.0 337.3h0M381.0 336.2h0M370.5 333.5h0M373.4 333.4h0M366.8 345.2h0M375.4 325.8h0M377.8 318.7h0M381.7 346.7h0M370.7 333.7h0M384.0 327.4h0M381.0 337.3h0M370.0 333.4h0M373.1 332.5h0M369.9 334.4h0M370.4 325.8h0M392.2 342.3h0M374.5 322.3h0M364.6 339.5h0M391.8 337.0h0M366.1 338.5h0M374.9 335.8h0M373.7 342.9h0M370.6 334.7h0M363.5 308.5h0M362.2 317.9h0M365.4 336.3h0M375.1 344.1h0M365.0 308.1h0M374.2 336.8h0M372.6 337.9h0M385.0 344.2h0M375.5 338.9h0M375.4 327.2h0M372.8 345.6h0M369.1 324.5h0M373.8 337.5h0M389.0 332.3h0M362.9 321.7h0M377.9 308.0h0M371.0 331.9h0M369.8 343.7h0M383.2 342.0h0M370.0 337.3h0M368.3 321.6h0M362.7 335.5h0M378.1 337.2h0M375.3 339.0h0M381.0 335.4h0M363.3 337.8h0M366.7 338.9h0M377.7 341.8h0M364.5 331.5h0M371.5 318.1h0M368.0 330.8h0M375.2 338.8h0M363.7 307.7h0M361.8 336.3h0M365.5 266.3h0M381.9 271.0h0M380.7 273.9h0M388.8 269.1h0M414.0 340.7h0M396.9 333.6h0M374.6 300.4h0M388.8 308.5h0M379.7 303.3h0" stroke="#d42a2a" stroke-width="2.0" stroke-linecap="round" fill="none" opacity="1"/>
<path d="M336.3 265.8h0M326.2 306.1h0M334.2 316.5h0M332.2 325.1h0M337.3 329.8h0M338.3 338.3h0M337.9 341.6h0M338.7 345.0h0M336.3 343.1h0M339.3 333.6h0M335.2 335.5h0M330.2 332.6h0M338.3 322.2h0" stroke="#1a2466" stroke-width="3.0" stroke-linecap="round" fill="none" opacity="1"/>
<path d="M336.3 265.8h0M326.2 306.1h0M334.2 316.5h0M332.2 325.1h0M337.3 329.8h0M338.3 338.3h0M337.9 341.6h0M338.7 345.0h0M336.3 343.1h0M339.3 333.6h0M335.2 335.5h0M330.2 332.6h0M338.3 322.2h0" stroke="#3444a0" stroke-width="2.2" stroke-linecap="round" fill="none" opacity="1"/>
</g>
<line x1="340.30" y1="230.80" x2="340.30" y2="357.80" stroke="#b04050" stroke-width="0.8"/>
<line x1="360.50" y1="230.80" x2="360.50" y2="357.80" stroke="#b04050" stroke-width="0.8"/>
<line x1="350.40" y1="230.80" x2="350.40" y2="357.80" stroke="#333" stroke-width="0.9"/>
<line x1="293.60" y1="347.34" x2="435.40" y2="347.34" stroke="#b04050" stroke-width="0.8"/>
<rect x="293.60" y="230.80" width="141.80" height="127.00" fill="none" stroke="#444" stroke-width="0.9"/>
<line x1="289.60" y1="353.50" x2="293.60" y2="353.50" stroke="#444" stroke-width="0.8"/>
<text x="287.00" y="356.10" font-size="7.4" text-anchor="end" fill="#151515" stroke="#151515" stroke-width="0.2">0</text>
<line x1="289.60" y1="329.80" x2="293.60" y2="329.80" stroke="#444" stroke-width="0.8"/>
<text x="287.00" y="332.40" font-size="7.4" text-anchor="end" fill="#151515" stroke="#151515" stroke-width="0.2">5</text>
<line x1="289.60" y1="306.10" x2="293.60" y2="306.10" stroke="#444" stroke-width="0.8"/>
<text x="287.00" y="308.70" font-size="7.4" text-anchor="end" fill="#151515" stroke="#151515" stroke-width="0.2">10</text>
<line x1="289.60" y1="282.40" x2="293.60" y2="282.40" stroke="#444" stroke-width="0.8"/>
<text x="287.00" y="285.00" font-size="7.4" text-anchor="end" fill="#151515" stroke="#151515" stroke-width="0.2">15</text>
<line x1="289.60" y1="258.70" x2="293.60" y2="258.70" stroke="#444" stroke-width="0.8"/>
<text x="287.00" y="261.30" font-size="7.4" text-anchor="end" fill="#151515" stroke="#151515" stroke-width="0.2">20</text>
<line x1="289.60" y1="235.00" x2="293.60" y2="235.00" stroke="#444" stroke-width="0.8"/>
<text x="287.00" y="237.60" font-size="7.4" text-anchor="end" fill="#151515" stroke="#151515" stroke-width="0.2">25</text>
<line x1="310.00" y1="357.80" x2="310.00" y2="360.30" stroke="#444" stroke-width="0.8"/>
<text x="310.00" y="370.60" font-size="7.4" text-anchor="middle" fill="#151515" stroke="#151515" stroke-width="0.2">-2</text>
<line x1="330.20" y1="357.80" x2="330.20" y2="360.30" stroke="#444" stroke-width="0.8"/>
<text x="330.20" y="370.60" font-size="7.4" text-anchor="middle" fill="#151515" stroke="#151515" stroke-width="0.2">-1</text>
<line x1="350.40" y1="357.80" x2="350.40" y2="360.30" stroke="#444" stroke-width="0.8"/>
<text x="350.40" y="370.60" font-size="7.4" text-anchor="middle" fill="#151515" stroke="#151515" stroke-width="0.2">0</text>
<line x1="370.60" y1="357.80" x2="370.60" y2="360.30" stroke="#444" stroke-width="0.8"/>
<text x="370.60" y="370.60" font-size="7.4" text-anchor="middle" fill="#151515" stroke="#151515" stroke-width="0.2">1</text>
<line x1="390.80" y1="357.80" x2="390.80" y2="360.30" stroke="#444" stroke-width="0.8"/>
<text x="390.80" y="370.60" font-size="7.4" text-anchor="middle" fill="#151515" stroke="#151515" stroke-width="0.2">2</text>
<line x1="411.00" y1="357.80" x2="411.00" y2="360.30" stroke="#444" stroke-width="0.8"/>
<text x="411.00" y="370.60" font-size="7.4" text-anchor="middle" fill="#151515" stroke="#151515" stroke-width="0.2">3</text>
<line x1="431.20" y1="357.80" x2="431.20" y2="360.30" stroke="#444" stroke-width="0.8"/>
<text x="431.20" y="370.60" font-size="7.4" text-anchor="middle" fill="#151515" stroke="#151515" stroke-width="0.2">4</text>
<text x="357.60" y="381.40" font-size="9.6" text-anchor="middle" fill="#000" stroke="#000" stroke-width="0.2">Log<tspan font-size="6.6" dy="2.4">2</tspan><tspan dy="-2.4">(FC)</tspan></text>
<text x="271.60" y="292.40" font-size="9.6" text-anchor="middle" fill="#000" stroke="#000" stroke-width="0.2" transform="rotate(-90 271.6 292.4)">-Log<tspan font-size="6.8" dy="2.6">10</tspan><tspan dy="-2.6"> (</tspan><tspan font-style="italic">P</tspan><tspan font-size="6.6" dy="2.6">adj</tspan><tspan dy="-2.6">)</tspan></text>
<text x="440.20" y="235.20" font-size="5.9" text-anchor="start" fill="#000" stroke="#000" stroke-width="0.2" style="letter-spacing:-0.15px">LIPID METABOLIC PROCESS</text>
<text x="449.40" y="244.60" font-size="6.6" text-anchor="start" fill="#151515" stroke="#151515" stroke-width="0.2"><tspan fill="#3a56a8" stroke="#3a56a8">Downregulated</tspan> genes</text>
<text x="449.40" y="254.40" font-size="6.6" text-anchor="start" fill="#151515" stroke="#151515" stroke-width="0.2"><tspan fill="#d0262e" stroke="#d0262e">Upregulated</tspan> genes</text>
<text x="0.40" y="399.80" font-size="15.8" text-anchor="start" font-weight="bold" fill="#000">E</text>
<rect x="22.30" y="407.80" width="121.40" height="125.20" fill="#f3f3f3" stroke="none" stroke-width="1"/>
<text x="83.80" y="412.40" font-size="4.9" text-anchor="middle" font-weight="bold" fill="#000">Enrichment plot:</text>
<text x="83.90" y="417.50" font-size="4.45" text-anchor="middle" font-weight="bold" fill="#000">HALLMARK_CHOLESTEROL_HOMEOSTASIS</text>
<rect x="36.30" y="419.60" width="103.30" height="45.40" fill="#ffffff" stroke="#bbbbbb" stroke-width="0.4"/>
<rect x="36.30" y="465.00" width="103.30" height="16.00" fill="#ffffff" stroke="#bbbbbb" stroke-width="0.4"/>
<rect x="36.30" y="486.00" width="103.30" height="30.60" fill="#ffffff" stroke="#bbbbbb" stroke-width="0.4"/>
<text x="35.10" y="426.40" font-size="2.8" text-anchor="end" fill="#444">0.6</text>
<line x1="35.50" y1="425.40" x2="36.30" y2="425.40" stroke="#777" stroke-width="0.3"/>
<text x="35.10" y="434.80" font-size="2.8" text-anchor="end" fill="#444">0.5</text>
<line x1="35.50" y1="433.80" x2="36.30" y2="433.80" stroke="#777" stroke-width="0.3"/>
<text x="35.10" y="443.20" font-size="2.8" text-anchor="end" fill="#444">0.4</text>
<line x1="35.50" y1="442.20" x2="36.30" y2="442.20" stroke="#777" stroke-width="0.3"/>
<text x="35.10" y="451.60" font-size="2.8" text-anchor="end" fill="#444">0.3</text>
<line x1="35.50" y1="450.60" x2="36.30" y2="450.60" stroke="#777" stroke-width="0.3"/>
<text x="35.10" y="460.00" font-size="2.8" text-anchor="end" fill="#444">0.2</text>
<line x1="35.50" y1="459.00" x2="36.30" y2="459.00" stroke="#777" stroke-width="0.3"/>
<text x="27.00" y="442.00" font-size="3.1" text-anchor="middle" fill="#151515" transform="rotate(-90 26.999999999999996 442.0)">Enrichment score (ES)</text>
<text x="27.00" y="501.00" font-size="3.1" text-anchor="middle" fill="#151515" transform="rotate(-90 26.999999999999996 501.0)">Ranked list metric (PreRanked)</text>
<path d="M35.6 449.3 L37.3 446.9 L39.2 450.5 L41.2 446.2 L42.8 433.7 L44.0 431.2 L46.4 434.9 L48.8 431.2 L50.8 425.2 L53.7 428.4 L56.5 424.0 L58.5 422.4 L61.3 424.0 L63.3 423.3 L66.2 426.4 L69.3 423.6 L71.7 426.4 L74.8 422.8 L77.7 425.2 L80.6 426.9 L82.5 426.0 L86.1 428.8 L89.7 431.2 L92.1 430.5 L96.9 433.7 L100.5 435.7 L104.1 438.5 L107.7 440.6 L111.3 443.3 L115.0 445.8 L118.6 449.3 L122.0 451.3 L125.8 454.1 L129.5 456.2 L133.0 458.9 L137.8 463.0 L139.0 460.5" fill="none" stroke="#6cbb50" stroke-width="1.0" stroke-linejoin="round"/>
<line x1="36.30" y1="463.60" x2="139.60" y2="463.60" stroke="#aaa" stroke-width="0.3"/>
<text x="36.90" y="458.00" font-size="6.6" text-anchor="start" fill="#000" stroke="#000" stroke-width="0.2">NES: 2.2</text>
<text x="36.90" y="464.30" font-size="6.6" text-anchor="start" fill="#000" stroke="#000" stroke-width="0.2">FDR <tspan font-style="italic">q</tspan> value: 0.003</text>
<line x1="38.75" y1="465.40" x2="38.75" y2="480.60" stroke="#333" stroke-width="0.75"/>
<line x1="42.10" y1="465.40" x2="42.10" y2="480.60" stroke="#777" stroke-width="0.75"/>
<line x1="44.00" y1="465.40" x2="44.00" y2="480.60" stroke="#555" stroke-width="0.75"/>
<line x1="48.40" y1="465.40" x2="48.40" y2="480.60" stroke="#999" stroke-width="0.75"/>
<line x1="51.25" y1="465.40" x2="51.25" y2="480.60" stroke="#333" stroke-width="0.75"/>
<line x1="53.65" y1="465.40" x2="53.65" y2="480.60" stroke="#777" stroke-width="0.75"/>
<line x1="57.25" y1="465.40" x2="57.25" y2="480.60" stroke="#555" stroke-width="0.75"/>
<line x1="60.90" y1="465.40" x2="60.90" y2="480.60" stroke="#999" stroke-width="0.75"/>
<line x1="63.30" y1="465.40" x2="63.30" y2="480.60" stroke="#333" stroke-width="0.75"/>
<line x1="66.90" y1="465.40" x2="66.90" y2="480.60" stroke="#777" stroke-width="0.75"/>
<line x1="69.30" y1="465.40" x2="69.30" y2="480.60" stroke="#555" stroke-width="0.75"/>
<line x1="71.70" y1="465.40" x2="71.70" y2="480.60" stroke="#999" stroke-width="0.75"/>
<line x1="74.10" y1="465.40" x2="74.10" y2="480.60" stroke="#333" stroke-width="0.75"/>
<line x1="80.10" y1="465.40" x2="80.10" y2="480.60" stroke="#777" stroke-width="0.75"/>
<line x1="83.70" y1="465.40" x2="83.70" y2="480.60" stroke="#555" stroke-width="0.75"/>
<line x1="92.10" y1="465.40" x2="92.10" y2="480.60" stroke="#999" stroke-width="0.75"/>
<line x1="102.90" y1="465.40" x2="102.90" y2="480.60" stroke="#333" stroke-width="0.75"/>
<line x1="118.60" y1="465.40" x2="118.60" y2="480.60" stroke="#777" stroke-width="0.75"/>
<line x1="127.00" y1="465.40" x2="127.00" y2="480.60" stroke="#555" stroke-width="0.75"/>
<line x1="137.50" y1="465.40" x2="137.50" y2="480.60" stroke="#999" stroke-width="0.75"/>
<line x1="46.00" y1="465.40" x2="46.00" y2="480.60" stroke="#c4c4c4" stroke-width="0.75"/>
<line x1="55.00" y1="465.40" x2="55.00" y2="480.60" stroke="#c4c4c4" stroke-width="0.75"/>
<line x1="62.00" y1="465.40" x2="62.00" y2="480.60" stroke="#c4c4c4" stroke-width="0.75"/>
<line x1="77.00" y1="465.40" x2="77.00" y2="480.60" stroke="#c4c4c4" stroke-width="0.75"/>
<line x1="88.00" y1="465.40" x2="88.00" y2="480.60" stroke="#c4c4c4" stroke-width="0.75"/>
<line x1="97.00" y1="465.40" x2="97.00" y2="480.60" stroke="#c4c4c4" stroke-width="0.75"/>
<line x1="110.00" y1="465.40" x2="110.00" y2="480.60" stroke="#c4c4c4" stroke-width="0.75"/>
<line x1="123.00" y1="465.40" x2="123.00" y2="480.60" stroke="#c4c4c4" stroke-width="0.75"/>
<rect x="36.30" y="481.00" width="103.30" height="3.60" fill="url(#cb1)" stroke="none" stroke-width="1"/>
<text x="37.30" y="487.30" font-size="2.4" text-anchor="start" fill="#d03030">'na_pos' (positively correlated)</text>
<path d="M36.3 501.3 L36.3 495.7 L38.1 495.9 L39.8 496.1 L41.6 496.3 L43.3 496.4 L45.1 496.6 L46.8 496.8 L48.6 497.0 L50.3 497.2 L52.1 497.3 L53.8 497.5 L55.6 497.7 L57.3 497.9 L59.1 498.1 L60.8 498.3 L62.6 498.4 L64.3 498.6 L66.1 498.8 L67.8 499.0 L69.6 499.1 L71.3 499.3 L73.1 499.5 L74.8 499.7 L76.6 499.8 L78.3 500.0 L80.1 500.2 L81.8 500.4 L83.6 500.5 L85.3 500.7 L87.1 500.9 L88.8 501.0 L90.6 501.2 L92.3 502.9 L94.1 503.0 L95.8 503.1 L97.6 503.2 L99.3 503.4 L101.1 503.5 L102.8 503.6 L104.6 503.7 L106.3 503.8 L108.1 503.9 L109.8 504.0 L111.6 504.1 L113.3 504.2 L115.1 504.4 L116.8 504.5 L118.6 504.6 L120.3 504.8 L122.1 504.9 L123.8 505.1 L125.6 505.3 L127.3 505.6 L129.1 505.9 L130.8 506.3 L132.6 506.9 L134.3 507.5 L136.1 508.4 L137.8 509.5 L139.6 510.9 L139.6 501.3 Z" fill="#c9c9c9" stroke="none"/>
<line x1="36.30" y1="501.30" x2="139.60" y2="501.30" stroke="#999" stroke-width="0.3"/>
<text x="93.12" y="500.80" font-size="2.4" text-anchor="middle" fill="#666">Zero cross at 3051</text>
<text x="41.60" y="494.90" font-size="6.6" text-anchor="start" font-weight="bold" fill="#000">Lactate</text>
<text x="91.80" y="511.70" font-size="6.6" text-anchor="start" font-weight="bold" fill="#000">Untreated</text>
<text x="93.30" y="514.30" font-size="2.4" text-anchor="start" fill="#3040a0">'na_neg' (negatively correlated)</text>
<text x="35.10" y="491.60" font-size="2.8" text-anchor="end" fill="#444">20</text>
<text x="35.10" y="496.60" font-size="2.8" text-anchor="end" fill="#444">10</text>
<text x="35.10" y="501.60" font-size="2.8" text-anchor="end" fill="#444">0</text>
<text x="35.10" y="506.60" font-size="2.8" text-anchor="end" fill="#444">-10</text>
<text x="35.10" y="511.60" font-size="2.8" text-anchor="end" fill="#444">-20</text>
<text x="36.30" y="519.20" font-size="2.6" text-anchor="middle" fill="#444">0</text>
<text x="44.70" y="519.20" font-size="2.6" text-anchor="middle" fill="#444">500</text>
<text x="53.10" y="519.20" font-size="2.6" text-anchor="middle" fill="#444">1,000</text>
<text x="61.50" y="519.20" font-size="2.6" text-anchor="middle" fill="#444">1,500</text>
<text x="69.89" y="519.20" font-size="2.6" text-anchor="middle" fill="#444">2,000</text>
<text x="78.29" y="519.20" font-size="2.6" text-anchor="middle" fill="#444">2,500</text>
<text x="86.69" y="519.20" font-size="2.6" text-anchor="middle" fill="#444">3,000</text>
<text x="95.09" y="519.20" font-size="2.6" text-anchor="middle" fill="#444">3,500</text>
<text x="103.49" y="519.20" font-size="2.6" text-anchor="middle" fill="#444">4,000</text>
<text x="111.89" y="519.20" font-size="2.6" text-anchor="middle" fill="#444">4,500</text>
<text x="120.28" y="519.20" font-size="2.6" text-anchor="middle" fill="#444">5,000</text>
<text x="128.68" y="519.20" font-size="2.6" text-anchor="middle" fill="#444">5,500</text>
<text x="137.08" y="519.20" font-size="2.6" text-anchor="middle" fill="#444">6,000</text>
<text x="84.85" y="523.00" font-size="2.8" text-anchor="middle" fill="#151515">Rank in Ordered Dataset</text>
<rect x="40.50" y="527.40" width="87.40" height="4.60" fill="#ffffff" stroke="#888" stroke-width="0.4"/>
<text x="42.80" y="530.60" font-size="2.8" text-anchor="start" fill="#444" style="white-space:pre">— Enrichment profile   — Hits   — Ranking metric scores</text>
<rect x="182.30" y="407.80" width="121.40" height="125.20" fill="#f3f3f3" stroke="none" stroke-width="1"/>
<text x="243.80" y="412.40" font-size="4.9" text-anchor="middle" font-weight="bold" fill="#000">Enrichment plot:</text>
<text x="243.90" y="417.50" font-size="4.45" text-anchor="middle" font-weight="bold" fill="#000">HALLMARK_EPITHELIAL_MESENCHYMAL_TRANSITION</text>
<rect x="196.30" y="419.60" width="103.30" height="45.40" fill="#ffffff" stroke="#bbbbbb" stroke-width="0.4"/>
<rect x="196.30" y="465.00" width="103.30" height="16.00" fill="#ffffff" stroke="#bbbbbb" stroke-width="0.4"/>
<rect x="196.30" y="486.00" width="103.30" height="30.60" fill="#ffffff" stroke="#bbbbbb" stroke-width="0.4"/>
<text x="195.10" y="422.50" font-size="2.8" text-anchor="end" fill="#444">0.45</text>
<line x1="195.50" y1="421.50" x2="196.30" y2="421.50" stroke="#777" stroke-width="0.3"/>
<text x="195.10" y="426.80" font-size="2.8" text-anchor="end" fill="#444">0.40</text>
<line x1="195.50" y1="425.80" x2="196.30" y2="425.80" stroke="#777" stroke-width="0.3"/>
<text x="195.10" y="431.10" font-size="2.8" text-anchor="end" fill="#444">0.35</text>
<line x1="195.50" y1="430.10" x2="196.30" y2="430.10" stroke="#777" stroke-width="0.3"/>
<text x="195.10" y="435.40" font-size="2.8" text-anchor="end" fill="#444">0.30</text>
<line x1="195.50" y1="434.40" x2="196.30" y2="434.40" stroke="#777" stroke-width="0.3"/>
<text x="195.10" y="439.70" font-size="2.8" text-anchor="end" fill="#444">0.25</text>
<line x1="195.50" y1="438.70" x2="196.30" y2="438.70" stroke="#777" stroke-width="0.3"/>
<text x="195.10" y="444.00" font-size="2.8" text-anchor="end" fill="#444">0.20</text>
<line x1="195.50" y1="443.00" x2="196.30" y2="443.00" stroke="#777" stroke-width="0.3"/>
<text x="195.10" y="448.30" font-size="2.8" text-anchor="end" fill="#444">0.15</text>
<line x1="195.50" y1="447.30" x2="196.30" y2="447.30" stroke="#777" stroke-width="0.3"/>
<text x="195.10" y="452.60" font-size="2.8" text-anchor="end" fill="#444">0.10</text>
<line x1="195.50" y1="451.60" x2="196.30" y2="451.60" stroke="#777" stroke-width="0.3"/>
<text x="195.10" y="456.90" font-size="2.8" text-anchor="end" fill="#444">0.05</text>
<line x1="195.50" y1="455.90" x2="196.30" y2="455.90" stroke="#777" stroke-width="0.3"/>
<text x="195.10" y="461.20" font-size="2.8" text-anchor="end" fill="#444">0.00</text>
<line x1="195.50" y1="460.20" x2="196.30" y2="460.20" stroke="#777" stroke-width="0.3"/>
<text x="187.00" y="442.00" font-size="3.1" text-anchor="middle" fill="#151515" transform="rotate(-90 187.0 442.0)">Enrichment score (ES)</text>
<text x="187.00" y="501.00" font-size="3.1" text-anchor="middle" fill="#151515" transform="rotate(-90 187.0 501.0)">Ranked list metric (PreRanked)</text>
<path d="M196.8 451.7 L198.4 443.3 L200.1 442.1 L202.0 437.3 L204.0 434.9 L204.9 430.0 L208.0 429.3 L210.5 430.0 L212.9 427.6 L216.5 426.4 L218.9 424.0 L221.3 422.4 L224.2 424.8 L227.3 426.4 L230.4 428.4 L233.3 430.0 L235.7 428.4 L238.1 430.0 L241.0 428.8 L244.1 430.0 L247.7 426.0 L250.1 426.9 L252.5 425.2 L256.1 428.8 L259.7 431.2 L264.5 435.6 L269.3 438.5 L274.2 442.1 L279.0 445.7 L283.8 450.5 L288.6 454.8 L293.4 458.9 L297.0 463.0" fill="none" stroke="#6cbb50" stroke-width="1.0" stroke-linejoin="round"/>
<line x1="196.30" y1="463.60" x2="299.60" y2="463.60" stroke="#aaa" stroke-width="0.3"/>
<text x="196.90" y="458.00" font-size="6.6" text-anchor="start" fill="#000" stroke="#000" stroke-width="0.2">NES: 2.6</text>
<text x="196.90" y="464.30" font-size="6.6" text-anchor="start" fill="#000" stroke="#000" stroke-width="0.2">FDR <tspan font-style="italic">q</tspan> value: 0.0</text>
<line x1="196.75" y1="465.40" x2="196.75" y2="480.60" stroke="#333" stroke-width="0.75"/>
<line x1="198.40" y1="465.40" x2="198.40" y2="480.60" stroke="#666" stroke-width="0.75"/>
<line x1="200.10" y1="465.40" x2="200.10" y2="480.60" stroke="#444" stroke-width="0.75"/>
<line x1="202.00" y1="465.40" x2="202.00" y2="480.60" stroke="#888" stroke-width="0.75"/>
<line x1="204.00" y1="465.40" x2="204.00" y2="480.60" stroke="#333" stroke-width="0.75"/>
<line x1="205.60" y1="465.40" x2="205.60" y2="480.60" stroke="#666" stroke-width="0.75"/>
<line x1="208.00" y1="465.40" x2="208.00" y2="480.60" stroke="#444" stroke-width="0.75"/>
<line x1="210.50" y1="465.40" x2="210.50" y2="480.60" stroke="#888" stroke-width="0.75"/>
<line x1="212.10" y1="465.40" x2="212.10" y2="480.60" stroke="#333" stroke-width="0.75"/>
<line x1="214.00" y1="465.40" x2="214.00" y2="480.60" stroke="#666" stroke-width="0.75"/>
<line x1="216.00" y1="465.40" x2="216.00" y2="480.60" stroke="#444" stroke-width="0.75"/>
<line x1="218.40" y1="465.40" x2="218.40" y2="480.60" stroke="#888" stroke-width="0.75"/>
<line x1="220.00" y1="465.40" x2="220.00" y2="480.60" stroke="#333" stroke-width="0.75"/>
<line x1="222.50" y1="465.40" x2="222.50" y2="480.60" stroke="#666" stroke-width="0.75"/>
<line x1="226.00" y1="465.40" x2="226.00" y2="480.60" stroke="#444" stroke-width="0.75"/>
<line x1="228.50" y1="465.40" x2="228.50" y2="480.60" stroke="#888" stroke-width="0.75"/>
<line x1="235.70" y1="465.40" x2="235.70" y2="480.60" stroke="#333" stroke-width="0.75"/>
<line x1="236.90" y1="465.40" x2="236.90" y2="480.60" stroke="#666" stroke-width="0.75"/>
<line x1="240.50" y1="465.40" x2="240.50" y2="480.60" stroke="#444" stroke-width="0.75"/>
<line x1="242.90" y1="465.40" x2="242.90" y2="480.60" stroke="#888" stroke-width="0.75"/>
<line x1="248.90" y1="465.40" x2="248.90" y2="480.60" stroke="#333" stroke-width="0.75"/>
<line x1="251.30" y1="465.40" x2="251.30" y2="480.60" stroke="#666" stroke-width="0.75"/>
<line x1="258.50" y1="465.40" x2="258.50" y2="480.60" stroke="#444" stroke-width="0.75"/>
<line x1="266.90" y1="465.40" x2="266.90" y2="480.60" stroke="#888" stroke-width="0.75"/>
<line x1="271.75" y1="465.40" x2="271.75" y2="480.60" stroke="#333" stroke-width="0.75"/>
<line x1="278.50" y1="465.40" x2="278.50" y2="480.60" stroke="#666" stroke-width="0.75"/>
<line x1="207.00" y1="465.40" x2="207.00" y2="480.60" stroke="#c4c4c4" stroke-width="0.75"/>
<line x1="224.00" y1="465.40" x2="224.00" y2="480.60" stroke="#c4c4c4" stroke-width="0.75"/>
<line x1="232.00" y1="465.40" x2="232.00" y2="480.60" stroke="#c4c4c4" stroke-width="0.75"/>
<line x1="245.00" y1="465.40" x2="245.00" y2="480.60" stroke="#c4c4c4" stroke-width="0.75"/>
<line x1="255.00" y1="465.40" x2="255.00" y2="480.60" stroke="#c4c4c4" stroke-width="0.75"/>
<line x1="262.00" y1="465.40" x2="262.00" y2="480.60" stroke="#c4c4c4" stroke-width="0.75"/>
<rect x="196.30" y="481.00" width="103.30" height="3.60" fill="url(#cb2)" stroke="none" stroke-width="1"/>
<text x="197.30" y="487.30" font-size="2.4" text-anchor="start" fill="#d03030">'na_pos' (positively correlated)</text>
<path d="M196.3 501.3 L196.3 495.7 L198.1 495.9 L199.8 496.1 L201.6 496.3 L203.3 496.4 L205.1 496.6 L206.8 496.8 L208.6 497.0 L210.3 497.2 L212.1 497.3 L213.8 497.5 L215.6 497.7 L217.3 497.9 L219.1 498.1 L220.8 498.3 L222.6 498.4 L224.3 498.6 L226.1 498.8 L227.8 499.0 L229.6 499.1 L231.3 499.3 L233.1 499.5 L234.8 499.7 L236.6 499.8 L238.3 500.0 L240.1 500.2 L241.8 500.4 L243.6 500.5 L245.3 500.7 L247.1 500.9 L248.8 501.0 L250.6 501.2 L252.3 502.9 L254.1 503.0 L255.8 503.1 L257.6 503.2 L259.3 503.4 L261.1 503.5 L262.8 503.6 L264.6 503.7 L266.3 503.8 L268.1 503.9 L269.8 504.0 L271.6 504.1 L273.3 504.2 L275.1 504.4 L276.8 504.5 L278.6 504.6 L280.3 504.8 L282.1 504.9 L283.8 505.1 L285.6 505.3 L287.3 505.6 L289.1 505.9 L290.8 506.3 L292.6 506.9 L294.3 507.5 L296.1 508.4 L297.8 509.5 L299.6 510.9 L299.6 501.3 Z" fill="#c9c9c9" stroke="none"/>
<line x1="196.30" y1="501.30" x2="299.60" y2="501.30" stroke="#999" stroke-width="0.3"/>
<text x="253.12" y="500.80" font-size="2.4" text-anchor="middle" fill="#666">Zero cross at 3051</text>
<text x="201.60" y="494.90" font-size="6.6" text-anchor="start" font-weight="bold" fill="#000">Lactate</text>
<text x="251.80" y="511.70" font-size="6.6" text-anchor="start" font-weight="bold" fill="#000">Untreated</text>
<text x="253.30" y="514.30" font-size="2.4" text-anchor="start" fill="#3040a0">'na_neg' (negatively correlated)</text>
<text x="195.10" y="491.60" font-size="2.8" text-anchor="end" fill="#444">20</text>
<text x="195.10" y="496.60" font-size="2.8" text-anchor="end" fill="#444">10</text>
<text x="195.10" y="501.60" font-size="2.8" text-anchor="end" fill="#444">0</text>
<text x="195.10" y="506.60" font-size="2.8" text-anchor="end" fill="#444">-10</text>
<text x="195.10" y="511.60" font-size="2.8" text-anchor="end" fill="#444">-20</text>
<text x="196.30" y="519.20" font-size="2.6" text-anchor="middle" fill="#444">0</text>
<text x="204.70" y="519.20" font-size="2.6" text-anchor="middle" fill="#444">500</text>
<text x="213.10" y="519.20" font-size="2.6" text-anchor="middle" fill="#444">1,000</text>
<text x="221.50" y="519.20" font-size="2.6" text-anchor="middle" fill="#444">1,500</text>
<text x="229.89" y="519.20" font-size="2.6" text-anchor="middle" fill="#444">2,000</text>
<text x="238.29" y="519.20" font-size="2.6" text-anchor="middle" fill="#444">2,500</text>
<text x="246.69" y="519.20" font-size="2.6" text-anchor="middle" fill="#444">3,000</text>
<text x="255.09" y="519.20" font-size="2.6" text-anchor="middle" fill="#444">3,500</text>
<text x="263.49" y="519.20" font-size="2.6" text-anchor="middle" fill="#444">4,000</text>
<text x="271.89" y="519.20" font-size="2.6" text-anchor="middle" fill="#444">4,500</text>
<text x="280.28" y="519.20" font-size="2.6" text-anchor="middle" fill="#444">5,000</text>
<text x="288.68" y="519.20" font-size="2.6" text-anchor="middle" fill="#444">5,500</text>
<text x="297.08" y="519.20" font-size="2.6" text-anchor="middle" fill="#444">6,000</text>
<text x="244.85" y="523.00" font-size="2.8" text-anchor="middle" fill="#151515">Rank in Ordered Dataset</text>
<rect x="200.50" y="527.40" width="87.40" height="4.60" fill="#ffffff" stroke="#888" stroke-width="0.4"/>
<text x="202.80" y="530.60" font-size="2.8" text-anchor="start" fill="#444" style="white-space:pre">— Enrichment profile   — Hits   — Ranking metric scores</text>
<text x="321.00" y="399.80" font-size="15.8" text-anchor="start" font-weight="bold" fill="#000">F</text>
<line x1="356.80" y1="398.00" x2="356.80" y2="502.40" stroke="#111" stroke-width="1.2"/>
<line x1="356.80" y1="501.80" x2="441.50" y2="501.80" stroke="#111" stroke-width="1.3"/>
<line x1="353.60" y1="501.80" x2="356.80" y2="501.80" stroke="#111" stroke-width="1.1"/>
<text x="352.20" y="504.60" font-size="8.0" text-anchor="end" fill="#000" stroke="#000" stroke-width="0.2">0</text>
<line x1="353.60" y1="467.20" x2="356.80" y2="467.20" stroke="#111" stroke-width="1.1"/>
<text x="352.20" y="470.00" font-size="8.0" text-anchor="end" fill="#000" stroke="#000" stroke-width="0.2">0.5</text>
<line x1="353.60" y1="432.60" x2="356.80" y2="432.60" stroke="#111" stroke-width="1.1"/>
<text x="352.20" y="435.40" font-size="8.0" text-anchor="end" fill="#000" stroke="#000" stroke-width="0.2">1.0</text>
<line x1="353.60" y1="398.00" x2="356.80" y2="398.00" stroke="#111" stroke-width="1.1"/>
<text x="352.20" y="400.80" font-size="8.0" text-anchor="end" fill="#000" stroke="#000" stroke-width="0.2">1.5</text>
<text x="328.00" y="454.20" font-size="7.8" text-anchor="middle" fill="#000" stroke="#000" stroke-width="0.2" transform="rotate(-90 328.0 454.2)">Lipids from <tspan font-size="5" dy="-2.6">14</tspan><tspan dy="2.6">C-lactate</tspan></text>
<text x="336.60" y="454.20" font-size="7.8" text-anchor="middle" fill="#000" stroke="#000" stroke-width="0.2" transform="rotate(-90 336.6 454.2)">(fold change)</text>
<rect x="360.20" y="432.60" width="8.80" height="69.20" fill="#878787" stroke="#333333" stroke-width="0.8"/>
<line x1="364.60" y1="431.22" x2="364.60" y2="433.98" stroke="#222" stroke-width="0.8"/>
<line x1="362.80" y1="431.22" x2="366.40" y2="431.22" stroke="#222" stroke-width="0.8"/>
<line x1="362.80" y1="433.98" x2="366.40" y2="433.98" stroke="#222" stroke-width="0.8"/>
<circle cx="364.60" cy="431.91" r="1.30" fill="#111" stroke="none" stroke-width="0.5"/>
<circle cx="364.60" cy="433.29" r="1.30" fill="#111" stroke="none" stroke-width="0.5"/>
<circle cx="364.60" cy="432.60" r="1.30" fill="#111" stroke="none" stroke-width="0.5"/>
<rect x="374.05" y="409.76" width="8.80" height="92.04" fill="#fde2c4" stroke="#8a6a4a" stroke-width="0.8"/>
<line x1="378.45" y1="407.69" x2="378.45" y2="411.84" stroke="#222" stroke-width="0.8"/>
<line x1="376.65" y1="407.69" x2="380.25" y2="407.69" stroke="#222" stroke-width="0.8"/>
<line x1="376.65" y1="411.84" x2="380.25" y2="411.84" stroke="#222" stroke-width="0.8"/>
<circle cx="378.45" cy="407.00" r="1.30" fill="#111" stroke="none" stroke-width="0.5"/>
<circle cx="378.45" cy="409.76" r="1.30" fill="#111" stroke="none" stroke-width="0.5"/>
<circle cx="378.45" cy="411.84" r="1.30" fill="#111" stroke="none" stroke-width="0.5"/>
<rect x="387.90" y="420.14" width="8.80" height="81.66" fill="#cadff2" stroke="#5a7896" stroke-width="0.8"/>
<line x1="392.30" y1="419.45" x2="392.30" y2="420.84" stroke="#222" stroke-width="0.8"/>
<line x1="390.50" y1="419.45" x2="394.10" y2="419.45" stroke="#222" stroke-width="0.8"/>
<line x1="390.50" y1="420.84" x2="394.10" y2="420.84" stroke="#222" stroke-width="0.8"/>
<circle cx="392.30" cy="420.14" r="1.30" fill="#111" stroke="none" stroke-width="0.5"/>
<circle cx="392.30" cy="419.80" r="1.30" fill="#111" stroke="none" stroke-width="0.5"/>
<circle cx="392.30" cy="420.49" r="1.30" fill="#111" stroke="none" stroke-width="0.5"/>
<rect x="401.75" y="458.20" width="8.80" height="43.60" fill="#878787" stroke="#333333" stroke-width="0.8"/>
<line x1="406.15" y1="448.52" x2="406.15" y2="467.89" stroke="#222" stroke-width="0.8"/>
<line x1="404.35" y1="448.52" x2="407.95" y2="448.52" stroke="#222" stroke-width="0.8"/>
<line x1="404.35" y1="467.89" x2="407.95" y2="467.89" stroke="#222" stroke-width="0.8"/>
<circle cx="406.15" cy="440.90" r="1.30" fill="#111" stroke="none" stroke-width="0.5"/>
<circle cx="406.15" cy="458.90" r="1.30" fill="#111" stroke="none" stroke-width="0.5"/>
<circle cx="406.15" cy="472.04" r="1.30" fill="#111" stroke="none" stroke-width="0.5"/>
<rect x="415.60" y="467.20" width="8.80" height="34.60" fill="#fde2c4" stroke="#8a6a4a" stroke-width="0.8"/>
<line x1="420.00" y1="464.43" x2="420.00" y2="469.97" stroke="#222" stroke-width="0.8"/>
<line x1="418.20" y1="464.43" x2="421.80" y2="464.43" stroke="#222" stroke-width="0.8"/>
<line x1="418.20" y1="469.97" x2="421.80" y2="469.97" stroke="#222" stroke-width="0.8"/>
<circle cx="420.00" cy="464.43" r="1.30" fill="#111" stroke="none" stroke-width="0.5"/>
<circle cx="420.00" cy="465.82" r="1.30" fill="#111" stroke="none" stroke-width="0.5"/>
<circle cx="420.00" cy="470.66" r="1.30" fill="#111" stroke="none" stroke-width="0.5"/>
<rect x="429.45" y="465.82" width="8.80" height="35.98" fill="#cadff2" stroke="#5a7896" stroke-width="0.8"/>
<line x1="433.85" y1="457.51" x2="433.85" y2="474.12" stroke="#222" stroke-width="0.8"/>
<line x1="432.05" y1="457.51" x2="435.65" y2="457.51" stroke="#222" stroke-width="0.8"/>
<line x1="432.05" y1="474.12" x2="435.65" y2="474.12" stroke="#222" stroke-width="0.8"/>
<circle cx="433.85" cy="450.59" r="1.30" fill="#111" stroke="none" stroke-width="0.5"/>
<circle cx="433.85" cy="467.20" r="1.30" fill="#111" stroke="none" stroke-width="0.5"/>
<circle cx="433.85" cy="471.35" r="1.30" fill="#111" stroke="none" stroke-width="0.5"/>
<text x="367.50" y="504.20" font-size="8.2" text-anchor="end" fill="#000" stroke="#000" stroke-width="0.2" transform="rotate(-90 367.5 504.2)">HPF-CM</text>
<text x="381.35" y="504.20" font-size="8.2" text-anchor="end" fill="#000" stroke="#000" stroke-width="0.2" transform="rotate(-90 381.35 504.2)">CAF-CM</text>
<text x="395.20" y="504.20" font-size="8.2" text-anchor="end" fill="#000" stroke="#000" stroke-width="0.2" transform="rotate(-90 395.2 504.2)">Lactate</text>
<text x="409.05" y="504.20" font-size="8.2" text-anchor="end" fill="#000" stroke="#000" stroke-width="0.2" transform="rotate(-90 409.05 504.2)">HPF-CM</text>
<text x="422.90" y="504.20" font-size="8.2" text-anchor="end" fill="#000" stroke="#000" stroke-width="0.2" transform="rotate(-90 422.9 504.2)">CAF-CM</text>
<text x="436.75" y="504.20" font-size="8.2" text-anchor="end" fill="#000" stroke="#000" stroke-width="0.2" transform="rotate(-90 436.75 504.2)">Lactate</text>
<line x1="360.30" y1="402.30" x2="380.50" y2="402.30" stroke="#555" stroke-width="0.6"/>
<text x="369.50" y="401.10" font-size="5.5" text-anchor="middle" fill="#000" stroke="#000" stroke-width="0.2">*</text>
<line x1="380.50" y1="404.60" x2="399.20" y2="404.60" stroke="#555" stroke-width="0.6"/>
<text x="388.20" y="403.40" font-size="5.5" text-anchor="middle" fill="#000" stroke="#000" stroke-width="0.2">*</text>
<line x1="380.50" y1="406.90" x2="418.00" y2="406.90" stroke="#555" stroke-width="0.6"/>
<text x="401.00" y="405.70" font-size="5.5" text-anchor="middle" fill="#000" stroke="#000" stroke-width="0.2">*</text>
<line x1="394.90" y1="415.90" x2="433.30" y2="415.90" stroke="#555" stroke-width="0.6"/>
<text x="413.20" y="414.70" font-size="5.5" text-anchor="middle" fill="#000" stroke="#000" stroke-width="0.2">*</text>
<line x1="360.80" y1="543.80" x2="391.50" y2="543.80" stroke="#444" stroke-width="0.7"/>
<line x1="405.80" y1="543.80" x2="436.20" y2="543.80" stroke="#444" stroke-width="0.7"/>
<text x="373.80" y="551.40" font-size="7" text-anchor="middle" fill="#000" stroke="#000" stroke-width="0.2">–</text>
<text x="420.80" y="551.00" font-size="7.4" text-anchor="middle" fill="#000" stroke="#000" stroke-width="0.2">+</text>
<text x="440.00" y="550.60" font-size="7.8" text-anchor="start" font-weight="bold" fill="#000">iMCT1</text>
<text x="0.90" y="573.40" font-size="15.8" text-anchor="start" font-weight="bold" fill="#000">G</text>
<text x="13.50" y="609.80" font-size="5.1" text-anchor="middle" fill="#000" stroke="#000" stroke-width="0.2">Lactate</text>
<ellipse cx="11.40" cy="615.60" rx="1.65" ry="2.1" fill="#e34a4f" stroke="#b03038" stroke-width="0.4"/>
<ellipse cx="11.40" cy="615.60" rx="0.58" ry="0.95" fill="#f3a0a4" stroke="none"/>
<ellipse cx="14.80" cy="615.60" rx="1.65" ry="2.1" fill="#e34a4f" stroke="#b03038" stroke-width="0.4"/>
<ellipse cx="14.80" cy="615.60" rx="0.58" ry="0.95" fill="#f3a0a4" stroke="none"/>
<ellipse cx="18.20" cy="615.60" rx="1.65" ry="2.1" fill="#e34a4f" stroke="#b03038" stroke-width="0.4"/>
<ellipse cx="18.20" cy="615.60" rx="0.58" ry="0.95" fill="#f3a0a4" stroke="none"/>
<text x="52.60" y="609.80" font-size="5.1" text-anchor="middle" fill="#000" stroke="#000" stroke-width="0.2">Pyruvate</text>
<ellipse cx="50.40" cy="615.60" rx="1.65" ry="2.1" fill="#e34a4f" stroke="#b03038" stroke-width="0.4"/>
<ellipse cx="50.40" cy="615.60" rx="0.58" ry="0.95" fill="#f3a0a4" stroke="none"/>
<ellipse cx="53.80" cy="615.60" rx="1.65" ry="2.1" fill="#e34a4f" stroke="#b03038" stroke-width="0.4"/>
<ellipse cx="53.80" cy="615.60" rx="0.58" ry="0.95" fill="#f3a0a4" stroke="none"/>
<ellipse cx="57.20" cy="615.60" rx="1.65" ry="2.1" fill="#e34a4f" stroke="#b03038" stroke-width="0.4"/>
<ellipse cx="57.20" cy="615.60" rx="0.58" ry="0.95" fill="#f3a0a4" stroke="none"/>
<line x1="25.30" y1="615.50" x2="43.60" y2="615.50" stroke="#111" stroke-width="1.2"/>
<path d="M41.40 617.15 L44.40 615.50 L41.40 613.85" fill="none" stroke="#111" stroke-width="1.2" stroke-linejoin="miter"/>
<line x1="53.50" y1="618.80" x2="53.50" y2="629.40" stroke="#111" stroke-width="1.2"/>
<path d="M51.85 627.20 L53.50 630.20 L55.15 627.20" fill="none" stroke="#111" stroke-width="1.2" stroke-linejoin="miter"/>
<text x="100.90" y="607.30" font-size="5.1" text-anchor="middle" fill="#000" stroke="#000" stroke-width="0.2">Palmitate</text>
<ellipse cx="75.10" cy="613.75" rx="1.65" ry="2.1" fill="#fff" stroke="#aaa" stroke-width="0.45"/>
<ellipse cx="78.47" cy="613.75" rx="1.65" ry="2.1" fill="#e34a4f" stroke="#b03038" stroke-width="0.4"/>
<ellipse cx="78.47" cy="613.75" rx="0.58" ry="0.95" fill="#f3a0a4" stroke="none"/>
<ellipse cx="81.84" cy="613.75" rx="1.65" ry="2.1" fill="#fff" stroke="#aaa" stroke-width="0.45"/>
<ellipse cx="85.21" cy="613.75" rx="1.65" ry="2.1" fill="#e34a4f" stroke="#b03038" stroke-width="0.4"/>
<ellipse cx="85.21" cy="613.75" rx="0.58" ry="0.95" fill="#f3a0a4" stroke="none"/>
<ellipse cx="88.58" cy="613.75" rx="1.65" ry="2.1" fill="#fff" stroke="#aaa" stroke-width="0.45"/>
<ellipse cx="91.95" cy="613.75" rx="1.65" ry="2.1" fill="#e34a4f" stroke="#b03038" stroke-width="0.4"/>
<ellipse cx="91.95" cy="613.75" rx="0.58" ry="0.95" fill="#f3a0a4" stroke="none"/>
<ellipse cx="95.32" cy="613.75" rx="1.65" ry="2.1" fill="#fff" stroke="#aaa" stroke-width="0.45"/>
<ellipse cx="98.69" cy="613.75" rx="1.65" ry="2.1" fill="#e34a4f" stroke="#b03038" stroke-width="0.4"/>
<ellipse cx="98.69" cy="613.75" rx="0.58" ry="0.95" fill="#f3a0a4" stroke="none"/>
<ellipse cx="102.06" cy="613.75" rx="1.65" ry="2.1" fill="#fff" stroke="#aaa" stroke-width="0.45"/>
<ellipse cx="105.43" cy="613.75" rx="1.65" ry="2.1" fill="#e34a4f" stroke="#b03038" stroke-width="0.4"/>
<ellipse cx="105.43" cy="613.75" rx="0.58" ry="0.95" fill="#f3a0a4" stroke="none"/>
<ellipse cx="108.80" cy="613.75" rx="1.65" ry="2.1" fill="#fff" stroke="#aaa" stroke-width="0.45"/>
<ellipse cx="112.17" cy="613.75" rx="1.65" ry="2.1" fill="#e34a4f" stroke="#b03038" stroke-width="0.4"/>
<ellipse cx="112.17" cy="613.75" rx="0.58" ry="0.95" fill="#f3a0a4" stroke="none"/>
<ellipse cx="115.54" cy="613.75" rx="1.65" ry="2.1" fill="#fff" stroke="#aaa" stroke-width="0.45"/>
<ellipse cx="118.91" cy="613.75" rx="1.65" ry="2.1" fill="#e34a4f" stroke="#b03038" stroke-width="0.4"/>
<ellipse cx="118.91" cy="613.75" rx="0.58" ry="0.95" fill="#f3a0a4" stroke="none"/>
<ellipse cx="122.28" cy="613.75" rx="1.65" ry="2.1" fill="#fff" stroke="#aaa" stroke-width="0.45"/>
<ellipse cx="125.65" cy="613.75" rx="1.65" ry="2.1" fill="#e34a4f" stroke="#b03038" stroke-width="0.4"/>
<ellipse cx="125.65" cy="613.75" rx="0.58" ry="0.95" fill="#f3a0a4" stroke="none"/>
<text x="22.00" y="637.70" font-size="5.1" text-anchor="middle" fill="#000" stroke="#000" stroke-width="0.2">Malate</text>
<ellipse cx="21.60" cy="644.60" rx="1.65" ry="2.1" fill="#fff" stroke="#aaa" stroke-width="0.45"/>
<ellipse cx="25.00" cy="644.60" rx="1.65" ry="2.1" fill="#fff" stroke="#aaa" stroke-width="0.45"/>
<ellipse cx="28.40" cy="644.60" rx="1.65" ry="2.1" fill="#e34a4f" stroke="#b03038" stroke-width="0.4"/>
<ellipse cx="28.40" cy="644.60" rx="0.58" ry="0.95" fill="#f3a0a4" stroke="none"/>
<ellipse cx="31.80" cy="644.60" rx="1.65" ry="2.1" fill="#e34a4f" stroke="#b03038" stroke-width="0.4"/>
<ellipse cx="31.80" cy="644.60" rx="0.58" ry="0.95" fill="#f3a0a4" stroke="none"/>
<text x="75.60" y="636.10" font-size="5.1" text-anchor="middle" fill="#000" stroke="#000" stroke-width="0.2">Citrate</text>
<ellipse cx="73.70" cy="641.80" rx="1.65" ry="2.1" fill="#fff" stroke="#aaa" stroke-width="0.45"/>
<ellipse cx="77.00" cy="641.80" rx="1.65" ry="2.1" fill="#fff" stroke="#aaa" stroke-width="0.45"/>
<ellipse cx="80.30" cy="641.80" rx="1.65" ry="2.1" fill="#e34a4f" stroke="#b03038" stroke-width="0.4"/>
<ellipse cx="80.30" cy="641.80" rx="0.58" ry="0.95" fill="#f3a0a4" stroke="none"/>
<ellipse cx="73.70" cy="646.80" rx="1.65" ry="2.1" fill="#fff" stroke="#aaa" stroke-width="0.45"/>
<ellipse cx="77.00" cy="646.80" rx="1.65" ry="2.1" fill="#fff" stroke="#aaa" stroke-width="0.45"/>
<ellipse cx="80.30" cy="646.80" rx="1.65" ry="2.1" fill="#e34a4f" stroke="#b03038" stroke-width="0.4"/>
<ellipse cx="80.30" cy="646.80" rx="0.58" ry="0.95" fill="#f3a0a4" stroke="none"/>
<path d="M83.2 645.4 L95.8 645.4 Q98.7 645.4 98.7 642.4 L98.7 621.6" fill="none" stroke="#111" stroke-width="1.2"/>
<path d="M100.35 623.60 L98.70 620.60 L97.05 623.60" fill="none" stroke="#111" stroke-width="1.2" stroke-linejoin="miter"/>
<text x="51.20" y="659.70" font-size="5.2" text-anchor="middle" fill="#000" stroke="#000" stroke-width="0.2">TCA cycle</text>
<path d="M37.2 647.2 C41 637.5 50 634.5 56.5 636.2 C62 637.8 65.6 644 66.6 651.6" fill="none" stroke="#111" stroke-width="2.0" stroke-linecap="round"/>
<path d="M64.47 650.38 L66.90 653.40 L68.15 649.73" fill="none" stroke="#111" stroke-width="1.2" stroke-linejoin="miter"/>
<path d="M67.5 664.8 C66 673.5 57 680.5 48 679.8 C42 679.2 39 673 38.6 665.2" fill="none" stroke="#111" stroke-width="2.0" stroke-linecap="round"/>
<path d="M40.73 665.82 L38.30 662.80 L37.05 666.47" fill="none" stroke="#111" stroke-width="1.2" stroke-linejoin="miter"/>
<text x="20.50" y="664.10" font-size="5.1" text-anchor="middle" fill="#000" stroke="#000" stroke-width="0.2">Fumarate</text>
<ellipse cx="21.40" cy="670.80" rx="1.65" ry="2.1" fill="#fff" stroke="#aaa" stroke-width="0.45"/>
<ellipse cx="24.80" cy="670.80" rx="1.65" ry="2.1" fill="#fff" stroke="#aaa" stroke-width="0.45"/>
<ellipse cx="28.20" cy="670.80" rx="1.65" ry="2.1" fill="#e34a4f" stroke="#b03038" stroke-width="0.4"/>
<ellipse cx="28.20" cy="670.80" rx="0.58" ry="0.95" fill="#f3a0a4" stroke="none"/>
<ellipse cx="31.60" cy="670.80" rx="1.65" ry="2.1" fill="#e34a4f" stroke="#b03038" stroke-width="0.4"/>
<ellipse cx="31.60" cy="670.80" rx="0.58" ry="0.95" fill="#f3a0a4" stroke="none"/>
<text x="78.40" y="664.50" font-size="5.1" text-anchor="middle" fill="#000" stroke="#000" stroke-width="0.2">a-KG</text>
<ellipse cx="71.60" cy="670.20" rx="1.65" ry="2.1" fill="#fff" stroke="#aaa" stroke-width="0.45"/>
<ellipse cx="75.00" cy="670.20" rx="1.65" ry="2.1" fill="#fff" stroke="#aaa" stroke-width="0.45"/>
<ellipse cx="78.40" cy="670.20" rx="1.65" ry="2.1" fill="#fff" stroke="#aaa" stroke-width="0.45"/>
<ellipse cx="81.80" cy="670.20" rx="1.65" ry="2.1" fill="#e34a4f" stroke="#b03038" stroke-width="0.4"/>
<ellipse cx="81.80" cy="670.20" rx="0.58" ry="0.95" fill="#f3a0a4" stroke="none"/>
<ellipse cx="85.20" cy="670.20" rx="1.65" ry="2.1" fill="#e34a4f" stroke="#b03038" stroke-width="0.4"/>
<ellipse cx="85.20" cy="670.20" rx="0.58" ry="0.95" fill="#f3a0a4" stroke="none"/>
<text x="51.80" y="685.60" font-size="5.1" text-anchor="middle" fill="#000" stroke="#000" stroke-width="0.2">Succinate</text>
<ellipse cx="48.10" cy="690.80" rx="1.65" ry="2.1" fill="#fff" stroke="#aaa" stroke-width="0.45"/>
<ellipse cx="51.50" cy="690.80" rx="1.65" ry="2.1" fill="#fff" stroke="#aaa" stroke-width="0.45"/>
<ellipse cx="54.90" cy="690.80" rx="1.65" ry="2.1" fill="#e34a4f" stroke="#b03038" stroke-width="0.4"/>
<ellipse cx="54.90" cy="690.80" rx="0.58" ry="0.95" fill="#f3a0a4" stroke="none"/>
<ellipse cx="58.30" cy="690.80" rx="1.65" ry="2.1" fill="#e34a4f" stroke="#b03038" stroke-width="0.4"/>
<ellipse cx="58.30" cy="690.80" rx="0.58" ry="0.95" fill="#f3a0a4" stroke="none"/>
<rect x="109.40" y="628.40" width="10.30" height="3.50" fill="#1c6e72" stroke="#0f4a4c" stroke-width="0.7"/>
<text x="123.00" y="632.30" font-size="6.6" text-anchor="start" fill="#555" stroke="#555" stroke-width="0.2" textLength="10.3" lengthAdjust="spacingAndGlyphs">m+1</text>
<rect x="109.40" y="633.85" width="10.30" height="3.50" fill="#3d4f7e" stroke="#26324f" stroke-width="0.7"/>
<text x="123.00" y="637.75" font-size="6.6" text-anchor="start" fill="#555" stroke="#555" stroke-width="0.2" textLength="10.3" lengthAdjust="spacingAndGlyphs">m+2</text>
<rect x="109.40" y="639.30" width="10.30" height="3.50" fill="#ffffff" stroke="#8878aa" stroke-width="0.7"/>
<text x="123.00" y="643.20" font-size="6.6" text-anchor="start" fill="#555" stroke="#555" stroke-width="0.2" textLength="10.3" lengthAdjust="spacingAndGlyphs">m+3</text>
<rect x="109.40" y="644.75" width="10.30" height="3.50" fill="#c9c84a" stroke="#8a8a30" stroke-width="0.7"/>
<text x="123.00" y="648.65" font-size="6.6" text-anchor="start" fill="#555" stroke="#555" stroke-width="0.2" textLength="10.3" lengthAdjust="spacingAndGlyphs">m+4</text>
<rect x="109.40" y="650.20" width="10.30" height="3.50" fill="#ffffff" stroke="#9a90c0" stroke-width="0.7"/>
<text x="123.00" y="654.10" font-size="6.6" text-anchor="start" fill="#555" stroke="#555" stroke-width="0.2" textLength="10.3" lengthAdjust="spacingAndGlyphs">m+5</text>
<rect x="109.40" y="655.65" width="10.30" height="3.50" fill="#e87a24" stroke="#a05010" stroke-width="0.7"/>
<text x="123.00" y="659.55" font-size="6.6" text-anchor="start" fill="#555" stroke="#555" stroke-width="0.2" textLength="10.3" lengthAdjust="spacingAndGlyphs">m+6</text>
<rect x="109.40" y="661.10" width="10.30" height="3.50" fill="#d82832" stroke="#901818" stroke-width="0.7"/>
<text x="123.00" y="665.00" font-size="6.6" text-anchor="start" fill="#555" stroke="#555" stroke-width="0.2" textLength="10.3" lengthAdjust="spacingAndGlyphs">m+8</text>
<rect x="109.40" y="666.55" width="10.30" height="3.50" fill="#1e9c62" stroke="#0e6a40" stroke-width="0.7"/>
<text x="123.00" y="670.45" font-size="6.6" text-anchor="start" fill="#555" stroke="#555" stroke-width="0.2" textLength="13.2" lengthAdjust="spacingAndGlyphs">m+10</text>
<rect x="109.40" y="672.00" width="10.30" height="3.50" fill="#6c3c9a" stroke="#44206a" stroke-width="0.7"/>
<text x="123.00" y="675.90" font-size="6.6" text-anchor="start" fill="#555" stroke="#555" stroke-width="0.2" textLength="13.2" lengthAdjust="spacingAndGlyphs">m+12</text>
<rect x="109.40" y="677.45" width="10.30" height="3.50" fill="#f4f0b8" stroke="#9a9870" stroke-width="0.7"/>
<text x="123.00" y="681.35" font-size="6.6" text-anchor="start" fill="#555" stroke="#555" stroke-width="0.2" textLength="13.2" lengthAdjust="spacingAndGlyphs">m+14</text>
<rect x="109.40" y="682.90" width="10.30" height="3.50" fill="#222222" stroke="#000000" stroke-width="0.7"/>
<text x="123.00" y="686.80" font-size="6.6" text-anchor="start" fill="#555" stroke="#555" stroke-width="0.2" textLength="13.2" lengthAdjust="spacingAndGlyphs">m+16</text>
<text x="218.00" y="575.00" font-size="7.8" text-anchor="middle" fill="#000" stroke="#000" stroke-width="0.2">Citrate</text>
<line x1="179.20" y1="580.20" x2="179.20" y2="705.80" stroke="#111" stroke-width="1.2"/>
<line x1="179.20" y1="705.20" x2="262.00" y2="705.20" stroke="#111" stroke-width="1.3"/>
<line x1="176.20" y1="705.20" x2="179.20" y2="705.20" stroke="#111" stroke-width="1.1"/>
<text x="174.80" y="708.00" font-size="8.2" text-anchor="end" fill="#000" stroke="#000" stroke-width="0.2">0</text>
<line x1="176.20" y1="674.10" x2="179.20" y2="674.10" stroke="#111" stroke-width="1.1"/>
<text x="174.80" y="676.90" font-size="8.2" text-anchor="end" fill="#000" stroke="#000" stroke-width="0.2">0.2</text>
<line x1="176.20" y1="643.00" x2="179.20" y2="643.00" stroke="#111" stroke-width="1.1"/>
<text x="174.80" y="645.80" font-size="8.2" text-anchor="end" fill="#000" stroke="#000" stroke-width="0.2">0.4</text>
<line x1="176.20" y1="611.90" x2="179.20" y2="611.90" stroke="#111" stroke-width="1.1"/>
<text x="174.80" y="614.70" font-size="8.2" text-anchor="end" fill="#000" stroke="#000" stroke-width="0.2">0.6</text>
<line x1="176.20" y1="580.80" x2="179.20" y2="580.80" stroke="#111" stroke-width="1.1"/>
<text x="174.80" y="583.60" font-size="8.2" text-anchor="end" fill="#000" stroke="#000" stroke-width="0.2">0.8</text>
<text x="158.20" y="644.60" font-size="8.0" text-anchor="middle" fill="#000" stroke="#000" stroke-width="0.2" transform="rotate(-90 158.2 644.6)"><tspan font-size="5" dy="-2.6">13</tspan><tspan dy="2.6">C Fractional enrichment</tspan></text>
<rect x="182.55" y="647.67" width="7.30" height="57.53" fill="#8a90cc" stroke="#5a60a0" stroke-width="0.7"/>
<rect x="182.55" y="647.07" width="7.30" height="1.60" fill="#2a2f6a" stroke="none" stroke-width="1"/>
<rect x="195.85" y="614.23" width="7.30" height="90.97" fill="#8a90cc" stroke="#5a60a0" stroke-width="0.7"/>
<rect x="195.85" y="613.63" width="7.30" height="1.60" fill="#2a2f6a" stroke="none" stroke-width="1"/>
<rect x="209.15" y="625.12" width="7.30" height="80.08" fill="#8a90cc" stroke="#5a60a0" stroke-width="0.7"/>
<rect x="209.15" y="624.52" width="7.30" height="1.60" fill="#2a2f6a" stroke="none" stroke-width="1"/>
<rect x="222.45" y="646.89" width="7.30" height="58.31" fill="#8a90cc" stroke="#5a60a0" stroke-width="0.7"/>
<rect x="222.45" y="646.29" width="7.30" height="1.60" fill="#2a2f6a" stroke="none" stroke-width="1"/>
<rect x="235.75" y="629.01" width="7.30" height="76.19" fill="#8a90cc" stroke="#5a60a0" stroke-width="0.7"/>
<rect x="235.75" y="628.41" width="7.30" height="1.60" fill="#2a2f6a" stroke="none" stroke-width="1"/>
<rect x="249.05" y="641.45" width="7.30" height="63.75" fill="#8a90cc" stroke="#5a60a0" stroke-width="0.7"/>
<rect x="249.05" y="640.85" width="7.30" height="1.60" fill="#2a2f6a" stroke="none" stroke-width="1"/>
<line x1="196.50" y1="631.34" x2="202.50" y2="631.34" stroke="#2a2f6a" stroke-width="0.9" stroke-dasharray="1 0.6"/>
<text x="189.00" y="707.80" font-size="8.0" text-anchor="end" fill="#000" stroke="#000" stroke-width="0.2" transform="rotate(-90 189.0 707.8)">HPF-CM</text>
<text x="202.30" y="707.80" font-size="8.0" text-anchor="end" fill="#000" stroke="#000" stroke-width="0.2" transform="rotate(-90 202.3 707.8)">CAF-CM</text>
<text x="215.60" y="707.80" font-size="8.0" text-anchor="end" fill="#000" stroke="#000" stroke-width="0.2" transform="rotate(-90 215.6 707.8)">Lactate</text>
<text x="228.90" y="707.80" font-size="8.0" text-anchor="end" fill="#000" stroke="#000" stroke-width="0.2" transform="rotate(-90 228.9 707.8)">HPF-CM</text>
<text x="242.20" y="707.80" font-size="8.0" text-anchor="end" fill="#000" stroke="#000" stroke-width="0.2" transform="rotate(-90 242.2 707.8)">CAF-CM</text>
<text x="255.50" y="707.80" font-size="8.0" text-anchor="end" fill="#000" stroke="#000" stroke-width="0.2" transform="rotate(-90 255.5 707.8)">Lactate</text>
<line x1="182.70" y1="741.20" x2="216.30" y2="741.20" stroke="#666" stroke-width="0.7"/>
<line x1="223.00" y1="741.20" x2="254.80" y2="741.20" stroke="#666" stroke-width="0.7"/>
<text x="200.00" y="748.40" font-size="8" text-anchor="middle" fill="#000" stroke="#000" stroke-width="0.2">–</text>
<text x="239.40" y="748.00" font-size="8" text-anchor="middle" fill="#000" stroke="#000" stroke-width="0.2">+</text>
<text x="255.40" y="743.40" font-size="7.6" text-anchor="start" font-weight="bold" fill="#000">iMCT1</text>
<text x="320.40" y="575.00" font-size="7.8" text-anchor="middle" fill="#000" stroke="#000" stroke-width="0.2">Palmitate</text>
<line x1="278.80" y1="581.00" x2="278.80" y2="705.80" stroke="#111" stroke-width="1.2"/>
<line x1="278.80" y1="705.20" x2="361.00" y2="705.20" stroke="#111" stroke-width="1.3"/>
<line x1="275.80" y1="705.20" x2="278.80" y2="705.20" stroke="#111" stroke-width="1.1"/>
<text x="274.40" y="708.00" font-size="8.2" text-anchor="end" fill="#000" stroke="#000" stroke-width="0.2">0</text>
<line x1="275.80" y1="674.10" x2="278.80" y2="674.10" stroke="#111" stroke-width="1.1"/>
<text x="274.40" y="676.90" font-size="8.2" text-anchor="end" fill="#000" stroke="#000" stroke-width="0.2">0.2</text>
<line x1="275.80" y1="643.00" x2="278.80" y2="643.00" stroke="#111" stroke-width="1.1"/>
<text x="274.40" y="645.80" font-size="8.2" text-anchor="end" fill="#000" stroke="#000" stroke-width="0.2">0.4</text>
<line x1="275.80" y1="611.90" x2="278.80" y2="611.90" stroke="#111" stroke-width="1.1"/>
<text x="274.40" y="614.70" font-size="8.2" text-anchor="end" fill="#000" stroke="#000" stroke-width="0.2">0.6</text>
<line x1="275.80" y1="580.80" x2="278.80" y2="580.80" stroke="#111" stroke-width="1.1"/>
<text x="274.40" y="583.60" font-size="8.2" text-anchor="end" fill="#000" stroke="#000" stroke-width="0.2">0.8</text>
<rect x="281.55" y="697.43" width="7.70" height="7.77" fill="#d6de52" stroke="#333" stroke-width="0.45"/>
<line x1="281.55" y1="697.43" x2="289.25" y2="697.43" stroke="#3a2020" stroke-width="0.9"/>
<rect x="281.55" y="670.21" width="7.70" height="27.21" fill="#ec8526" stroke="#333" stroke-width="0.45"/>
<line x1="281.55" y1="670.21" x2="289.25" y2="670.21" stroke="#3a2020" stroke-width="0.9"/>
<rect x="281.55" y="632.12" width="7.70" height="38.10" fill="#e2343a" stroke="#333" stroke-width="0.45"/>
<line x1="281.55" y1="632.12" x2="289.25" y2="632.12" stroke="#3a2020" stroke-width="0.9"/>
<rect x="281.55" y="623.56" width="7.70" height="8.55" fill="#22a060" stroke="#333" stroke-width="0.45"/>
<line x1="281.55" y1="623.56" x2="289.25" y2="623.56" stroke="#3a2020" stroke-width="0.9"/>
<rect x="281.55" y="620.45" width="7.70" height="3.11" fill="#86449c" stroke="#333" stroke-width="0.45"/>
<line x1="281.55" y1="620.45" x2="289.25" y2="620.45" stroke="#3a2020" stroke-width="0.9"/>
<rect x="295.25" y="693.54" width="7.70" height="11.66" fill="#d6de52" stroke="#333" stroke-width="0.45"/>
<line x1="295.25" y1="693.54" x2="302.95" y2="693.54" stroke="#3a2020" stroke-width="0.9"/>
<rect x="295.25" y="655.44" width="7.70" height="38.10" fill="#ec8526" stroke="#333" stroke-width="0.45"/>
<line x1="295.25" y1="655.44" x2="302.95" y2="655.44" stroke="#3a2020" stroke-width="0.9"/>
<rect x="295.25" y="621.23" width="7.70" height="34.21" fill="#e2343a" stroke="#333" stroke-width="0.45"/>
<line x1="295.25" y1="621.23" x2="302.95" y2="621.23" stroke="#3a2020" stroke-width="0.9"/>
<rect x="295.25" y="608.79" width="7.70" height="12.44" fill="#22a060" stroke="#333" stroke-width="0.45"/>
<line x1="295.25" y1="608.79" x2="302.95" y2="608.79" stroke="#3a2020" stroke-width="0.9"/>
<rect x="295.25" y="599.46" width="7.70" height="9.33" fill="#86449c" stroke="#333" stroke-width="0.45"/>
<line x1="295.25" y1="599.46" x2="302.95" y2="599.46" stroke="#3a2020" stroke-width="0.9"/>
<rect x="308.95" y="693.54" width="7.70" height="11.66" fill="#d6de52" stroke="#333" stroke-width="0.45"/>
<line x1="308.95" y1="693.54" x2="316.65" y2="693.54" stroke="#3a2020" stroke-width="0.9"/>
<rect x="308.95" y="659.33" width="7.70" height="34.21" fill="#ec8526" stroke="#333" stroke-width="0.45"/>
<line x1="308.95" y1="659.33" x2="316.65" y2="659.33" stroke="#3a2020" stroke-width="0.9"/>
<rect x="308.95" y="622.79" width="7.70" height="36.54" fill="#e2343a" stroke="#333" stroke-width="0.45"/>
<line x1="308.95" y1="622.79" x2="316.65" y2="622.79" stroke="#3a2020" stroke-width="0.9"/>
<rect x="308.95" y="611.90" width="7.70" height="10.88" fill="#22a060" stroke="#333" stroke-width="0.45"/>
<line x1="308.95" y1="611.90" x2="316.65" y2="611.90" stroke="#3a2020" stroke-width="0.9"/>
<rect x="308.95" y="604.12" width="7.70" height="7.78" fill="#86449c" stroke="#333" stroke-width="0.45"/>
<line x1="308.95" y1="604.12" x2="316.65" y2="604.12" stroke="#3a2020" stroke-width="0.9"/>
<rect x="322.65" y="696.65" width="7.70" height="8.55" fill="#d6de52" stroke="#333" stroke-width="0.45"/>
<line x1="322.65" y1="696.65" x2="330.35" y2="696.65" stroke="#3a2020" stroke-width="0.9"/>
<rect x="322.65" y="668.66" width="7.70" height="27.99" fill="#ec8526" stroke="#333" stroke-width="0.45"/>
<line x1="322.65" y1="668.66" x2="330.35" y2="668.66" stroke="#3a2020" stroke-width="0.9"/>
<rect x="322.65" y="633.67" width="7.70" height="34.99" fill="#e2343a" stroke="#333" stroke-width="0.45"/>
<line x1="322.65" y1="633.67" x2="330.35" y2="633.67" stroke="#3a2020" stroke-width="0.9"/>
<rect x="322.65" y="625.12" width="7.70" height="8.55" fill="#22a060" stroke="#333" stroke-width="0.45"/>
<line x1="322.65" y1="625.12" x2="330.35" y2="625.12" stroke="#3a2020" stroke-width="0.9"/>
<rect x="322.65" y="621.23" width="7.70" height="3.89" fill="#86449c" stroke="#333" stroke-width="0.45"/>
<line x1="322.65" y1="621.23" x2="330.35" y2="621.23" stroke="#3a2020" stroke-width="0.9"/>
<rect x="336.35" y="694.32" width="7.70" height="10.88" fill="#d6de52" stroke="#333" stroke-width="0.45"/>
<line x1="336.35" y1="694.32" x2="344.05" y2="694.32" stroke="#3a2020" stroke-width="0.9"/>
<rect x="336.35" y="664.77" width="7.70" height="29.54" fill="#ec8526" stroke="#333" stroke-width="0.45"/>
<line x1="336.35" y1="664.77" x2="344.05" y2="664.77" stroke="#3a2020" stroke-width="0.9"/>
<rect x="336.35" y="634.45" width="7.70" height="30.32" fill="#e2343a" stroke="#333" stroke-width="0.45"/>
<line x1="336.35" y1="634.45" x2="344.05" y2="634.45" stroke="#3a2020" stroke-width="0.9"/>
<rect x="336.35" y="625.12" width="7.70" height="9.33" fill="#22a060" stroke="#333" stroke-width="0.45"/>
<line x1="336.35" y1="625.12" x2="344.05" y2="625.12" stroke="#3a2020" stroke-width="0.9"/>
<rect x="336.35" y="618.12" width="7.70" height="7.00" fill="#86449c" stroke="#333" stroke-width="0.45"/>
<line x1="336.35" y1="618.12" x2="344.05" y2="618.12" stroke="#3a2020" stroke-width="0.9"/>
<rect x="350.05" y="695.09" width="7.70" height="10.11" fill="#d6de52" stroke="#333" stroke-width="0.45"/>
<line x1="350.05" y1="695.09" x2="357.75" y2="695.09" stroke="#3a2020" stroke-width="0.9"/>
<rect x="350.05" y="665.55" width="7.70" height="29.55" fill="#ec8526" stroke="#333" stroke-width="0.45"/>
<line x1="350.05" y1="665.55" x2="357.75" y2="665.55" stroke="#3a2020" stroke-width="0.9"/>
<rect x="350.05" y="633.67" width="7.70" height="31.88" fill="#e2343a" stroke="#333" stroke-width="0.45"/>
<line x1="350.05" y1="633.67" x2="357.75" y2="633.67" stroke="#3a2020" stroke-width="0.9"/>
<rect x="350.05" y="623.56" width="7.70" height="10.11" fill="#22a060" stroke="#333" stroke-width="0.45"/>
<line x1="350.05" y1="623.56" x2="357.75" y2="623.56" stroke="#3a2020" stroke-width="0.9"/>
<rect x="350.05" y="618.12" width="7.70" height="5.44" fill="#86449c" stroke="#333" stroke-width="0.45"/>
<line x1="350.05" y1="618.12" x2="357.75" y2="618.12" stroke="#3a2020" stroke-width="0.9"/>
<text x="299.10" y="649.58" font-size="5.2" text-anchor="middle" fill="#5a1010" stroke="#5a1010" stroke-width="0.2">**</text>
<line x1="299.10" y1="648.98" x2="299.10" y2="652.98" stroke="#6a1a1a" stroke-width="0.5"/>
<text x="312.80" y="655.80" font-size="5.2" text-anchor="middle" fill="#5a1010" stroke="#5a1010" stroke-width="0.2">*</text>
<line x1="312.80" y1="655.20" x2="312.80" y2="659.20" stroke="#6a1a1a" stroke-width="0.5"/>
<line x1="284.20" y1="626.67" x2="286.60" y2="626.67" stroke="#0a3a20" stroke-width="0.7"/>
<line x1="297.90" y1="614.23" x2="300.30" y2="614.23" stroke="#0a3a20" stroke-width="0.7"/>
<line x1="311.60" y1="615.79" x2="314.00" y2="615.79" stroke="#0a3a20" stroke-width="0.7"/>
<line x1="325.30" y1="629.01" x2="327.70" y2="629.01" stroke="#0a3a20" stroke-width="0.7"/>
<line x1="339.00" y1="629.01" x2="341.40" y2="629.01" stroke="#0a3a20" stroke-width="0.7"/>
<line x1="352.70" y1="627.45" x2="355.10" y2="627.45" stroke="#0a3a20" stroke-width="0.7"/>
<text x="288.20" y="707.80" font-size="8.0" text-anchor="end" fill="#000" stroke="#000" stroke-width="0.2" transform="rotate(-90 288.2 707.8)">HPF-CM</text>
<text x="301.90" y="707.80" font-size="8.0" text-anchor="end" fill="#000" stroke="#000" stroke-width="0.2" transform="rotate(-90 301.9 707.8)">CAF-CM</text>
<text x="315.60" y="707.80" font-size="8.0" text-anchor="end" fill="#000" stroke="#000" stroke-width="0.2" transform="rotate(-90 315.59999999999997 707.8)">Lactate</text>
<text x="329.30" y="707.80" font-size="8.0" text-anchor="end" fill="#000" stroke="#000" stroke-width="0.2" transform="rotate(-90 329.3 707.8)">HPF-CM</text>
<text x="343.00" y="707.80" font-size="8.0" text-anchor="end" fill="#000" stroke="#000" stroke-width="0.2" transform="rotate(-90 343.0 707.8)">CAF-CM</text>
<text x="356.70" y="707.80" font-size="8.0" text-anchor="end" fill="#000" stroke="#000" stroke-width="0.2" transform="rotate(-90 356.7 707.8)">Lactate</text>
<line x1="283.70" y1="742.70" x2="316.30" y2="742.70" stroke="#666" stroke-width="0.7"/>
<line x1="323.00" y1="742.70" x2="353.80" y2="742.70" stroke="#666" stroke-width="0.7"/>
<text x="299.00" y="749.00" font-size="8" text-anchor="middle" fill="#000" stroke="#000" stroke-width="0.2">–</text>
<text x="340.00" y="748.00" font-size="8" text-anchor="middle" fill="#000" stroke="#000" stroke-width="0.2">+</text>
<text x="355.40" y="743.40" font-size="7.6" text-anchor="start" font-weight="bold" fill="#000">iMCT1</text>
<text x="381.40" y="575.90" font-size="15.8" text-anchor="start" font-weight="bold" fill="#000">H</text>
<text x="451.20" y="575.20" font-size="7.8" text-anchor="middle" fill="#000" stroke="#000" stroke-width="0.2">Cholesterol</text>
<line x1="413.00" y1="580.60" x2="413.00" y2="706.10" stroke="#111" stroke-width="1.2"/>
<line x1="413.00" y1="705.50" x2="492.30" y2="705.50" stroke="#111" stroke-width="1.3"/>
<line x1="409.80" y1="705.50" x2="413.00" y2="705.50" stroke="#111" stroke-width="1.1"/>
<text x="408.40" y="708.50" font-size="8.4" text-anchor="end" fill="#000" stroke="#000" stroke-width="0.2">0</text>
<line x1="409.80" y1="674.42" x2="413.00" y2="674.42" stroke="#111" stroke-width="1.1"/>
<text x="408.40" y="677.42" font-size="8.4" text-anchor="end" fill="#000" stroke="#000" stroke-width="0.2">2</text>
<line x1="409.80" y1="643.34" x2="413.00" y2="643.34" stroke="#111" stroke-width="1.1"/>
<text x="408.40" y="646.34" font-size="8.4" text-anchor="end" fill="#000" stroke="#000" stroke-width="0.2">4</text>
<line x1="409.80" y1="612.26" x2="413.00" y2="612.26" stroke="#111" stroke-width="1.1"/>
<text x="408.40" y="615.26" font-size="8.4" text-anchor="end" fill="#000" stroke="#000" stroke-width="0.2">6</text>
<line x1="409.80" y1="581.18" x2="413.00" y2="581.18" stroke="#111" stroke-width="1.1"/>
<text x="408.40" y="584.18" font-size="8.4" text-anchor="end" fill="#000" stroke="#000" stroke-width="0.2">8</text>
<text x="389.00" y="642.50" font-size="7.8" text-anchor="middle" fill="#000" stroke="#000" stroke-width="0.2" transform="rotate(-90 389.0 642.5)">Intensity</text>
<text x="396.60" y="642.50" font-size="7.8" text-anchor="middle" fill="#000" stroke="#000" stroke-width="0.2" transform="rotate(-90 396.6 642.5)">(10<tspan font-size="5" dy="-2.8">7</tspan><tspan dy="2.8">)</tspan></text>
<rect x="416.75" y="653.44" width="8.30" height="52.06" fill="#878787" stroke="#333333" stroke-width="0.8"/>
<line x1="420.90" y1="648.78" x2="420.90" y2="658.10" stroke="#222" stroke-width="0.8"/>
<line x1="419.10" y1="648.78" x2="422.70" y2="648.78" stroke="#222" stroke-width="0.8"/>
<line x1="419.10" y1="658.10" x2="422.70" y2="658.10" stroke="#222" stroke-width="0.8"/>
<circle cx="420.90" cy="647.23" r="1.30" fill="#111" stroke="none" stroke-width="0.5"/>
<circle cx="420.90" cy="654.22" r="1.30" fill="#111" stroke="none" stroke-width="0.5"/>
<circle cx="420.90" cy="659.66" r="1.30" fill="#111" stroke="none" stroke-width="0.5"/>
<rect x="429.25" y="606.04" width="8.30" height="99.46" fill="#fde2c4" stroke="#8a6a4a" stroke-width="0.8"/>
<line x1="433.40" y1="600.61" x2="433.40" y2="611.48" stroke="#222" stroke-width="0.8"/>
<line x1="431.60" y1="600.61" x2="435.20" y2="600.61" stroke="#222" stroke-width="0.8"/>
<line x1="431.60" y1="611.48" x2="435.20" y2="611.48" stroke="#222" stroke-width="0.8"/>
<circle cx="433.40" cy="599.05" r="1.30" fill="#111" stroke="none" stroke-width="0.5"/>
<circle cx="433.40" cy="607.60" r="1.30" fill="#111" stroke="none" stroke-width="0.5"/>
<circle cx="433.40" cy="616.14" r="1.30" fill="#111" stroke="none" stroke-width="0.5"/>
<rect x="441.75" y="623.91" width="8.30" height="81.59" fill="#cadff2" stroke="#5a7896" stroke-width="0.8"/>
<line x1="445.90" y1="618.48" x2="445.90" y2="629.35" stroke="#222" stroke-width="0.8"/>
<line x1="444.10" y1="618.48" x2="447.70" y2="618.48" stroke="#222" stroke-width="0.8"/>
<line x1="444.10" y1="629.35" x2="447.70" y2="629.35" stroke="#222" stroke-width="0.8"/>
<circle cx="445.90" cy="616.14" r="1.30" fill="#111" stroke="none" stroke-width="0.5"/>
<circle cx="445.90" cy="628.58" r="1.30" fill="#111" stroke="none" stroke-width="0.5"/>
<circle cx="445.90" cy="634.79" r="1.30" fill="#111" stroke="none" stroke-width="0.5"/>
<rect x="454.25" y="658.10" width="8.30" height="47.40" fill="#878787" stroke="#333333" stroke-width="0.8"/>
<line x1="458.40" y1="654.22" x2="458.40" y2="661.99" stroke="#222" stroke-width="0.8"/>
<line x1="456.60" y1="654.22" x2="460.20" y2="654.22" stroke="#222" stroke-width="0.8"/>
<line x1="456.60" y1="661.99" x2="460.20" y2="661.99" stroke="#222" stroke-width="0.8"/>
<circle cx="458.40" cy="652.66" r="1.30" fill="#111" stroke="none" stroke-width="0.5"/>
<circle cx="458.40" cy="658.88" r="1.30" fill="#111" stroke="none" stroke-width="0.5"/>
<circle cx="458.40" cy="663.54" r="1.30" fill="#111" stroke="none" stroke-width="0.5"/>
<rect x="466.75" y="634.02" width="8.30" height="71.48" fill="#fde2c4" stroke="#8a6a4a" stroke-width="0.8"/>
<line x1="470.90" y1="628.58" x2="470.90" y2="639.46" stroke="#222" stroke-width="0.8"/>
<line x1="469.10" y1="628.58" x2="472.70" y2="628.58" stroke="#222" stroke-width="0.8"/>
<line x1="469.10" y1="639.46" x2="472.70" y2="639.46" stroke="#222" stroke-width="0.8"/>
<circle cx="470.90" cy="626.25" r="1.30" fill="#111" stroke="none" stroke-width="0.5"/>
<circle cx="470.90" cy="633.24" r="1.30" fill="#111" stroke="none" stroke-width="0.5"/>
<circle cx="470.90" cy="643.34" r="1.30" fill="#111" stroke="none" stroke-width="0.5"/>
<rect x="479.25" y="644.89" width="8.30" height="60.61" fill="#cadff2" stroke="#5a7896" stroke-width="0.8"/>
<line x1="483.40" y1="641.01" x2="483.40" y2="648.78" stroke="#222" stroke-width="0.8"/>
<line x1="481.60" y1="641.01" x2="485.20" y2="641.01" stroke="#222" stroke-width="0.8"/>
<line x1="481.60" y1="648.78" x2="485.20" y2="648.78" stroke="#222" stroke-width="0.8"/>
<circle cx="483.40" cy="639.46" r="1.30" fill="#111" stroke="none" stroke-width="0.5"/>
<circle cx="483.40" cy="646.45" r="1.30" fill="#111" stroke="none" stroke-width="0.5"/>
<circle cx="483.40" cy="651.89" r="1.30" fill="#111" stroke="none" stroke-width="0.5"/>
<text x="423.70" y="708.00" font-size="8.0" text-anchor="end" fill="#000" stroke="#000" stroke-width="0.2" transform="rotate(-90 423.7 708.0)">HPF-CM</text>
<text x="436.20" y="708.00" font-size="8.0" text-anchor="end" fill="#000" stroke="#000" stroke-width="0.2" transform="rotate(-90 436.2 708.0)">CAF-CM</text>
<text x="448.70" y="708.00" font-size="8.0" text-anchor="end" fill="#000" stroke="#000" stroke-width="0.2" transform="rotate(-90 448.7 708.0)">Lactate</text>
<text x="461.20" y="708.00" font-size="8.0" text-anchor="end" fill="#000" stroke="#000" stroke-width="0.2" transform="rotate(-90 461.2 708.0)">HPF-CM</text>
<text x="473.70" y="708.00" font-size="8.0" text-anchor="end" fill="#000" stroke="#000" stroke-width="0.2" transform="rotate(-90 473.7 708.0)">CAF-CM</text>
<text x="486.20" y="708.00" font-size="8.0" text-anchor="end" fill="#000" stroke="#000" stroke-width="0.2" transform="rotate(-90 486.2 708.0)">Lactate</text>
<line x1="421.20" y1="585.80" x2="446.20" y2="585.80" stroke="#666" stroke-width="0.6"/>
<text x="434.50" y="584.80" font-size="5.5" text-anchor="middle" fill="#000" stroke="#000" stroke-width="0.2">**</text>
<line x1="418.00" y1="593.80" x2="436.20" y2="593.80" stroke="#666" stroke-width="0.6"/>
<text x="427.50" y="592.80" font-size="5.5" text-anchor="middle" fill="#000" stroke="#000" stroke-width="0.2">***</text>
<line x1="436.20" y1="596.30" x2="470.00" y2="596.30" stroke="#666" stroke-width="0.6"/>
<text x="452.00" y="595.30" font-size="5.5" text-anchor="middle" fill="#000" stroke="#000" stroke-width="0.2">**</text>
<line x1="445.00" y1="608.30" x2="482.50" y2="608.30" stroke="#666" stroke-width="0.6"/>
<text x="463.80" y="607.30" font-size="5.5" text-anchor="middle" fill="#000" stroke="#000" stroke-width="0.2">**</text>
<line x1="415.70" y1="742.00" x2="449.60" y2="742.00" stroke="#666" stroke-width="0.7"/>
<line x1="455.40" y1="742.00" x2="487.70" y2="742.00" stroke="#666" stroke-width="0.7"/>
<text x="433.50" y="749.00" font-size="8" text-anchor="middle" fill="#000" stroke="#000" stroke-width="0.2">–</text>
<text x="472.70" y="748.40" font-size="8" text-anchor="middle" fill="#000" stroke="#000" stroke-width="0.2">+</text>
<text x="488.40" y="743.20" font-size="7.6" text-anchor="start" font-weight="bold" fill="#000">iMCT1</text>
</svg>
</body></html>
